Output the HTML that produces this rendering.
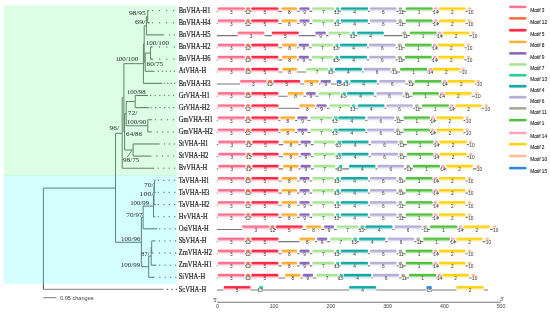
<!DOCTYPE html><html><head><meta charset="utf-8"><style>
html,body{margin:0;padding:0;background:#fff;width:550px;height:312px;overflow:hidden}
svg{display:block;filter:blur(0.3px)}
.tx{font-family:"Liberation Serif",serif;font-size:7.5px;fill:#1a1a1a;stroke:#1a1a1a;stroke-width:0.18px}
.bs{font-family:"Liberation Serif",serif;font-size:6.9px;fill:#2a2a2a}
.ml{font-family:"Liberation Sans",sans-serif;font-size:5.6px;fill:#383838;text-anchor:middle}
.lg{font-family:"Liberation Sans",sans-serif;font-size:5.3px;fill:#222;stroke:#222;stroke-width:0.1px}
.ax{font-family:"Liberation Sans",sans-serif;font-size:5.3px;fill:#444;text-anchor:middle}
</style></head><body>
<svg width="550" height="312" viewBox="0 0 550 312">
<defs>
<linearGradient id="g3" x1="0" y1="0" x2="0" y2="1"><stop offset="0" stop-color="#ff6f8e" stop-opacity="0.6"/><stop offset="0.2" stop-color="#ff6f8e"/><stop offset="0.5" stop-color="#ff6f8e"/><stop offset="0.75" stop-color="#ff6f8e" stop-opacity="0.5"/><stop offset="1" stop-color="#ff6f8e" stop-opacity="0.25"/></linearGradient><linearGradient id="h3" x1="0" y1="0" x2="0" y2="1"><stop offset="0" stop-color="#ff6f8e" stop-opacity="0.2"/><stop offset="1" stop-color="#ff6f8e" stop-opacity="0.03"/></linearGradient><linearGradient id="L3" x1="0" y1="0" x2="0" y2="1"><stop offset="0" stop-color="#ff6f8e" stop-opacity="0.6"/><stop offset="0.25" stop-color="#ff6f8e"/><stop offset="0.65" stop-color="#ff6f8e"/><stop offset="1" stop-color="#ff6f8e" stop-opacity="0.35"/></linearGradient>
<linearGradient id="g12" x1="0" y1="0" x2="0" y2="1"><stop offset="0" stop-color="#ff6a40" stop-opacity="0.6"/><stop offset="0.2" stop-color="#ff6a40"/><stop offset="0.5" stop-color="#ff6a40"/><stop offset="0.75" stop-color="#ff6a40" stop-opacity="0.5"/><stop offset="1" stop-color="#ff6a40" stop-opacity="0.25"/></linearGradient><linearGradient id="h12" x1="0" y1="0" x2="0" y2="1"><stop offset="0" stop-color="#ff6a40" stop-opacity="0.2"/><stop offset="1" stop-color="#ff6a40" stop-opacity="0.03"/></linearGradient><linearGradient id="L12" x1="0" y1="0" x2="0" y2="1"><stop offset="0" stop-color="#ff6a40" stop-opacity="0.6"/><stop offset="0.25" stop-color="#ff6a40"/><stop offset="0.65" stop-color="#ff6a40"/><stop offset="1" stop-color="#ff6a40" stop-opacity="0.35"/></linearGradient>
<linearGradient id="g5" x1="0" y1="0" x2="0" y2="1"><stop offset="0" stop-color="#ff2845" stop-opacity="0.6"/><stop offset="0.2" stop-color="#ff2845"/><stop offset="0.5" stop-color="#ff2845"/><stop offset="0.75" stop-color="#ff2845" stop-opacity="0.5"/><stop offset="1" stop-color="#ff2845" stop-opacity="0.25"/></linearGradient><linearGradient id="h5" x1="0" y1="0" x2="0" y2="1"><stop offset="0" stop-color="#ff2845" stop-opacity="0.2"/><stop offset="1" stop-color="#ff2845" stop-opacity="0.03"/></linearGradient><linearGradient id="L5" x1="0" y1="0" x2="0" y2="1"><stop offset="0" stop-color="#ff2845" stop-opacity="0.6"/><stop offset="0.25" stop-color="#ff2845"/><stop offset="0.65" stop-color="#ff2845"/><stop offset="1" stop-color="#ff2845" stop-opacity="0.35"/></linearGradient>
<linearGradient id="g8" x1="0" y1="0" x2="0" y2="1"><stop offset="0" stop-color="#ffad2e" stop-opacity="0.6"/><stop offset="0.2" stop-color="#ffad2e"/><stop offset="0.5" stop-color="#ffad2e"/><stop offset="0.75" stop-color="#ffad2e" stop-opacity="0.5"/><stop offset="1" stop-color="#ffad2e" stop-opacity="0.25"/></linearGradient><linearGradient id="h8" x1="0" y1="0" x2="0" y2="1"><stop offset="0" stop-color="#ffad2e" stop-opacity="0.2"/><stop offset="1" stop-color="#ffad2e" stop-opacity="0.03"/></linearGradient><linearGradient id="L8" x1="0" y1="0" x2="0" y2="1"><stop offset="0" stop-color="#ffad2e" stop-opacity="0.6"/><stop offset="0.25" stop-color="#ffad2e"/><stop offset="0.65" stop-color="#ffad2e"/><stop offset="1" stop-color="#ffad2e" stop-opacity="0.35"/></linearGradient>
<linearGradient id="g9" x1="0" y1="0" x2="0" y2="1"><stop offset="0" stop-color="#8a66b8" stop-opacity="0.6"/><stop offset="0.2" stop-color="#8a66b8"/><stop offset="0.5" stop-color="#8a66b8"/><stop offset="0.75" stop-color="#8a66b8" stop-opacity="0.5"/><stop offset="1" stop-color="#8a66b8" stop-opacity="0.25"/></linearGradient><linearGradient id="h9" x1="0" y1="0" x2="0" y2="1"><stop offset="0" stop-color="#8a66b8" stop-opacity="0.2"/><stop offset="1" stop-color="#8a66b8" stop-opacity="0.03"/></linearGradient><linearGradient id="L9" x1="0" y1="0" x2="0" y2="1"><stop offset="0" stop-color="#8a66b8" stop-opacity="0.6"/><stop offset="0.25" stop-color="#8a66b8"/><stop offset="0.65" stop-color="#8a66b8"/><stop offset="1" stop-color="#8a66b8" stop-opacity="0.35"/></linearGradient>
<linearGradient id="g7" x1="0" y1="0" x2="0" y2="1"><stop offset="0" stop-color="#a8e495" stop-opacity="0.6"/><stop offset="0.2" stop-color="#a8e495"/><stop offset="0.5" stop-color="#a8e495"/><stop offset="0.75" stop-color="#a8e495" stop-opacity="0.5"/><stop offset="1" stop-color="#a8e495" stop-opacity="0.25"/></linearGradient><linearGradient id="h7" x1="0" y1="0" x2="0" y2="1"><stop offset="0" stop-color="#a8e495" stop-opacity="0.2"/><stop offset="1" stop-color="#a8e495" stop-opacity="0.03"/></linearGradient><linearGradient id="L7" x1="0" y1="0" x2="0" y2="1"><stop offset="0" stop-color="#a8e495" stop-opacity="0.6"/><stop offset="0.25" stop-color="#a8e495"/><stop offset="0.65" stop-color="#a8e495"/><stop offset="1" stop-color="#a8e495" stop-opacity="0.35"/></linearGradient>
<linearGradient id="g13" x1="0" y1="0" x2="0" y2="1"><stop offset="0" stop-color="#2fcc99" stop-opacity="0.6"/><stop offset="0.2" stop-color="#2fcc99"/><stop offset="0.5" stop-color="#2fcc99"/><stop offset="0.75" stop-color="#2fcc99" stop-opacity="0.5"/><stop offset="1" stop-color="#2fcc99" stop-opacity="0.25"/></linearGradient><linearGradient id="h13" x1="0" y1="0" x2="0" y2="1"><stop offset="0" stop-color="#2fcc99" stop-opacity="0.2"/><stop offset="1" stop-color="#2fcc99" stop-opacity="0.03"/></linearGradient><linearGradient id="L13" x1="0" y1="0" x2="0" y2="1"><stop offset="0" stop-color="#2fcc99" stop-opacity="0.6"/><stop offset="0.25" stop-color="#2fcc99"/><stop offset="0.65" stop-color="#2fcc99"/><stop offset="1" stop-color="#2fcc99" stop-opacity="0.35"/></linearGradient>
<linearGradient id="g4" x1="0" y1="0" x2="0" y2="1"><stop offset="0" stop-color="#14a8a0" stop-opacity="0.6"/><stop offset="0.2" stop-color="#14a8a0"/><stop offset="0.5" stop-color="#14a8a0"/><stop offset="0.75" stop-color="#14a8a0" stop-opacity="0.5"/><stop offset="1" stop-color="#14a8a0" stop-opacity="0.25"/></linearGradient><linearGradient id="h4" x1="0" y1="0" x2="0" y2="1"><stop offset="0" stop-color="#14a8a0" stop-opacity="0.2"/><stop offset="1" stop-color="#14a8a0" stop-opacity="0.03"/></linearGradient><linearGradient id="L4" x1="0" y1="0" x2="0" y2="1"><stop offset="0" stop-color="#14a8a0" stop-opacity="0.6"/><stop offset="0.25" stop-color="#14a8a0"/><stop offset="0.65" stop-color="#14a8a0"/><stop offset="1" stop-color="#14a8a0" stop-opacity="0.35"/></linearGradient>
<linearGradient id="g6" x1="0" y1="0" x2="0" y2="1"><stop offset="0" stop-color="#b4aed8" stop-opacity="0.6"/><stop offset="0.2" stop-color="#b4aed8"/><stop offset="0.5" stop-color="#b4aed8"/><stop offset="0.75" stop-color="#b4aed8" stop-opacity="0.5"/><stop offset="1" stop-color="#b4aed8" stop-opacity="0.25"/></linearGradient><linearGradient id="h6" x1="0" y1="0" x2="0" y2="1"><stop offset="0" stop-color="#b4aed8" stop-opacity="0.2"/><stop offset="1" stop-color="#b4aed8" stop-opacity="0.03"/></linearGradient><linearGradient id="L6" x1="0" y1="0" x2="0" y2="1"><stop offset="0" stop-color="#b4aed8" stop-opacity="0.6"/><stop offset="0.25" stop-color="#b4aed8"/><stop offset="0.65" stop-color="#b4aed8"/><stop offset="1" stop-color="#b4aed8" stop-opacity="0.35"/></linearGradient>
<linearGradient id="g11" x1="0" y1="0" x2="0" y2="1"><stop offset="0" stop-color="#a3aa90" stop-opacity="0.6"/><stop offset="0.2" stop-color="#a3aa90"/><stop offset="0.5" stop-color="#a3aa90"/><stop offset="0.75" stop-color="#a3aa90" stop-opacity="0.5"/><stop offset="1" stop-color="#a3aa90" stop-opacity="0.25"/></linearGradient><linearGradient id="h11" x1="0" y1="0" x2="0" y2="1"><stop offset="0" stop-color="#a3aa90" stop-opacity="0.2"/><stop offset="1" stop-color="#a3aa90" stop-opacity="0.03"/></linearGradient><linearGradient id="L11" x1="0" y1="0" x2="0" y2="1"><stop offset="0" stop-color="#a3aa90" stop-opacity="0.6"/><stop offset="0.25" stop-color="#a3aa90"/><stop offset="0.65" stop-color="#a3aa90"/><stop offset="1" stop-color="#a3aa90" stop-opacity="0.35"/></linearGradient>
<linearGradient id="g1" x1="0" y1="0" x2="0" y2="1"><stop offset="0" stop-color="#55c040" stop-opacity="0.6"/><stop offset="0.2" stop-color="#55c040"/><stop offset="0.5" stop-color="#55c040"/><stop offset="0.75" stop-color="#55c040" stop-opacity="0.5"/><stop offset="1" stop-color="#55c040" stop-opacity="0.25"/></linearGradient><linearGradient id="h1" x1="0" y1="0" x2="0" y2="1"><stop offset="0" stop-color="#55c040" stop-opacity="0.2"/><stop offset="1" stop-color="#55c040" stop-opacity="0.03"/></linearGradient><linearGradient id="L1" x1="0" y1="0" x2="0" y2="1"><stop offset="0" stop-color="#55c040" stop-opacity="0.6"/><stop offset="0.25" stop-color="#55c040"/><stop offset="0.65" stop-color="#55c040"/><stop offset="1" stop-color="#55c040" stop-opacity="0.35"/></linearGradient>
<linearGradient id="g14" x1="0" y1="0" x2="0" y2="1"><stop offset="0" stop-color="#ffa2bb" stop-opacity="0.6"/><stop offset="0.2" stop-color="#ffa2bb"/><stop offset="0.5" stop-color="#ffa2bb"/><stop offset="0.75" stop-color="#ffa2bb" stop-opacity="0.5"/><stop offset="1" stop-color="#ffa2bb" stop-opacity="0.25"/></linearGradient><linearGradient id="h14" x1="0" y1="0" x2="0" y2="1"><stop offset="0" stop-color="#ffa2bb" stop-opacity="0.2"/><stop offset="1" stop-color="#ffa2bb" stop-opacity="0.03"/></linearGradient><linearGradient id="L14" x1="0" y1="0" x2="0" y2="1"><stop offset="0" stop-color="#ffa2bb" stop-opacity="0.6"/><stop offset="0.25" stop-color="#ffa2bb"/><stop offset="0.65" stop-color="#ffa2bb"/><stop offset="1" stop-color="#ffa2bb" stop-opacity="0.35"/></linearGradient>
<linearGradient id="g2" x1="0" y1="0" x2="0" y2="1"><stop offset="0" stop-color="#ffd20f" stop-opacity="0.6"/><stop offset="0.2" stop-color="#ffd20f"/><stop offset="0.5" stop-color="#ffd20f"/><stop offset="0.75" stop-color="#ffd20f" stop-opacity="0.5"/><stop offset="1" stop-color="#ffd20f" stop-opacity="0.25"/></linearGradient><linearGradient id="h2" x1="0" y1="0" x2="0" y2="1"><stop offset="0" stop-color="#ffd20f" stop-opacity="0.2"/><stop offset="1" stop-color="#ffd20f" stop-opacity="0.03"/></linearGradient><linearGradient id="L2" x1="0" y1="0" x2="0" y2="1"><stop offset="0" stop-color="#ffd20f" stop-opacity="0.6"/><stop offset="0.25" stop-color="#ffd20f"/><stop offset="0.65" stop-color="#ffd20f"/><stop offset="1" stop-color="#ffd20f" stop-opacity="0.35"/></linearGradient>
<linearGradient id="g10" x1="0" y1="0" x2="0" y2="1"><stop offset="0" stop-color="#ffbf9c" stop-opacity="0.6"/><stop offset="0.2" stop-color="#ffbf9c"/><stop offset="0.5" stop-color="#ffbf9c"/><stop offset="0.75" stop-color="#ffbf9c" stop-opacity="0.5"/><stop offset="1" stop-color="#ffbf9c" stop-opacity="0.25"/></linearGradient><linearGradient id="h10" x1="0" y1="0" x2="0" y2="1"><stop offset="0" stop-color="#ffbf9c" stop-opacity="0.2"/><stop offset="1" stop-color="#ffbf9c" stop-opacity="0.03"/></linearGradient><linearGradient id="L10" x1="0" y1="0" x2="0" y2="1"><stop offset="0" stop-color="#ffbf9c" stop-opacity="0.6"/><stop offset="0.25" stop-color="#ffbf9c"/><stop offset="0.65" stop-color="#ffbf9c"/><stop offset="1" stop-color="#ffbf9c" stop-opacity="0.35"/></linearGradient>
<linearGradient id="g15" x1="0" y1="0" x2="0" y2="1"><stop offset="0" stop-color="#2a88dd" stop-opacity="0.6"/><stop offset="0.2" stop-color="#2a88dd"/><stop offset="0.5" stop-color="#2a88dd"/><stop offset="0.75" stop-color="#2a88dd" stop-opacity="0.5"/><stop offset="1" stop-color="#2a88dd" stop-opacity="0.25"/></linearGradient><linearGradient id="h15" x1="0" y1="0" x2="0" y2="1"><stop offset="0" stop-color="#2a88dd" stop-opacity="0.2"/><stop offset="1" stop-color="#2a88dd" stop-opacity="0.03"/></linearGradient><linearGradient id="L15" x1="0" y1="0" x2="0" y2="1"><stop offset="0" stop-color="#2a88dd" stop-opacity="0.6"/><stop offset="0.25" stop-color="#2a88dd"/><stop offset="0.65" stop-color="#2a88dd"/><stop offset="1" stop-color="#2a88dd" stop-opacity="0.35"/></linearGradient>
</defs>
<line x1="147.70" y1="10.65" x2="147.70" y2="22.77" stroke="#4a4a4a" stroke-width="1.0"/>
<line x1="146.40" y1="16.71" x2="146.40" y2="34.89" stroke="#4a4a4a" stroke-width="1.0"/>
<line x1="146.40" y1="16.71" x2="147.70" y2="16.71" stroke="#4a4a4a" stroke-width="1.0"/>
<line x1="150.50" y1="47.01" x2="150.50" y2="59.13" stroke="#4a4a4a" stroke-width="1.0"/>
<line x1="145.20" y1="53.07" x2="145.20" y2="71.25" stroke="#4a4a4a" stroke-width="1.0"/>
<line x1="145.20" y1="53.07" x2="150.50" y2="53.07" stroke="#4a4a4a" stroke-width="1.0"/>
<line x1="144.20" y1="25.80" x2="144.20" y2="62.16" stroke="#4a4a4a" stroke-width="1.0"/>
<line x1="144.20" y1="25.80" x2="146.40" y2="25.80" stroke="#4a4a4a" stroke-width="1.0"/>
<line x1="144.20" y1="62.16" x2="145.20" y2="62.16" stroke="#4a4a4a" stroke-width="1.0"/>
<line x1="143.40" y1="43.98" x2="143.40" y2="83.37" stroke="#4a4a4a" stroke-width="1.0"/>
<line x1="143.40" y1="43.98" x2="144.20" y2="43.98" stroke="#4a4a4a" stroke-width="1.0"/>
<line x1="135.20" y1="95.49" x2="135.20" y2="107.61" stroke="#4a4a4a" stroke-width="1.0"/>
<line x1="147.80" y1="119.73" x2="147.80" y2="131.85" stroke="#4a4a4a" stroke-width="1.0"/>
<line x1="126.20" y1="101.55" x2="126.20" y2="125.79" stroke="#4a4a4a" stroke-width="1.0"/>
<line x1="126.20" y1="101.55" x2="135.20" y2="101.55" stroke="#4a4a4a" stroke-width="1.0"/>
<line x1="126.20" y1="125.79" x2="147.80" y2="125.79" stroke="#4a4a4a" stroke-width="1.0"/>
<line x1="133.10" y1="143.97" x2="133.10" y2="156.09" stroke="#4a4a4a" stroke-width="1.0"/>
<line x1="124.60" y1="113.67" x2="124.60" y2="150.03" stroke="#4a4a4a" stroke-width="1.0"/>
<line x1="124.60" y1="113.67" x2="126.20" y2="113.67" stroke="#4a4a4a" stroke-width="1.0"/>
<line x1="124.60" y1="150.03" x2="133.10" y2="150.03" stroke="#4a4a4a" stroke-width="1.0"/>
<line x1="123.90" y1="63.67" x2="123.90" y2="131.85" stroke="#4a4a4a" stroke-width="1.0"/>
<line x1="123.90" y1="63.67" x2="143.40" y2="63.67" stroke="#4a4a4a" stroke-width="1.0"/>
<line x1="123.90" y1="131.85" x2="124.60" y2="131.85" stroke="#4a4a4a" stroke-width="1.0"/>
<line x1="122.20" y1="97.76" x2="122.20" y2="168.21" stroke="#4a4a4a" stroke-width="1.0"/>
<line x1="122.20" y1="97.76" x2="123.90" y2="97.76" stroke="#4a4a4a" stroke-width="1.0"/>
<line x1="154.40" y1="180.33" x2="154.40" y2="192.45" stroke="#4a4a4a" stroke-width="1.0"/>
<line x1="154.00" y1="186.39" x2="154.00" y2="204.57" stroke="#4a4a4a" stroke-width="1.0"/>
<line x1="154.00" y1="186.39" x2="154.40" y2="186.39" stroke="#4a4a4a" stroke-width="1.0"/>
<line x1="153.50" y1="195.48" x2="153.50" y2="216.69" stroke="#4a4a4a" stroke-width="1.0"/>
<line x1="153.50" y1="195.48" x2="154.00" y2="195.48" stroke="#4a4a4a" stroke-width="1.0"/>
<line x1="143.10" y1="206.08" x2="143.10" y2="228.81" stroke="#4a4a4a" stroke-width="1.0"/>
<line x1="143.10" y1="206.08" x2="153.50" y2="206.08" stroke="#4a4a4a" stroke-width="1.0"/>
<line x1="151.70" y1="240.93" x2="151.70" y2="253.05" stroke="#4a4a4a" stroke-width="1.0"/>
<line x1="151.20" y1="246.99" x2="151.20" y2="265.17" stroke="#4a4a4a" stroke-width="1.0"/>
<line x1="151.20" y1="246.99" x2="151.70" y2="246.99" stroke="#4a4a4a" stroke-width="1.0"/>
<line x1="148.70" y1="256.08" x2="148.70" y2="277.29" stroke="#4a4a4a" stroke-width="1.0"/>
<line x1="148.70" y1="256.08" x2="151.20" y2="256.08" stroke="#4a4a4a" stroke-width="1.0"/>
<line x1="141.40" y1="217.45" x2="141.40" y2="266.68" stroke="#4a4a4a" stroke-width="1.0"/>
<line x1="141.40" y1="217.45" x2="143.10" y2="217.45" stroke="#4a4a4a" stroke-width="1.0"/>
<line x1="141.40" y1="266.68" x2="148.70" y2="266.68" stroke="#4a4a4a" stroke-width="1.0"/>
<line x1="115.50" y1="133.29" x2="115.50" y2="242.27" stroke="#4a4a4a" stroke-width="1.0"/>
<line x1="115.50" y1="133.29" x2="122.20" y2="133.29" stroke="#4a4a4a" stroke-width="1.0"/>
<line x1="115.50" y1="242.27" x2="141.40" y2="242.27" stroke="#4a4a4a" stroke-width="1.0"/>
<line x1="43.40" y1="188.08" x2="43.40" y2="289.41" stroke="#4a4a4a" stroke-width="1.0"/>
<line x1="43.40" y1="188.08" x2="115.50" y2="188.08" stroke="#4a4a4a" stroke-width="1.0"/>
<line x1="147.70" y1="10.65" x2="149.00" y2="10.65" stroke="#4a4a4a" stroke-width="1.1"/>
<rect x="151.90" y="10.05" width="1.2" height="1.2" fill="#4a4a4a"/>
<rect x="158.93" y="10.05" width="1.2" height="1.2" fill="#4a4a4a"/>
<rect x="165.97" y="10.05" width="1.2" height="1.2" fill="#4a4a4a"/>
<rect x="173.00" y="10.05" width="1.2" height="1.2" fill="#4a4a4a"/>
<line x1="147.70" y1="22.77" x2="149.80" y2="22.77" stroke="#4a4a4a" stroke-width="1.1"/>
<rect x="151.90" y="22.17" width="1.2" height="1.2" fill="#4a4a4a"/>
<rect x="158.93" y="22.17" width="1.2" height="1.2" fill="#4a4a4a"/>
<rect x="165.97" y="22.17" width="1.2" height="1.2" fill="#4a4a4a"/>
<rect x="173.00" y="22.17" width="1.2" height="1.2" fill="#4a4a4a"/>
<line x1="146.40" y1="34.89" x2="164.00" y2="34.89" stroke="#4a4a4a" stroke-width="1.1"/>
<rect x="168.90" y="34.29" width="1.2" height="1.2" fill="#4a4a4a"/>
<rect x="173.60" y="34.29" width="1.2" height="1.2" fill="#4a4a4a"/>
<line x1="150.50" y1="47.01" x2="152.00" y2="47.01" stroke="#4a4a4a" stroke-width="1.1"/>
<rect x="151.40" y="46.41" width="1.2" height="1.2" fill="#4a4a4a"/>
<rect x="158.80" y="46.41" width="1.2" height="1.2" fill="#4a4a4a"/>
<rect x="166.20" y="46.41" width="1.2" height="1.2" fill="#4a4a4a"/>
<rect x="173.60" y="46.41" width="1.2" height="1.2" fill="#4a4a4a"/>
<line x1="150.50" y1="59.13" x2="152.00" y2="59.13" stroke="#4a4a4a" stroke-width="1.1"/>
<rect x="151.90" y="58.53" width="1.2" height="1.2" fill="#4a4a4a"/>
<rect x="159.03" y="58.53" width="1.2" height="1.2" fill="#4a4a4a"/>
<rect x="166.17" y="58.53" width="1.2" height="1.2" fill="#4a4a4a"/>
<rect x="173.30" y="58.53" width="1.2" height="1.2" fill="#4a4a4a"/>
<line x1="145.20" y1="71.25" x2="154.50" y2="71.25" stroke="#4a4a4a" stroke-width="1.1"/>
<rect x="157.80" y="70.65" width="1.2" height="1.2" fill="#4a4a4a"/>
<rect x="161.75" y="70.65" width="1.2" height="1.2" fill="#4a4a4a"/>
<rect x="165.70" y="70.65" width="1.2" height="1.2" fill="#4a4a4a"/>
<rect x="169.65" y="70.65" width="1.2" height="1.2" fill="#4a4a4a"/>
<rect x="173.60" y="70.65" width="1.2" height="1.2" fill="#4a4a4a"/>
<line x1="143.40" y1="83.37" x2="162.30" y2="83.37" stroke="#4a4a4a" stroke-width="1.1"/>
<rect x="163.70" y="82.77" width="1.2" height="1.2" fill="#4a4a4a"/>
<rect x="167.17" y="82.77" width="1.2" height="1.2" fill="#4a4a4a"/>
<rect x="170.63" y="82.77" width="1.2" height="1.2" fill="#4a4a4a"/>
<rect x="174.10" y="82.77" width="1.2" height="1.2" fill="#4a4a4a"/>
<line x1="135.20" y1="95.49" x2="148.00" y2="95.49" stroke="#4a4a4a" stroke-width="1.1"/>
<rect x="150.00" y="94.89" width="1.2" height="1.2" fill="#4a4a4a"/>
<rect x="154.58" y="94.89" width="1.2" height="1.2" fill="#4a4a4a"/>
<rect x="159.16" y="94.89" width="1.2" height="1.2" fill="#4a4a4a"/>
<rect x="163.74" y="94.89" width="1.2" height="1.2" fill="#4a4a4a"/>
<rect x="168.32" y="94.89" width="1.2" height="1.2" fill="#4a4a4a"/>
<rect x="172.90" y="94.89" width="1.2" height="1.2" fill="#4a4a4a"/>
<line x1="135.20" y1="107.61" x2="149.10" y2="107.61" stroke="#4a4a4a" stroke-width="1.1"/>
<rect x="150.40" y="107.01" width="1.2" height="1.2" fill="#4a4a4a"/>
<rect x="154.94" y="107.01" width="1.2" height="1.2" fill="#4a4a4a"/>
<rect x="159.48" y="107.01" width="1.2" height="1.2" fill="#4a4a4a"/>
<rect x="164.02" y="107.01" width="1.2" height="1.2" fill="#4a4a4a"/>
<rect x="168.56" y="107.01" width="1.2" height="1.2" fill="#4a4a4a"/>
<rect x="173.10" y="107.01" width="1.2" height="1.2" fill="#4a4a4a"/>
<line x1="147.80" y1="119.73" x2="151.80" y2="119.73" stroke="#4a4a4a" stroke-width="1.1"/>
<rect x="154.80" y="119.13" width="1.2" height="1.2" fill="#4a4a4a"/>
<rect x="160.77" y="119.13" width="1.2" height="1.2" fill="#4a4a4a"/>
<rect x="166.73" y="119.13" width="1.2" height="1.2" fill="#4a4a4a"/>
<rect x="172.70" y="119.13" width="1.2" height="1.2" fill="#4a4a4a"/>
<line x1="147.80" y1="131.85" x2="151.80" y2="131.85" stroke="#4a4a4a" stroke-width="1.1"/>
<rect x="156.60" y="131.25" width="1.2" height="1.2" fill="#4a4a4a"/>
<rect x="161.97" y="131.25" width="1.2" height="1.2" fill="#4a4a4a"/>
<rect x="167.33" y="131.25" width="1.2" height="1.2" fill="#4a4a4a"/>
<rect x="172.70" y="131.25" width="1.2" height="1.2" fill="#4a4a4a"/>
<line x1="133.10" y1="143.97" x2="159.60" y2="143.97" stroke="#4a4a4a" stroke-width="1.1"/>
<rect x="163.90" y="143.37" width="1.2" height="1.2" fill="#4a4a4a"/>
<rect x="168.70" y="143.37" width="1.2" height="1.2" fill="#4a4a4a"/>
<rect x="173.50" y="143.37" width="1.2" height="1.2" fill="#4a4a4a"/>
<line x1="133.10" y1="156.09" x2="151.40" y2="156.09" stroke="#4a4a4a" stroke-width="1.1"/>
<rect x="156.20" y="155.49" width="1.2" height="1.2" fill="#4a4a4a"/>
<rect x="161.83" y="155.49" width="1.2" height="1.2" fill="#4a4a4a"/>
<rect x="167.47" y="155.49" width="1.2" height="1.2" fill="#4a4a4a"/>
<rect x="173.10" y="155.49" width="1.2" height="1.2" fill="#4a4a4a"/>
<line x1="122.20" y1="168.21" x2="154.30" y2="168.21" stroke="#4a4a4a" stroke-width="1.1"/>
<rect x="157.70" y="167.61" width="1.2" height="1.2" fill="#4a4a4a"/>
<rect x="163.10" y="167.61" width="1.2" height="1.2" fill="#4a4a4a"/>
<rect x="168.50" y="167.61" width="1.2" height="1.2" fill="#4a4a4a"/>
<rect x="173.90" y="167.61" width="1.2" height="1.2" fill="#4a4a4a"/>
<line x1="154.40" y1="180.33" x2="155.60" y2="180.33" stroke="#4a4a4a" stroke-width="1.1"/>
<rect x="157.80" y="179.73" width="1.2" height="1.2" fill="#4a4a4a"/>
<rect x="163.13" y="179.73" width="1.2" height="1.2" fill="#4a4a4a"/>
<rect x="168.47" y="179.73" width="1.2" height="1.2" fill="#4a4a4a"/>
<rect x="173.80" y="179.73" width="1.2" height="1.2" fill="#4a4a4a"/>
<line x1="154.40" y1="192.45" x2="155.60" y2="192.45" stroke="#4a4a4a" stroke-width="1.1"/>
<rect x="157.70" y="191.85" width="1.2" height="1.2" fill="#4a4a4a"/>
<rect x="163.20" y="191.85" width="1.2" height="1.2" fill="#4a4a4a"/>
<rect x="168.70" y="191.85" width="1.2" height="1.2" fill="#4a4a4a"/>
<rect x="174.20" y="191.85" width="1.2" height="1.2" fill="#4a4a4a"/>
<line x1="154.00" y1="204.57" x2="155.60" y2="204.57" stroke="#4a4a4a" stroke-width="1.1"/>
<rect x="157.70" y="203.97" width="1.2" height="1.2" fill="#4a4a4a"/>
<rect x="163.20" y="203.97" width="1.2" height="1.2" fill="#4a4a4a"/>
<rect x="168.70" y="203.97" width="1.2" height="1.2" fill="#4a4a4a"/>
<rect x="174.20" y="203.97" width="1.2" height="1.2" fill="#4a4a4a"/>
<line x1="153.50" y1="216.69" x2="155.20" y2="216.69" stroke="#4a4a4a" stroke-width="1.1"/>
<rect x="157.70" y="216.09" width="1.2" height="1.2" fill="#4a4a4a"/>
<rect x="163.20" y="216.09" width="1.2" height="1.2" fill="#4a4a4a"/>
<rect x="168.70" y="216.09" width="1.2" height="1.2" fill="#4a4a4a"/>
<rect x="174.20" y="216.09" width="1.2" height="1.2" fill="#4a4a4a"/>
<line x1="143.10" y1="228.81" x2="157.50" y2="228.81" stroke="#4a4a4a" stroke-width="1.1"/>
<rect x="159.10" y="228.21" width="1.2" height="1.2" fill="#4a4a4a"/>
<rect x="164.27" y="228.21" width="1.2" height="1.2" fill="#4a4a4a"/>
<rect x="169.43" y="228.21" width="1.2" height="1.2" fill="#4a4a4a"/>
<rect x="174.60" y="228.21" width="1.2" height="1.2" fill="#4a4a4a"/>
<line x1="151.70" y1="240.93" x2="155.50" y2="240.93" stroke="#4a4a4a" stroke-width="1.1"/>
<rect x="158.90" y="240.33" width="1.2" height="1.2" fill="#4a4a4a"/>
<rect x="164.27" y="240.33" width="1.2" height="1.2" fill="#4a4a4a"/>
<rect x="169.63" y="240.33" width="1.2" height="1.2" fill="#4a4a4a"/>
<rect x="175.00" y="240.33" width="1.2" height="1.2" fill="#4a4a4a"/>
<line x1="151.70" y1="253.05" x2="153.50" y2="253.05" stroke="#4a4a4a" stroke-width="1.1"/>
<rect x="158.90" y="252.45" width="1.2" height="1.2" fill="#4a4a4a"/>
<rect x="164.27" y="252.45" width="1.2" height="1.2" fill="#4a4a4a"/>
<rect x="169.63" y="252.45" width="1.2" height="1.2" fill="#4a4a4a"/>
<rect x="175.00" y="252.45" width="1.2" height="1.2" fill="#4a4a4a"/>
<line x1="151.20" y1="265.17" x2="156.40" y2="265.17" stroke="#4a4a4a" stroke-width="1.1"/>
<rect x="159.10" y="264.57" width="1.2" height="1.2" fill="#4a4a4a"/>
<rect x="164.40" y="264.57" width="1.2" height="1.2" fill="#4a4a4a"/>
<rect x="169.70" y="264.57" width="1.2" height="1.2" fill="#4a4a4a"/>
<rect x="175.00" y="264.57" width="1.2" height="1.2" fill="#4a4a4a"/>
<line x1="148.70" y1="277.29" x2="154.50" y2="277.29" stroke="#4a4a4a" stroke-width="1.1"/>
<rect x="159.20" y="276.69" width="1.2" height="1.2" fill="#4a4a4a"/>
<rect x="164.53" y="276.69" width="1.2" height="1.2" fill="#4a4a4a"/>
<rect x="169.87" y="276.69" width="1.2" height="1.2" fill="#4a4a4a"/>
<rect x="175.20" y="276.69" width="1.2" height="1.2" fill="#4a4a4a"/>
<line x1="43.40" y1="289.41" x2="163.60" y2="289.41" stroke="#9a9a9a" stroke-width="1.3"/>
<rect x="166.90" y="288.81" width="1.2" height="1.2" fill="#4a4a4a"/>
<rect x="171.35" y="288.81" width="1.2" height="1.2" fill="#4a4a4a"/>
<rect x="175.80" y="288.81" width="1.2" height="1.2" fill="#4a4a4a"/>
<rect x="4" y="5.2" width="172.9" height="170.9" fill="rgb(146,252,174)" fill-opacity="0.32"/>
<rect x="4" y="175.3" width="172.9" height="108.5" fill="rgb(121,252,252)" fill-opacity="0.32"/>
<text class="bs" x="128.90" y="15.10" textLength="16.90" lengthAdjust="spacingAndGlyphs">98/95</text>
<text class="bs" x="135.10" y="24.40" textLength="10.50" lengthAdjust="spacingAndGlyphs">69/</text>
<text class="bs" x="145.70" y="45.10" textLength="23.40" lengthAdjust="spacingAndGlyphs">100/100</text>
<text class="bs" x="146.50" y="66.00" textLength="16.80" lengthAdjust="spacingAndGlyphs">60/75</text>
<text class="bs" x="115.40" y="60.90" textLength="22.80" lengthAdjust="spacingAndGlyphs">100/100</text>
<text class="bs" x="126.80" y="94.10" textLength="18.80" lengthAdjust="spacingAndGlyphs">100/98</text>
<text class="bs" x="127.80" y="115.30" textLength="9.50" lengthAdjust="spacingAndGlyphs">72/</text>
<text class="bs" x="126.80" y="124.00" textLength="19.50" lengthAdjust="spacingAndGlyphs">100/90</text>
<text class="bs" x="109.50" y="130.40" textLength="9.70" lengthAdjust="spacingAndGlyphs">96/</text>
<text class="bs" x="126.10" y="136.40" textLength="16.10" lengthAdjust="spacingAndGlyphs">64/86</text>
<text class="bs" x="123.00" y="162.20" textLength="16.40" lengthAdjust="spacingAndGlyphs">98/75</text>
<text class="bs" x="144.00" y="186.60" textLength="9.60" lengthAdjust="spacingAndGlyphs">70/</text>
<text class="bs" x="139.50" y="195.70" textLength="14.10" lengthAdjust="spacingAndGlyphs">100/</text>
<text class="bs" x="130.20" y="205.00" textLength="19.00" lengthAdjust="spacingAndGlyphs">100/99</text>
<text class="bs" x="126.50" y="216.60" textLength="16.00" lengthAdjust="spacingAndGlyphs">70/97</text>
<text class="bs" x="121.10" y="241.20" textLength="19.30" lengthAdjust="spacingAndGlyphs">100/96</text>
<text class="bs" x="141.30" y="255.60" textLength="7.90" lengthAdjust="spacingAndGlyphs">87/</text>
<text class="bs" x="120.80" y="266.70" textLength="19.40" lengthAdjust="spacingAndGlyphs">100/99</text>
<line x1="126.9" y1="157.5" x2="131.7" y2="150.8" stroke="#4a4a4a" stroke-width="0.7"/>
<text class="tx" transform="translate(178.7 12.85) scale(0.87 1)">BnVHA-H1</text>
<text class="tx" transform="translate(178.7 24.97) scale(0.87 1)">BnVHA-H4</text>
<text class="tx" transform="translate(178.7 37.09) scale(0.87 1)">BnVHA-H5</text>
<text class="tx" transform="translate(178.7 49.21) scale(0.87 1)">BnVHA-H2</text>
<text class="tx" transform="translate(178.7 61.33) scale(0.87 1)">BnVHA-H6</text>
<text class="tx" transform="translate(178.7 73.45) scale(0.87 1)">AtVHA-H</text>
<text class="tx" transform="translate(178.7 85.57) scale(0.87 1)">BnVHA-H3</text>
<text class="tx" transform="translate(178.7 97.69) scale(0.87 1)">GrVHA-H1</text>
<text class="tx" transform="translate(178.7 109.81) scale(0.87 1)">GrVHA-H2</text>
<text class="tx" transform="translate(178.7 121.93) scale(0.87 1)">GmVHA-H1</text>
<text class="tx" transform="translate(178.7 134.05) scale(0.87 1)">GmVHA-H2</text>
<text class="tx" transform="translate(178.7 146.17) scale(0.87 1)">StVHA-H1</text>
<text class="tx" transform="translate(178.7 158.29) scale(0.87 1)">StVHA-H2</text>
<text class="tx" transform="translate(178.7 170.41) scale(0.87 1)">BvVHA-H</text>
<text class="tx" transform="translate(178.7 182.53) scale(0.87 1)">TaVHA-H1</text>
<text class="tx" transform="translate(178.7 194.65) scale(0.87 1)">TaVHA-H3</text>
<text class="tx" transform="translate(178.7 206.77) scale(0.87 1)">TaVHA-H2</text>
<text class="tx" transform="translate(178.7 218.89) scale(0.87 1)">HvVHA-H</text>
<text class="tx" transform="translate(178.7 231.01) scale(0.87 1)">OsiVHA-H</text>
<text class="tx" transform="translate(178.7 243.13) scale(0.87 1)">SbVHA-H</text>
<text class="tx" transform="translate(178.7 255.25) scale(0.87 1)">ZmVHA-H2</text>
<text class="tx" transform="translate(178.7 267.37) scale(0.87 1)">ZmVHA-H1</text>
<text class="tx" transform="translate(178.7 279.49) scale(0.87 1)">SiVHA-H</text>
<text class="tx" transform="translate(178.7 291.61) scale(0.87 1)">ScVHA-H</text>
<line x1="216.8" y1="11.35" x2="471.4" y2="11.35" stroke="#777" stroke-width="1.1"/>
<rect x="217.70" y="8.05" width="27.10" height="5.5" fill="#fff"/>
<rect x="217.90" y="8.55" width="26.70" height="3.6" rx="1.0" fill="url(#h3)" stroke="#ff6f8e" stroke-opacity="0.18" stroke-width="0.3"/>
<rect x="217.85" y="7.20" width="26.80" height="3.4" rx="1.1" fill="url(#g3)" stroke="#ff6f8e" stroke-opacity="0.3" stroke-width="0.3"/>
<rect x="246.10" y="8.05" width="3.90" height="5.5" fill="#fff"/>
<rect x="246.30" y="8.55" width="3.50" height="3.6" rx="1.0" fill="url(#h12)" stroke="#ff6a40" stroke-opacity="0.18" stroke-width="0.3"/>
<rect x="246.25" y="7.20" width="3.60" height="3.4" rx="1.1" fill="url(#g12)" stroke="#ff6a40" stroke-opacity="0.3" stroke-width="0.3"/>
<rect x="251.30" y="8.05" width="27.20" height="5.5" fill="#fff"/>
<rect x="251.50" y="8.55" width="26.80" height="3.6" rx="1.0" fill="url(#h5)" stroke="#ff2845" stroke-opacity="0.18" stroke-width="0.3"/>
<rect x="251.45" y="7.20" width="26.90" height="3.4" rx="1.1" fill="url(#g5)" stroke="#ff2845" stroke-opacity="0.3" stroke-width="0.3"/>
<rect x="281.60" y="8.05" width="15.60" height="5.5" fill="#fff"/>
<rect x="281.80" y="8.55" width="15.20" height="3.6" rx="1.0" fill="url(#h8)" stroke="#ffad2e" stroke-opacity="0.18" stroke-width="0.3"/>
<rect x="281.75" y="7.20" width="15.30" height="3.4" rx="1.1" fill="url(#g8)" stroke="#ffad2e" stroke-opacity="0.3" stroke-width="0.3"/>
<rect x="299.40" y="8.05" width="10.20" height="5.5" fill="#fff"/>
<rect x="299.60" y="8.55" width="9.80" height="3.6" rx="1.0" fill="url(#h9)" stroke="#8a66b8" stroke-opacity="0.18" stroke-width="0.3"/>
<rect x="299.55" y="7.20" width="9.90" height="3.4" rx="1.1" fill="url(#g9)" stroke="#8a66b8" stroke-opacity="0.3" stroke-width="0.3"/>
<rect x="312.20" y="8.05" width="22.00" height="5.5" fill="#fff"/>
<rect x="312.40" y="8.55" width="21.60" height="3.6" rx="1.0" fill="url(#h7)" stroke="#a8e495" stroke-opacity="0.18" stroke-width="0.3"/>
<rect x="312.35" y="7.20" width="21.70" height="3.4" rx="1.1" fill="url(#g7)" stroke="#a8e495" stroke-opacity="0.3" stroke-width="0.3"/>
<rect x="336.10" y="8.05" width="3.20" height="5.5" fill="#fff"/>
<rect x="336.30" y="8.55" width="2.80" height="3.6" rx="1.0" fill="url(#h13)" stroke="#2fcc99" stroke-opacity="0.18" stroke-width="0.3"/>
<rect x="336.25" y="7.20" width="2.90" height="3.4" rx="1.1" fill="url(#g13)" stroke="#2fcc99" stroke-opacity="0.3" stroke-width="0.3"/>
<rect x="340.80" y="8.05" width="27.30" height="5.5" fill="#fff"/>
<rect x="341.00" y="8.55" width="26.90" height="3.6" rx="1.0" fill="url(#h4)" stroke="#14a8a0" stroke-opacity="0.18" stroke-width="0.3"/>
<rect x="340.95" y="7.20" width="27.00" height="3.4" rx="1.1" fill="url(#g4)" stroke="#14a8a0" stroke-opacity="0.3" stroke-width="0.3"/>
<rect x="369.90" y="8.05" width="26.70" height="5.5" fill="#fff"/>
<rect x="370.10" y="8.55" width="26.30" height="3.6" rx="1.0" fill="url(#h6)" stroke="#b4aed8" stroke-opacity="0.18" stroke-width="0.3"/>
<rect x="370.05" y="7.20" width="26.40" height="3.4" rx="1.1" fill="url(#g6)" stroke="#b4aed8" stroke-opacity="0.3" stroke-width="0.3"/>
<rect x="398.50" y="8.05" width="3.70" height="5.5" fill="#fff"/>
<rect x="398.70" y="8.55" width="3.30" height="3.6" rx="1.0" fill="url(#h11)" stroke="#a3aa90" stroke-opacity="0.18" stroke-width="0.3"/>
<rect x="398.65" y="7.20" width="3.40" height="3.4" rx="1.1" fill="url(#g11)" stroke="#a3aa90" stroke-opacity="0.3" stroke-width="0.3"/>
<rect x="405.60" y="8.05" width="27.10" height="5.5" fill="#fff"/>
<rect x="405.80" y="8.55" width="26.70" height="3.6" rx="1.0" fill="url(#h1)" stroke="#55c040" stroke-opacity="0.18" stroke-width="0.3"/>
<rect x="405.75" y="7.20" width="26.80" height="3.4" rx="1.1" fill="url(#g1)" stroke="#55c040" stroke-opacity="0.3" stroke-width="0.3"/>
<rect x="433.80" y="8.05" width="3.60" height="5.5" fill="#fff"/>
<rect x="434.00" y="8.55" width="3.20" height="3.6" rx="1.0" fill="url(#h14)" stroke="#ffa2bb" stroke-opacity="0.18" stroke-width="0.3"/>
<rect x="433.95" y="7.20" width="3.30" height="3.4" rx="1.1" fill="url(#g14)" stroke="#ffa2bb" stroke-opacity="0.3" stroke-width="0.3"/>
<rect x="438.90" y="8.05" width="26.60" height="5.5" fill="#fff"/>
<rect x="439.10" y="8.55" width="26.20" height="3.6" rx="1.0" fill="url(#h2)" stroke="#ffd20f" stroke-opacity="0.18" stroke-width="0.3"/>
<rect x="439.05" y="7.20" width="26.30" height="3.4" rx="1.1" fill="url(#g2)" stroke="#ffd20f" stroke-opacity="0.3" stroke-width="0.3"/>
<rect x="467.80" y="8.05" width="3.60" height="5.5" fill="#fff"/>
<rect x="468.00" y="8.55" width="3.20" height="3.6" rx="1.0" fill="url(#h10)" stroke="#ffbf9c" stroke-opacity="0.18" stroke-width="0.3"/>
<rect x="467.95" y="7.20" width="3.30" height="3.4" rx="1.1" fill="url(#g10)" stroke="#ffbf9c" stroke-opacity="0.3" stroke-width="0.3"/>
<text class="ml" transform="translate(231.25 13.65) scale(0.85 1)">3</text>
<text class="ml" transform="translate(248.05 13.65) scale(0.85 1)">12</text>
<text class="ml" transform="translate(264.90 13.65) scale(0.85 1)">5</text>
<text class="ml" transform="translate(289.40 13.65) scale(0.85 1)">8</text>
<text class="ml" transform="translate(304.50 13.65) scale(0.85 1)">9</text>
<text class="ml" transform="translate(323.20 13.65) scale(0.85 1)">7</text>
<text class="ml" transform="translate(336.80 13.65) scale(0.85 1)">13</text>
<text class="ml" transform="translate(354.45 13.65) scale(0.85 1)">4</text>
<text class="ml" transform="translate(383.25 13.65) scale(0.85 1)">6</text>
<text class="ml" transform="translate(401.25 13.65) scale(0.85 1)">11</text>
<text class="ml" transform="translate(419.15 13.65) scale(0.85 1)">1</text>
<text class="ml" transform="translate(435.90 13.65) scale(0.85 1)">14</text>
<text class="ml" transform="translate(452.20 13.65) scale(0.85 1)">2</text>
<text class="ml" transform="translate(470.80 13.65) scale(0.85 1)">10</text>
<line x1="216.8" y1="23.47" x2="471.4" y2="23.47" stroke="#777" stroke-width="1.1"/>
<rect x="217.70" y="20.17" width="27.10" height="5.5" fill="#fff"/>
<rect x="217.90" y="20.67" width="26.70" height="3.6" rx="1.0" fill="url(#h3)" stroke="#ff6f8e" stroke-opacity="0.18" stroke-width="0.3"/>
<rect x="217.85" y="19.32" width="26.80" height="3.4" rx="1.1" fill="url(#g3)" stroke="#ff6f8e" stroke-opacity="0.3" stroke-width="0.3"/>
<rect x="246.10" y="20.17" width="3.90" height="5.5" fill="#fff"/>
<rect x="246.30" y="20.67" width="3.50" height="3.6" rx="1.0" fill="url(#h12)" stroke="#ff6a40" stroke-opacity="0.18" stroke-width="0.3"/>
<rect x="246.25" y="19.32" width="3.60" height="3.4" rx="1.1" fill="url(#g12)" stroke="#ff6a40" stroke-opacity="0.3" stroke-width="0.3"/>
<rect x="251.30" y="20.17" width="27.20" height="5.5" fill="#fff"/>
<rect x="251.50" y="20.67" width="26.80" height="3.6" rx="1.0" fill="url(#h5)" stroke="#ff2845" stroke-opacity="0.18" stroke-width="0.3"/>
<rect x="251.45" y="19.32" width="26.90" height="3.4" rx="1.1" fill="url(#g5)" stroke="#ff2845" stroke-opacity="0.3" stroke-width="0.3"/>
<rect x="281.60" y="20.17" width="15.60" height="5.5" fill="#fff"/>
<rect x="281.80" y="20.67" width="15.20" height="3.6" rx="1.0" fill="url(#h8)" stroke="#ffad2e" stroke-opacity="0.18" stroke-width="0.3"/>
<rect x="281.75" y="19.32" width="15.30" height="3.4" rx="1.1" fill="url(#g8)" stroke="#ffad2e" stroke-opacity="0.3" stroke-width="0.3"/>
<rect x="299.40" y="20.17" width="10.20" height="5.5" fill="#fff"/>
<rect x="299.60" y="20.67" width="9.80" height="3.6" rx="1.0" fill="url(#h9)" stroke="#8a66b8" stroke-opacity="0.18" stroke-width="0.3"/>
<rect x="299.55" y="19.32" width="9.90" height="3.4" rx="1.1" fill="url(#g9)" stroke="#8a66b8" stroke-opacity="0.3" stroke-width="0.3"/>
<rect x="312.20" y="20.17" width="22.00" height="5.5" fill="#fff"/>
<rect x="312.40" y="20.67" width="21.60" height="3.6" rx="1.0" fill="url(#h7)" stroke="#a8e495" stroke-opacity="0.18" stroke-width="0.3"/>
<rect x="312.35" y="19.32" width="21.70" height="3.4" rx="1.1" fill="url(#g7)" stroke="#a8e495" stroke-opacity="0.3" stroke-width="0.3"/>
<rect x="336.10" y="20.17" width="3.20" height="5.5" fill="#fff"/>
<rect x="336.30" y="20.67" width="2.80" height="3.6" rx="1.0" fill="url(#h13)" stroke="#2fcc99" stroke-opacity="0.18" stroke-width="0.3"/>
<rect x="336.25" y="19.32" width="2.90" height="3.4" rx="1.1" fill="url(#g13)" stroke="#2fcc99" stroke-opacity="0.3" stroke-width="0.3"/>
<rect x="340.80" y="20.17" width="27.30" height="5.5" fill="#fff"/>
<rect x="341.00" y="20.67" width="26.90" height="3.6" rx="1.0" fill="url(#h4)" stroke="#14a8a0" stroke-opacity="0.18" stroke-width="0.3"/>
<rect x="340.95" y="19.32" width="27.00" height="3.4" rx="1.1" fill="url(#g4)" stroke="#14a8a0" stroke-opacity="0.3" stroke-width="0.3"/>
<rect x="369.90" y="20.17" width="26.70" height="5.5" fill="#fff"/>
<rect x="370.10" y="20.67" width="26.30" height="3.6" rx="1.0" fill="url(#h6)" stroke="#b4aed8" stroke-opacity="0.18" stroke-width="0.3"/>
<rect x="370.05" y="19.32" width="26.40" height="3.4" rx="1.1" fill="url(#g6)" stroke="#b4aed8" stroke-opacity="0.3" stroke-width="0.3"/>
<rect x="398.50" y="20.17" width="3.70" height="5.5" fill="#fff"/>
<rect x="398.70" y="20.67" width="3.30" height="3.6" rx="1.0" fill="url(#h11)" stroke="#a3aa90" stroke-opacity="0.18" stroke-width="0.3"/>
<rect x="398.65" y="19.32" width="3.40" height="3.4" rx="1.1" fill="url(#g11)" stroke="#a3aa90" stroke-opacity="0.3" stroke-width="0.3"/>
<rect x="405.60" y="20.17" width="27.10" height="5.5" fill="#fff"/>
<rect x="405.80" y="20.67" width="26.70" height="3.6" rx="1.0" fill="url(#h1)" stroke="#55c040" stroke-opacity="0.18" stroke-width="0.3"/>
<rect x="405.75" y="19.32" width="26.80" height="3.4" rx="1.1" fill="url(#g1)" stroke="#55c040" stroke-opacity="0.3" stroke-width="0.3"/>
<rect x="433.80" y="20.17" width="3.60" height="5.5" fill="#fff"/>
<rect x="434.00" y="20.67" width="3.20" height="3.6" rx="1.0" fill="url(#h14)" stroke="#ffa2bb" stroke-opacity="0.18" stroke-width="0.3"/>
<rect x="433.95" y="19.32" width="3.30" height="3.4" rx="1.1" fill="url(#g14)" stroke="#ffa2bb" stroke-opacity="0.3" stroke-width="0.3"/>
<rect x="438.90" y="20.17" width="26.60" height="5.5" fill="#fff"/>
<rect x="439.10" y="20.67" width="26.20" height="3.6" rx="1.0" fill="url(#h2)" stroke="#ffd20f" stroke-opacity="0.18" stroke-width="0.3"/>
<rect x="439.05" y="19.32" width="26.30" height="3.4" rx="1.1" fill="url(#g2)" stroke="#ffd20f" stroke-opacity="0.3" stroke-width="0.3"/>
<rect x="467.80" y="20.17" width="3.60" height="5.5" fill="#fff"/>
<rect x="468.00" y="20.67" width="3.20" height="3.6" rx="1.0" fill="url(#h10)" stroke="#ffbf9c" stroke-opacity="0.18" stroke-width="0.3"/>
<rect x="467.95" y="19.32" width="3.30" height="3.4" rx="1.1" fill="url(#g10)" stroke="#ffbf9c" stroke-opacity="0.3" stroke-width="0.3"/>
<text class="ml" transform="translate(231.25 25.77) scale(0.85 1)">3</text>
<text class="ml" transform="translate(248.05 25.77) scale(0.85 1)">12</text>
<text class="ml" transform="translate(264.90 25.77) scale(0.85 1)">5</text>
<text class="ml" transform="translate(289.40 25.77) scale(0.85 1)">8</text>
<text class="ml" transform="translate(304.50 25.77) scale(0.85 1)">9</text>
<text class="ml" transform="translate(323.20 25.77) scale(0.85 1)">7</text>
<text class="ml" transform="translate(336.80 25.77) scale(0.85 1)">13</text>
<text class="ml" transform="translate(354.45 25.77) scale(0.85 1)">4</text>
<text class="ml" transform="translate(383.25 25.77) scale(0.85 1)">6</text>
<text class="ml" transform="translate(401.25 25.77) scale(0.85 1)">11</text>
<text class="ml" transform="translate(419.15 25.77) scale(0.85 1)">1</text>
<text class="ml" transform="translate(435.90 25.77) scale(0.85 1)">14</text>
<text class="ml" transform="translate(452.20 25.77) scale(0.85 1)">2</text>
<text class="ml" transform="translate(470.80 25.77) scale(0.85 1)">10</text>
<line x1="216.9" y1="35.59" x2="475.5" y2="35.59" stroke="#777" stroke-width="1.1"/>
<rect x="237.60" y="32.29" width="26.90" height="5.5" fill="#fff"/>
<rect x="237.80" y="32.79" width="26.50" height="3.6" rx="1.0" fill="url(#h3)" stroke="#ff6f8e" stroke-opacity="0.18" stroke-width="0.3"/>
<rect x="237.75" y="31.44" width="26.60" height="3.4" rx="1.1" fill="url(#g3)" stroke="#ff6f8e" stroke-opacity="0.3" stroke-width="0.3"/>
<rect x="271.80" y="32.29" width="27.10" height="5.5" fill="#fff"/>
<rect x="272.00" y="32.79" width="26.70" height="3.6" rx="1.0" fill="url(#h5)" stroke="#ff2845" stroke-opacity="0.18" stroke-width="0.3"/>
<rect x="271.95" y="31.44" width="26.80" height="3.4" rx="1.1" fill="url(#g5)" stroke="#ff2845" stroke-opacity="0.3" stroke-width="0.3"/>
<rect x="315.40" y="32.29" width="10.50" height="5.5" fill="#fff"/>
<rect x="315.60" y="32.79" width="10.10" height="3.6" rx="1.0" fill="url(#h9)" stroke="#8a66b8" stroke-opacity="0.18" stroke-width="0.3"/>
<rect x="315.55" y="31.44" width="10.20" height="3.4" rx="1.1" fill="url(#g9)" stroke="#8a66b8" stroke-opacity="0.3" stroke-width="0.3"/>
<rect x="328.40" y="32.29" width="21.80" height="5.5" fill="#fff"/>
<rect x="328.60" y="32.79" width="21.40" height="3.6" rx="1.0" fill="url(#h7)" stroke="#a8e495" stroke-opacity="0.18" stroke-width="0.3"/>
<rect x="328.55" y="31.44" width="21.50" height="3.4" rx="1.1" fill="url(#g7)" stroke="#a8e495" stroke-opacity="0.3" stroke-width="0.3"/>
<rect x="351.60" y="32.29" width="3.40" height="5.5" fill="#fff"/>
<rect x="351.80" y="32.79" width="3.00" height="3.6" rx="1.0" fill="url(#h13)" stroke="#2fcc99" stroke-opacity="0.18" stroke-width="0.3"/>
<rect x="351.75" y="31.44" width="3.10" height="3.4" rx="1.1" fill="url(#g13)" stroke="#2fcc99" stroke-opacity="0.3" stroke-width="0.3"/>
<rect x="357.10" y="32.29" width="26.80" height="5.5" fill="#fff"/>
<rect x="357.30" y="32.79" width="26.40" height="3.6" rx="1.0" fill="url(#h4)" stroke="#14a8a0" stroke-opacity="0.18" stroke-width="0.3"/>
<rect x="357.25" y="31.44" width="26.50" height="3.4" rx="1.1" fill="url(#g4)" stroke="#14a8a0" stroke-opacity="0.3" stroke-width="0.3"/>
<rect x="402.50" y="32.29" width="3.90" height="5.5" fill="#fff"/>
<rect x="402.70" y="32.79" width="3.50" height="3.6" rx="1.0" fill="url(#h11)" stroke="#a3aa90" stroke-opacity="0.18" stroke-width="0.3"/>
<rect x="402.65" y="31.44" width="3.60" height="3.4" rx="1.1" fill="url(#g11)" stroke="#a3aa90" stroke-opacity="0.3" stroke-width="0.3"/>
<rect x="409.70" y="32.29" width="26.90" height="5.5" fill="#fff"/>
<rect x="409.90" y="32.79" width="26.50" height="3.6" rx="1.0" fill="url(#h1)" stroke="#55c040" stroke-opacity="0.18" stroke-width="0.3"/>
<rect x="409.85" y="31.44" width="26.60" height="3.4" rx="1.1" fill="url(#g1)" stroke="#55c040" stroke-opacity="0.3" stroke-width="0.3"/>
<rect x="437.60" y="32.29" width="3.70" height="5.5" fill="#fff"/>
<rect x="437.80" y="32.79" width="3.30" height="3.6" rx="1.0" fill="url(#h14)" stroke="#ffa2bb" stroke-opacity="0.18" stroke-width="0.3"/>
<rect x="437.75" y="31.44" width="3.40" height="3.4" rx="1.1" fill="url(#g14)" stroke="#ffa2bb" stroke-opacity="0.3" stroke-width="0.3"/>
<rect x="442.70" y="32.29" width="26.60" height="5.5" fill="#fff"/>
<rect x="442.90" y="32.79" width="26.20" height="3.6" rx="1.0" fill="url(#h2)" stroke="#ffd20f" stroke-opacity="0.18" stroke-width="0.3"/>
<rect x="442.85" y="31.44" width="26.30" height="3.4" rx="1.1" fill="url(#g2)" stroke="#ffd20f" stroke-opacity="0.3" stroke-width="0.3"/>
<rect x="471.60" y="32.29" width="3.70" height="5.5" fill="#fff"/>
<rect x="471.80" y="32.79" width="3.30" height="3.6" rx="1.0" fill="url(#h10)" stroke="#ffbf9c" stroke-opacity="0.18" stroke-width="0.3"/>
<rect x="471.75" y="31.44" width="3.40" height="3.4" rx="1.1" fill="url(#g10)" stroke="#ffbf9c" stroke-opacity="0.3" stroke-width="0.3"/>
<text class="ml" transform="translate(251.05 37.89) scale(0.85 1)">3</text>
<text class="ml" transform="translate(285.35 37.89) scale(0.85 1)">5</text>
<text class="ml" transform="translate(320.65 37.89) scale(0.85 1)">9</text>
<text class="ml" transform="translate(339.30 37.89) scale(0.85 1)">7</text>
<text class="ml" transform="translate(352.40 37.89) scale(0.85 1)">13</text>
<text class="ml" transform="translate(370.50 37.89) scale(0.85 1)">4</text>
<text class="ml" transform="translate(405.35 37.89) scale(0.85 1)">11</text>
<text class="ml" transform="translate(423.15 37.89) scale(0.85 1)">1</text>
<text class="ml" transform="translate(439.75 37.89) scale(0.85 1)">14</text>
<text class="ml" transform="translate(456.00 37.89) scale(0.85 1)">2</text>
<text class="ml" transform="translate(474.65 37.89) scale(0.85 1)">10</text>
<line x1="216.8" y1="47.71" x2="470.4" y2="47.71" stroke="#777" stroke-width="1.1"/>
<rect x="217.70" y="44.41" width="27.10" height="5.5" fill="#fff"/>
<rect x="217.90" y="44.91" width="26.70" height="3.6" rx="1.0" fill="url(#h3)" stroke="#ff6f8e" stroke-opacity="0.18" stroke-width="0.3"/>
<rect x="217.85" y="43.56" width="26.80" height="3.4" rx="1.1" fill="url(#g3)" stroke="#ff6f8e" stroke-opacity="0.3" stroke-width="0.3"/>
<rect x="246.10" y="44.41" width="3.90" height="5.5" fill="#fff"/>
<rect x="246.30" y="44.91" width="3.50" height="3.6" rx="1.0" fill="url(#h12)" stroke="#ff6a40" stroke-opacity="0.18" stroke-width="0.3"/>
<rect x="246.25" y="43.56" width="3.60" height="3.4" rx="1.1" fill="url(#g12)" stroke="#ff6a40" stroke-opacity="0.3" stroke-width="0.3"/>
<rect x="251.30" y="44.41" width="27.20" height="5.5" fill="#fff"/>
<rect x="251.50" y="44.91" width="26.80" height="3.6" rx="1.0" fill="url(#h5)" stroke="#ff2845" stroke-opacity="0.18" stroke-width="0.3"/>
<rect x="251.45" y="43.56" width="26.90" height="3.4" rx="1.1" fill="url(#g5)" stroke="#ff2845" stroke-opacity="0.3" stroke-width="0.3"/>
<rect x="282.00" y="44.41" width="15.00" height="5.5" fill="#fff"/>
<rect x="282.20" y="44.91" width="14.60" height="3.6" rx="1.0" fill="url(#h8)" stroke="#ffad2e" stroke-opacity="0.18" stroke-width="0.3"/>
<rect x="282.15" y="43.56" width="14.70" height="3.4" rx="1.1" fill="url(#g8)" stroke="#ffad2e" stroke-opacity="0.3" stroke-width="0.3"/>
<rect x="298.60" y="44.41" width="10.40" height="5.5" fill="#fff"/>
<rect x="298.80" y="44.91" width="10.00" height="3.6" rx="1.0" fill="url(#h9)" stroke="#8a66b8" stroke-opacity="0.18" stroke-width="0.3"/>
<rect x="298.75" y="43.56" width="10.10" height="3.4" rx="1.1" fill="url(#g9)" stroke="#8a66b8" stroke-opacity="0.3" stroke-width="0.3"/>
<rect x="311.60" y="44.41" width="21.60" height="5.5" fill="#fff"/>
<rect x="311.80" y="44.91" width="21.20" height="3.6" rx="1.0" fill="url(#h7)" stroke="#a8e495" stroke-opacity="0.18" stroke-width="0.3"/>
<rect x="311.75" y="43.56" width="21.30" height="3.4" rx="1.1" fill="url(#g7)" stroke="#a8e495" stroke-opacity="0.3" stroke-width="0.3"/>
<rect x="335.20" y="44.41" width="3.40" height="5.5" fill="#fff"/>
<rect x="335.40" y="44.91" width="3.00" height="3.6" rx="1.0" fill="url(#h13)" stroke="#2fcc99" stroke-opacity="0.18" stroke-width="0.3"/>
<rect x="335.35" y="43.56" width="3.10" height="3.4" rx="1.1" fill="url(#g13)" stroke="#2fcc99" stroke-opacity="0.3" stroke-width="0.3"/>
<rect x="340.00" y="44.41" width="27.10" height="5.5" fill="#fff"/>
<rect x="340.20" y="44.91" width="26.70" height="3.6" rx="1.0" fill="url(#h4)" stroke="#14a8a0" stroke-opacity="0.18" stroke-width="0.3"/>
<rect x="340.15" y="43.56" width="26.80" height="3.4" rx="1.1" fill="url(#g4)" stroke="#14a8a0" stroke-opacity="0.3" stroke-width="0.3"/>
<rect x="368.90" y="44.41" width="26.80" height="5.5" fill="#fff"/>
<rect x="369.10" y="44.91" width="26.40" height="3.6" rx="1.0" fill="url(#h6)" stroke="#b4aed8" stroke-opacity="0.18" stroke-width="0.3"/>
<rect x="369.05" y="43.56" width="26.50" height="3.4" rx="1.1" fill="url(#g6)" stroke="#b4aed8" stroke-opacity="0.3" stroke-width="0.3"/>
<rect x="397.70" y="44.41" width="3.90" height="5.5" fill="#fff"/>
<rect x="397.90" y="44.91" width="3.50" height="3.6" rx="1.0" fill="url(#h11)" stroke="#a3aa90" stroke-opacity="0.18" stroke-width="0.3"/>
<rect x="397.85" y="43.56" width="3.60" height="3.4" rx="1.1" fill="url(#g11)" stroke="#a3aa90" stroke-opacity="0.3" stroke-width="0.3"/>
<rect x="404.80" y="44.41" width="27.00" height="5.5" fill="#fff"/>
<rect x="405.00" y="44.91" width="26.60" height="3.6" rx="1.0" fill="url(#h1)" stroke="#55c040" stroke-opacity="0.18" stroke-width="0.3"/>
<rect x="404.95" y="43.56" width="26.70" height="3.4" rx="1.1" fill="url(#g1)" stroke="#55c040" stroke-opacity="0.3" stroke-width="0.3"/>
<rect x="432.90" y="44.41" width="3.60" height="5.5" fill="#fff"/>
<rect x="433.10" y="44.91" width="3.20" height="3.6" rx="1.0" fill="url(#h14)" stroke="#ffa2bb" stroke-opacity="0.18" stroke-width="0.3"/>
<rect x="433.05" y="43.56" width="3.30" height="3.4" rx="1.1" fill="url(#g14)" stroke="#ffa2bb" stroke-opacity="0.3" stroke-width="0.3"/>
<rect x="438.00" y="44.41" width="26.40" height="5.5" fill="#fff"/>
<rect x="438.20" y="44.91" width="26.00" height="3.6" rx="1.0" fill="url(#h2)" stroke="#ffd20f" stroke-opacity="0.18" stroke-width="0.3"/>
<rect x="438.15" y="43.56" width="26.10" height="3.4" rx="1.1" fill="url(#g2)" stroke="#ffd20f" stroke-opacity="0.3" stroke-width="0.3"/>
<rect x="466.60" y="44.41" width="3.80" height="5.5" fill="#fff"/>
<rect x="466.80" y="44.91" width="3.40" height="3.6" rx="1.0" fill="url(#h10)" stroke="#ffbf9c" stroke-opacity="0.18" stroke-width="0.3"/>
<rect x="466.75" y="43.56" width="3.50" height="3.4" rx="1.1" fill="url(#g10)" stroke="#ffbf9c" stroke-opacity="0.3" stroke-width="0.3"/>
<text class="ml" transform="translate(231.25 50.01) scale(0.85 1)">3</text>
<text class="ml" transform="translate(248.05 50.01) scale(0.85 1)">12</text>
<text class="ml" transform="translate(264.90 50.01) scale(0.85 1)">5</text>
<text class="ml" transform="translate(289.50 50.01) scale(0.85 1)">8</text>
<text class="ml" transform="translate(303.80 50.01) scale(0.85 1)">9</text>
<text class="ml" transform="translate(322.40 50.01) scale(0.85 1)">7</text>
<text class="ml" transform="translate(336.00 50.01) scale(0.85 1)">13</text>
<text class="ml" transform="translate(353.55 50.01) scale(0.85 1)">4</text>
<text class="ml" transform="translate(382.30 50.01) scale(0.85 1)">6</text>
<text class="ml" transform="translate(400.55 50.01) scale(0.85 1)">11</text>
<text class="ml" transform="translate(418.30 50.01) scale(0.85 1)">1</text>
<text class="ml" transform="translate(435.00 50.01) scale(0.85 1)">14</text>
<text class="ml" transform="translate(451.20 50.01) scale(0.85 1)">2</text>
<text class="ml" transform="translate(469.70 50.01) scale(0.85 1)">10</text>
<line x1="216.8" y1="59.83" x2="470.4" y2="59.83" stroke="#777" stroke-width="1.1"/>
<rect x="217.70" y="56.53" width="27.10" height="5.5" fill="#fff"/>
<rect x="217.90" y="57.03" width="26.70" height="3.6" rx="1.0" fill="url(#h3)" stroke="#ff6f8e" stroke-opacity="0.18" stroke-width="0.3"/>
<rect x="217.85" y="55.68" width="26.80" height="3.4" rx="1.1" fill="url(#g3)" stroke="#ff6f8e" stroke-opacity="0.3" stroke-width="0.3"/>
<rect x="246.10" y="56.53" width="3.90" height="5.5" fill="#fff"/>
<rect x="246.30" y="57.03" width="3.50" height="3.6" rx="1.0" fill="url(#h12)" stroke="#ff6a40" stroke-opacity="0.18" stroke-width="0.3"/>
<rect x="246.25" y="55.68" width="3.60" height="3.4" rx="1.1" fill="url(#g12)" stroke="#ff6a40" stroke-opacity="0.3" stroke-width="0.3"/>
<rect x="251.30" y="56.53" width="27.20" height="5.5" fill="#fff"/>
<rect x="251.50" y="57.03" width="26.80" height="3.6" rx="1.0" fill="url(#h5)" stroke="#ff2845" stroke-opacity="0.18" stroke-width="0.3"/>
<rect x="251.45" y="55.68" width="26.90" height="3.4" rx="1.1" fill="url(#g5)" stroke="#ff2845" stroke-opacity="0.3" stroke-width="0.3"/>
<rect x="282.00" y="56.53" width="15.00" height="5.5" fill="#fff"/>
<rect x="282.20" y="57.03" width="14.60" height="3.6" rx="1.0" fill="url(#h8)" stroke="#ffad2e" stroke-opacity="0.18" stroke-width="0.3"/>
<rect x="282.15" y="55.68" width="14.70" height="3.4" rx="1.1" fill="url(#g8)" stroke="#ffad2e" stroke-opacity="0.3" stroke-width="0.3"/>
<rect x="298.60" y="56.53" width="10.40" height="5.5" fill="#fff"/>
<rect x="298.80" y="57.03" width="10.00" height="3.6" rx="1.0" fill="url(#h9)" stroke="#8a66b8" stroke-opacity="0.18" stroke-width="0.3"/>
<rect x="298.75" y="55.68" width="10.10" height="3.4" rx="1.1" fill="url(#g9)" stroke="#8a66b8" stroke-opacity="0.3" stroke-width="0.3"/>
<rect x="311.60" y="56.53" width="21.60" height="5.5" fill="#fff"/>
<rect x="311.80" y="57.03" width="21.20" height="3.6" rx="1.0" fill="url(#h7)" stroke="#a8e495" stroke-opacity="0.18" stroke-width="0.3"/>
<rect x="311.75" y="55.68" width="21.30" height="3.4" rx="1.1" fill="url(#g7)" stroke="#a8e495" stroke-opacity="0.3" stroke-width="0.3"/>
<rect x="335.20" y="56.53" width="3.40" height="5.5" fill="#fff"/>
<rect x="335.40" y="57.03" width="3.00" height="3.6" rx="1.0" fill="url(#h13)" stroke="#2fcc99" stroke-opacity="0.18" stroke-width="0.3"/>
<rect x="335.35" y="55.68" width="3.10" height="3.4" rx="1.1" fill="url(#g13)" stroke="#2fcc99" stroke-opacity="0.3" stroke-width="0.3"/>
<rect x="340.00" y="56.53" width="27.10" height="5.5" fill="#fff"/>
<rect x="340.20" y="57.03" width="26.70" height="3.6" rx="1.0" fill="url(#h4)" stroke="#14a8a0" stroke-opacity="0.18" stroke-width="0.3"/>
<rect x="340.15" y="55.68" width="26.80" height="3.4" rx="1.1" fill="url(#g4)" stroke="#14a8a0" stroke-opacity="0.3" stroke-width="0.3"/>
<rect x="368.90" y="56.53" width="26.80" height="5.5" fill="#fff"/>
<rect x="369.10" y="57.03" width="26.40" height="3.6" rx="1.0" fill="url(#h6)" stroke="#b4aed8" stroke-opacity="0.18" stroke-width="0.3"/>
<rect x="369.05" y="55.68" width="26.50" height="3.4" rx="1.1" fill="url(#g6)" stroke="#b4aed8" stroke-opacity="0.3" stroke-width="0.3"/>
<rect x="397.70" y="56.53" width="3.90" height="5.5" fill="#fff"/>
<rect x="397.90" y="57.03" width="3.50" height="3.6" rx="1.0" fill="url(#h11)" stroke="#a3aa90" stroke-opacity="0.18" stroke-width="0.3"/>
<rect x="397.85" y="55.68" width="3.60" height="3.4" rx="1.1" fill="url(#g11)" stroke="#a3aa90" stroke-opacity="0.3" stroke-width="0.3"/>
<rect x="404.80" y="56.53" width="27.00" height="5.5" fill="#fff"/>
<rect x="405.00" y="57.03" width="26.60" height="3.6" rx="1.0" fill="url(#h1)" stroke="#55c040" stroke-opacity="0.18" stroke-width="0.3"/>
<rect x="404.95" y="55.68" width="26.70" height="3.4" rx="1.1" fill="url(#g1)" stroke="#55c040" stroke-opacity="0.3" stroke-width="0.3"/>
<rect x="432.90" y="56.53" width="3.60" height="5.5" fill="#fff"/>
<rect x="433.10" y="57.03" width="3.20" height="3.6" rx="1.0" fill="url(#h14)" stroke="#ffa2bb" stroke-opacity="0.18" stroke-width="0.3"/>
<rect x="433.05" y="55.68" width="3.30" height="3.4" rx="1.1" fill="url(#g14)" stroke="#ffa2bb" stroke-opacity="0.3" stroke-width="0.3"/>
<rect x="438.00" y="56.53" width="26.40" height="5.5" fill="#fff"/>
<rect x="438.20" y="57.03" width="26.00" height="3.6" rx="1.0" fill="url(#h2)" stroke="#ffd20f" stroke-opacity="0.18" stroke-width="0.3"/>
<rect x="438.15" y="55.68" width="26.10" height="3.4" rx="1.1" fill="url(#g2)" stroke="#ffd20f" stroke-opacity="0.3" stroke-width="0.3"/>
<rect x="466.60" y="56.53" width="3.80" height="5.5" fill="#fff"/>
<rect x="466.80" y="57.03" width="3.40" height="3.6" rx="1.0" fill="url(#h10)" stroke="#ffbf9c" stroke-opacity="0.18" stroke-width="0.3"/>
<rect x="466.75" y="55.68" width="3.50" height="3.4" rx="1.1" fill="url(#g10)" stroke="#ffbf9c" stroke-opacity="0.3" stroke-width="0.3"/>
<text class="ml" transform="translate(231.25 62.13) scale(0.85 1)">3</text>
<text class="ml" transform="translate(248.05 62.13) scale(0.85 1)">12</text>
<text class="ml" transform="translate(264.90 62.13) scale(0.85 1)">5</text>
<text class="ml" transform="translate(289.50 62.13) scale(0.85 1)">8</text>
<text class="ml" transform="translate(303.80 62.13) scale(0.85 1)">9</text>
<text class="ml" transform="translate(322.40 62.13) scale(0.85 1)">7</text>
<text class="ml" transform="translate(336.00 62.13) scale(0.85 1)">13</text>
<text class="ml" transform="translate(353.55 62.13) scale(0.85 1)">4</text>
<text class="ml" transform="translate(382.30 62.13) scale(0.85 1)">6</text>
<text class="ml" transform="translate(400.55 62.13) scale(0.85 1)">11</text>
<text class="ml" transform="translate(418.30 62.13) scale(0.85 1)">1</text>
<text class="ml" transform="translate(435.00 62.13) scale(0.85 1)">14</text>
<text class="ml" transform="translate(451.20 62.13) scale(0.85 1)">2</text>
<text class="ml" transform="translate(469.70 62.13) scale(0.85 1)">10</text>
<line x1="216.8" y1="71.95" x2="465.0" y2="71.95" stroke="#777" stroke-width="1.1"/>
<rect x="217.70" y="68.65" width="27.10" height="5.5" fill="#fff"/>
<rect x="217.90" y="69.15" width="26.70" height="3.6" rx="1.0" fill="url(#h3)" stroke="#ff6f8e" stroke-opacity="0.18" stroke-width="0.3"/>
<rect x="217.85" y="67.80" width="26.80" height="3.4" rx="1.1" fill="url(#g3)" stroke="#ff6f8e" stroke-opacity="0.3" stroke-width="0.3"/>
<rect x="246.10" y="68.65" width="3.90" height="5.5" fill="#fff"/>
<rect x="246.30" y="69.15" width="3.50" height="3.6" rx="1.0" fill="url(#h12)" stroke="#ff6a40" stroke-opacity="0.18" stroke-width="0.3"/>
<rect x="246.25" y="67.80" width="3.60" height="3.4" rx="1.1" fill="url(#g12)" stroke="#ff6a40" stroke-opacity="0.3" stroke-width="0.3"/>
<rect x="251.30" y="68.65" width="27.20" height="5.5" fill="#fff"/>
<rect x="251.50" y="69.15" width="26.80" height="3.6" rx="1.0" fill="url(#h5)" stroke="#ff2845" stroke-opacity="0.18" stroke-width="0.3"/>
<rect x="251.45" y="67.80" width="26.90" height="3.4" rx="1.1" fill="url(#g5)" stroke="#ff2845" stroke-opacity="0.3" stroke-width="0.3"/>
<rect x="282.30" y="68.65" width="14.70" height="5.5" fill="#fff"/>
<rect x="282.50" y="69.15" width="14.30" height="3.6" rx="1.0" fill="url(#h8)" stroke="#ffad2e" stroke-opacity="0.18" stroke-width="0.3"/>
<rect x="282.45" y="67.80" width="14.40" height="3.4" rx="1.1" fill="url(#g8)" stroke="#ffad2e" stroke-opacity="0.3" stroke-width="0.3"/>
<rect x="306.20" y="68.65" width="21.80" height="5.5" fill="#fff"/>
<rect x="306.40" y="69.15" width="21.40" height="3.6" rx="1.0" fill="url(#h7)" stroke="#a8e495" stroke-opacity="0.18" stroke-width="0.3"/>
<rect x="306.35" y="67.80" width="21.50" height="3.4" rx="1.1" fill="url(#g7)" stroke="#a8e495" stroke-opacity="0.3" stroke-width="0.3"/>
<rect x="329.90" y="68.65" width="3.10" height="5.5" fill="#fff"/>
<rect x="330.10" y="69.15" width="2.70" height="3.6" rx="1.0" fill="url(#h13)" stroke="#2fcc99" stroke-opacity="0.18" stroke-width="0.3"/>
<rect x="330.05" y="67.80" width="2.80" height="3.4" rx="1.1" fill="url(#g13)" stroke="#2fcc99" stroke-opacity="0.3" stroke-width="0.3"/>
<rect x="334.80" y="68.65" width="27.20" height="5.5" fill="#fff"/>
<rect x="335.00" y="69.15" width="26.80" height="3.6" rx="1.0" fill="url(#h4)" stroke="#14a8a0" stroke-opacity="0.18" stroke-width="0.3"/>
<rect x="334.95" y="67.80" width="26.90" height="3.4" rx="1.1" fill="url(#g4)" stroke="#14a8a0" stroke-opacity="0.3" stroke-width="0.3"/>
<rect x="363.60" y="68.65" width="27.10" height="5.5" fill="#fff"/>
<rect x="363.80" y="69.15" width="26.70" height="3.6" rx="1.0" fill="url(#h6)" stroke="#b4aed8" stroke-opacity="0.18" stroke-width="0.3"/>
<rect x="363.75" y="67.80" width="26.80" height="3.4" rx="1.1" fill="url(#g6)" stroke="#b4aed8" stroke-opacity="0.3" stroke-width="0.3"/>
<rect x="391.90" y="68.65" width="4.00" height="5.5" fill="#fff"/>
<rect x="392.10" y="69.15" width="3.60" height="3.6" rx="1.0" fill="url(#h11)" stroke="#a3aa90" stroke-opacity="0.18" stroke-width="0.3"/>
<rect x="392.05" y="67.80" width="3.70" height="3.4" rx="1.1" fill="url(#g11)" stroke="#a3aa90" stroke-opacity="0.3" stroke-width="0.3"/>
<rect x="400.00" y="68.65" width="27.30" height="5.5" fill="#fff"/>
<rect x="400.20" y="69.15" width="26.90" height="3.6" rx="1.0" fill="url(#h1)" stroke="#55c040" stroke-opacity="0.18" stroke-width="0.3"/>
<rect x="400.15" y="67.80" width="27.00" height="3.4" rx="1.1" fill="url(#g1)" stroke="#55c040" stroke-opacity="0.3" stroke-width="0.3"/>
<rect x="428.60" y="68.65" width="3.40" height="5.5" fill="#fff"/>
<rect x="428.80" y="69.15" width="3.00" height="3.6" rx="1.0" fill="url(#h14)" stroke="#ffa2bb" stroke-opacity="0.18" stroke-width="0.3"/>
<rect x="428.75" y="67.80" width="3.10" height="3.4" rx="1.1" fill="url(#g14)" stroke="#ffa2bb" stroke-opacity="0.3" stroke-width="0.3"/>
<rect x="432.70" y="68.65" width="27.30" height="5.5" fill="#fff"/>
<rect x="432.90" y="69.15" width="26.90" height="3.6" rx="1.0" fill="url(#h2)" stroke="#ffd20f" stroke-opacity="0.18" stroke-width="0.3"/>
<rect x="432.85" y="67.80" width="27.00" height="3.4" rx="1.1" fill="url(#g2)" stroke="#ffd20f" stroke-opacity="0.3" stroke-width="0.3"/>
<rect x="461.40" y="68.65" width="3.60" height="5.5" fill="#fff"/>
<rect x="461.60" y="69.15" width="3.20" height="3.6" rx="1.0" fill="url(#h10)" stroke="#ffbf9c" stroke-opacity="0.18" stroke-width="0.3"/>
<rect x="461.55" y="67.80" width="3.30" height="3.4" rx="1.1" fill="url(#g10)" stroke="#ffbf9c" stroke-opacity="0.3" stroke-width="0.3"/>
<text class="ml" transform="translate(231.25 74.25) scale(0.85 1)">3</text>
<text class="ml" transform="translate(248.05 74.25) scale(0.85 1)">12</text>
<text class="ml" transform="translate(264.90 74.25) scale(0.85 1)">5</text>
<text class="ml" transform="translate(289.65 74.25) scale(0.85 1)">8</text>
<text class="ml" transform="translate(317.10 74.25) scale(0.85 1)">7</text>
<text class="ml" transform="translate(330.55 74.25) scale(0.85 1)">13</text>
<text class="ml" transform="translate(348.40 74.25) scale(0.85 1)">4</text>
<text class="ml" transform="translate(377.15 74.25) scale(0.85 1)">6</text>
<text class="ml" transform="translate(394.80 74.25) scale(0.85 1)">11</text>
<text class="ml" transform="translate(413.65 74.25) scale(0.85 1)">1</text>
<text class="ml" transform="translate(430.60 74.25) scale(0.85 1)">14</text>
<text class="ml" transform="translate(446.35 74.25) scale(0.85 1)">2</text>
<text class="ml" transform="translate(464.40 74.25) scale(0.85 1)">10</text>
<line x1="216.8" y1="84.07" x2="480.0" y2="84.07" stroke="#777" stroke-width="1.1"/>
<rect x="240.00" y="80.77" width="26.60" height="5.5" fill="#fff"/>
<rect x="240.20" y="81.27" width="26.20" height="3.6" rx="1.0" fill="url(#h3)" stroke="#ff6f8e" stroke-opacity="0.18" stroke-width="0.3"/>
<rect x="240.15" y="79.92" width="26.30" height="3.4" rx="1.1" fill="url(#g3)" stroke="#ff6f8e" stroke-opacity="0.3" stroke-width="0.3"/>
<rect x="268.00" y="80.77" width="4.00" height="5.5" fill="#fff"/>
<rect x="268.20" y="81.27" width="3.60" height="3.6" rx="1.0" fill="url(#h12)" stroke="#ff6a40" stroke-opacity="0.18" stroke-width="0.3"/>
<rect x="268.15" y="79.92" width="3.70" height="3.4" rx="1.1" fill="url(#g12)" stroke="#ff6a40" stroke-opacity="0.3" stroke-width="0.3"/>
<rect x="273.40" y="80.77" width="26.90" height="5.5" fill="#fff"/>
<rect x="273.60" y="81.27" width="26.50" height="3.6" rx="1.0" fill="url(#h5)" stroke="#ff2845" stroke-opacity="0.18" stroke-width="0.3"/>
<rect x="273.55" y="79.92" width="26.60" height="3.4" rx="1.1" fill="url(#g5)" stroke="#ff2845" stroke-opacity="0.3" stroke-width="0.3"/>
<rect x="304.10" y="80.77" width="14.90" height="5.5" fill="#fff"/>
<rect x="304.30" y="81.27" width="14.50" height="3.6" rx="1.0" fill="url(#h8)" stroke="#ffad2e" stroke-opacity="0.18" stroke-width="0.3"/>
<rect x="304.25" y="79.92" width="14.60" height="3.4" rx="1.1" fill="url(#g8)" stroke="#ffad2e" stroke-opacity="0.3" stroke-width="0.3"/>
<rect x="320.50" y="80.77" width="10.50" height="5.5" fill="#fff"/>
<rect x="320.70" y="81.27" width="10.10" height="3.6" rx="1.0" fill="url(#h9)" stroke="#8a66b8" stroke-opacity="0.18" stroke-width="0.3"/>
<rect x="320.65" y="79.92" width="10.20" height="3.4" rx="1.1" fill="url(#g9)" stroke="#8a66b8" stroke-opacity="0.3" stroke-width="0.3"/>
<rect x="336.60" y="80.77" width="5.00" height="5.5" fill="#fff"/>
<rect x="336.80" y="81.27" width="4.60" height="3.6" rx="1.0" fill="url(#h15)" stroke="#2a88dd" stroke-opacity="0.18" stroke-width="0.3"/>
<rect x="336.75" y="79.92" width="4.70" height="3.4" rx="1.1" fill="url(#g15)" stroke="#2a88dd" stroke-opacity="0.3" stroke-width="0.3"/>
<rect x="344.80" y="80.77" width="3.70" height="5.5" fill="#fff"/>
<rect x="345.00" y="81.27" width="3.30" height="3.6" rx="1.0" fill="url(#h13)" stroke="#2fcc99" stroke-opacity="0.18" stroke-width="0.3"/>
<rect x="344.95" y="79.92" width="3.40" height="3.4" rx="1.1" fill="url(#g13)" stroke="#2fcc99" stroke-opacity="0.3" stroke-width="0.3"/>
<rect x="350.20" y="80.77" width="26.80" height="5.5" fill="#fff"/>
<rect x="350.40" y="81.27" width="26.40" height="3.6" rx="1.0" fill="url(#h4)" stroke="#14a8a0" stroke-opacity="0.18" stroke-width="0.3"/>
<rect x="350.35" y="79.92" width="26.50" height="3.4" rx="1.1" fill="url(#g4)" stroke="#14a8a0" stroke-opacity="0.3" stroke-width="0.3"/>
<rect x="379.20" y="80.77" width="26.30" height="5.5" fill="#fff"/>
<rect x="379.40" y="81.27" width="25.90" height="3.6" rx="1.0" fill="url(#h6)" stroke="#b4aed8" stroke-opacity="0.18" stroke-width="0.3"/>
<rect x="379.35" y="79.92" width="26.00" height="3.4" rx="1.1" fill="url(#g6)" stroke="#b4aed8" stroke-opacity="0.3" stroke-width="0.3"/>
<rect x="408.20" y="80.77" width="3.80" height="5.5" fill="#fff"/>
<rect x="408.40" y="81.27" width="3.40" height="3.6" rx="1.0" fill="url(#h11)" stroke="#a3aa90" stroke-opacity="0.18" stroke-width="0.3"/>
<rect x="408.35" y="79.92" width="3.50" height="3.4" rx="1.1" fill="url(#g11)" stroke="#a3aa90" stroke-opacity="0.3" stroke-width="0.3"/>
<rect x="414.50" y="80.77" width="27.20" height="5.5" fill="#fff"/>
<rect x="414.70" y="81.27" width="26.80" height="3.6" rx="1.0" fill="url(#h1)" stroke="#55c040" stroke-opacity="0.18" stroke-width="0.3"/>
<rect x="414.65" y="79.92" width="26.90" height="3.4" rx="1.1" fill="url(#g1)" stroke="#55c040" stroke-opacity="0.3" stroke-width="0.3"/>
<rect x="443.00" y="80.77" width="3.60" height="5.5" fill="#fff"/>
<rect x="443.20" y="81.27" width="3.20" height="3.6" rx="1.0" fill="url(#h14)" stroke="#ffa2bb" stroke-opacity="0.18" stroke-width="0.3"/>
<rect x="443.15" y="79.92" width="3.30" height="3.4" rx="1.1" fill="url(#g14)" stroke="#ffa2bb" stroke-opacity="0.3" stroke-width="0.3"/>
<rect x="447.70" y="80.77" width="27.30" height="5.5" fill="#fff"/>
<rect x="447.90" y="81.27" width="26.90" height="3.6" rx="1.0" fill="url(#h2)" stroke="#ffd20f" stroke-opacity="0.18" stroke-width="0.3"/>
<rect x="447.85" y="79.92" width="27.00" height="3.4" rx="1.1" fill="url(#g2)" stroke="#ffd20f" stroke-opacity="0.3" stroke-width="0.3"/>
<rect x="476.40" y="80.77" width="3.60" height="5.5" fill="#fff"/>
<rect x="476.60" y="81.27" width="3.20" height="3.6" rx="1.0" fill="url(#h10)" stroke="#ffbf9c" stroke-opacity="0.18" stroke-width="0.3"/>
<rect x="476.55" y="79.92" width="3.30" height="3.4" rx="1.1" fill="url(#g10)" stroke="#ffbf9c" stroke-opacity="0.3" stroke-width="0.3"/>
<text class="ml" transform="translate(253.30 86.37) scale(0.85 1)">3</text>
<text class="ml" transform="translate(270.00 86.37) scale(0.85 1)">12</text>
<text class="ml" transform="translate(286.85 86.37) scale(0.85 1)">5</text>
<text class="ml" transform="translate(311.55 86.37) scale(0.85 1)">8</text>
<text class="ml" transform="translate(325.75 86.37) scale(0.85 1)">9</text>
<text class="ml" transform="translate(339.10 86.37) scale(0.85 1)">15</text>
<text class="ml" transform="translate(345.75 86.37) scale(0.85 1)">13</text>
<text class="ml" transform="translate(363.60 86.37) scale(0.85 1)">4</text>
<text class="ml" transform="translate(392.35 86.37) scale(0.85 1)">6</text>
<text class="ml" transform="translate(411.00 86.37) scale(0.85 1)">11</text>
<text class="ml" transform="translate(428.10 86.37) scale(0.85 1)">1</text>
<text class="ml" transform="translate(445.10 86.37) scale(0.85 1)">14</text>
<text class="ml" transform="translate(461.35 86.37) scale(0.85 1)">2</text>
<text class="ml" transform="translate(479.40 86.37) scale(0.85 1)">10</text>
<line x1="216.8" y1="96.19" x2="478.5" y2="96.19" stroke="#777" stroke-width="1.1"/>
<rect x="217.70" y="92.89" width="27.10" height="5.5" fill="#fff"/>
<rect x="217.90" y="93.39" width="26.70" height="3.6" rx="1.0" fill="url(#h3)" stroke="#ff6f8e" stroke-opacity="0.18" stroke-width="0.3"/>
<rect x="217.85" y="92.04" width="26.80" height="3.4" rx="1.1" fill="url(#g3)" stroke="#ff6f8e" stroke-opacity="0.3" stroke-width="0.3"/>
<rect x="246.10" y="92.89" width="3.90" height="5.5" fill="#fff"/>
<rect x="246.30" y="93.39" width="3.50" height="3.6" rx="1.0" fill="url(#h12)" stroke="#ff6a40" stroke-opacity="0.18" stroke-width="0.3"/>
<rect x="246.25" y="92.04" width="3.60" height="3.4" rx="1.1" fill="url(#g12)" stroke="#ff6a40" stroke-opacity="0.3" stroke-width="0.3"/>
<rect x="251.30" y="92.89" width="27.20" height="5.5" fill="#fff"/>
<rect x="251.50" y="93.39" width="26.80" height="3.6" rx="1.0" fill="url(#h5)" stroke="#ff2845" stroke-opacity="0.18" stroke-width="0.3"/>
<rect x="251.45" y="92.04" width="26.90" height="3.4" rx="1.1" fill="url(#g5)" stroke="#ff2845" stroke-opacity="0.3" stroke-width="0.3"/>
<rect x="287.70" y="92.89" width="15.80" height="5.5" fill="#fff"/>
<rect x="287.90" y="93.39" width="15.40" height="3.6" rx="1.0" fill="url(#h8)" stroke="#ffad2e" stroke-opacity="0.18" stroke-width="0.3"/>
<rect x="287.85" y="92.04" width="15.50" height="3.4" rx="1.1" fill="url(#g8)" stroke="#ffad2e" stroke-opacity="0.3" stroke-width="0.3"/>
<rect x="306.00" y="92.89" width="9.80" height="5.5" fill="#fff"/>
<rect x="306.20" y="93.39" width="9.40" height="3.6" rx="1.0" fill="url(#h9)" stroke="#8a66b8" stroke-opacity="0.18" stroke-width="0.3"/>
<rect x="306.15" y="92.04" width="9.50" height="3.4" rx="1.1" fill="url(#g9)" stroke="#8a66b8" stroke-opacity="0.3" stroke-width="0.3"/>
<rect x="318.50" y="92.89" width="21.90" height="5.5" fill="#fff"/>
<rect x="318.70" y="93.39" width="21.50" height="3.6" rx="1.0" fill="url(#h7)" stroke="#a8e495" stroke-opacity="0.18" stroke-width="0.3"/>
<rect x="318.65" y="92.04" width="21.60" height="3.4" rx="1.1" fill="url(#g7)" stroke="#a8e495" stroke-opacity="0.3" stroke-width="0.3"/>
<rect x="342.30" y="92.89" width="3.70" height="5.5" fill="#fff"/>
<rect x="342.50" y="93.39" width="3.30" height="3.6" rx="1.0" fill="url(#h13)" stroke="#2fcc99" stroke-opacity="0.18" stroke-width="0.3"/>
<rect x="342.45" y="92.04" width="3.40" height="3.4" rx="1.1" fill="url(#g13)" stroke="#2fcc99" stroke-opacity="0.3" stroke-width="0.3"/>
<rect x="346.90" y="92.89" width="27.20" height="5.5" fill="#fff"/>
<rect x="347.10" y="93.39" width="26.80" height="3.6" rx="1.0" fill="url(#h4)" stroke="#14a8a0" stroke-opacity="0.18" stroke-width="0.3"/>
<rect x="347.05" y="92.04" width="26.90" height="3.4" rx="1.1" fill="url(#g4)" stroke="#14a8a0" stroke-opacity="0.3" stroke-width="0.3"/>
<rect x="376.30" y="92.89" width="26.40" height="5.5" fill="#fff"/>
<rect x="376.50" y="93.39" width="26.00" height="3.6" rx="1.0" fill="url(#h6)" stroke="#b4aed8" stroke-opacity="0.18" stroke-width="0.3"/>
<rect x="376.45" y="92.04" width="26.10" height="3.4" rx="1.1" fill="url(#g6)" stroke="#b4aed8" stroke-opacity="0.3" stroke-width="0.3"/>
<rect x="404.60" y="92.89" width="3.90" height="5.5" fill="#fff"/>
<rect x="404.80" y="93.39" width="3.50" height="3.6" rx="1.0" fill="url(#h11)" stroke="#a3aa90" stroke-opacity="0.18" stroke-width="0.3"/>
<rect x="404.75" y="92.04" width="3.60" height="3.4" rx="1.1" fill="url(#g11)" stroke="#a3aa90" stroke-opacity="0.3" stroke-width="0.3"/>
<rect x="412.30" y="92.89" width="26.70" height="5.5" fill="#fff"/>
<rect x="412.50" y="93.39" width="26.30" height="3.6" rx="1.0" fill="url(#h1)" stroke="#55c040" stroke-opacity="0.18" stroke-width="0.3"/>
<rect x="412.45" y="92.04" width="26.40" height="3.4" rx="1.1" fill="url(#g1)" stroke="#55c040" stroke-opacity="0.3" stroke-width="0.3"/>
<rect x="440.10" y="92.89" width="3.60" height="5.5" fill="#fff"/>
<rect x="440.30" y="93.39" width="3.20" height="3.6" rx="1.0" fill="url(#h14)" stroke="#ffa2bb" stroke-opacity="0.18" stroke-width="0.3"/>
<rect x="440.25" y="92.04" width="3.30" height="3.4" rx="1.1" fill="url(#g14)" stroke="#ffa2bb" stroke-opacity="0.3" stroke-width="0.3"/>
<rect x="445.00" y="92.89" width="26.70" height="5.5" fill="#fff"/>
<rect x="445.20" y="93.39" width="26.30" height="3.6" rx="1.0" fill="url(#h2)" stroke="#ffd20f" stroke-opacity="0.18" stroke-width="0.3"/>
<rect x="445.15" y="92.04" width="26.40" height="3.4" rx="1.1" fill="url(#g2)" stroke="#ffd20f" stroke-opacity="0.3" stroke-width="0.3"/>
<rect x="475.00" y="92.89" width="3.50" height="5.5" fill="#fff"/>
<rect x="475.20" y="93.39" width="3.10" height="3.6" rx="1.0" fill="url(#h10)" stroke="#ffbf9c" stroke-opacity="0.18" stroke-width="0.3"/>
<rect x="475.15" y="92.04" width="3.20" height="3.4" rx="1.1" fill="url(#g10)" stroke="#ffbf9c" stroke-opacity="0.3" stroke-width="0.3"/>
<text class="ml" transform="translate(231.25 98.49) scale(0.85 1)">3</text>
<text class="ml" transform="translate(248.05 98.49) scale(0.85 1)">12</text>
<text class="ml" transform="translate(264.90 98.49) scale(0.85 1)">5</text>
<text class="ml" transform="translate(295.60 98.49) scale(0.85 1)">8</text>
<text class="ml" transform="translate(310.90 98.49) scale(0.85 1)">9</text>
<text class="ml" transform="translate(329.45 98.49) scale(0.85 1)">7</text>
<text class="ml" transform="translate(343.25 98.49) scale(0.85 1)">13</text>
<text class="ml" transform="translate(360.50 98.49) scale(0.85 1)">4</text>
<text class="ml" transform="translate(389.50 98.49) scale(0.85 1)">6</text>
<text class="ml" transform="translate(407.45 98.49) scale(0.85 1)">11</text>
<text class="ml" transform="translate(425.65 98.49) scale(0.85 1)">1</text>
<text class="ml" transform="translate(442.20 98.49) scale(0.85 1)">14</text>
<text class="ml" transform="translate(458.35 98.49) scale(0.85 1)">2</text>
<text class="ml" transform="translate(477.95 98.49) scale(0.85 1)">10</text>
<line x1="216.8" y1="108.31" x2="488.0" y2="108.31" stroke="#777" stroke-width="1.1"/>
<rect x="217.70" y="105.01" width="27.10" height="5.5" fill="#fff"/>
<rect x="217.90" y="105.51" width="26.70" height="3.6" rx="1.0" fill="url(#h3)" stroke="#ff6f8e" stroke-opacity="0.18" stroke-width="0.3"/>
<rect x="217.85" y="104.16" width="26.80" height="3.4" rx="1.1" fill="url(#g3)" stroke="#ff6f8e" stroke-opacity="0.3" stroke-width="0.3"/>
<rect x="246.10" y="105.01" width="3.90" height="5.5" fill="#fff"/>
<rect x="246.30" y="105.51" width="3.50" height="3.6" rx="1.0" fill="url(#h12)" stroke="#ff6a40" stroke-opacity="0.18" stroke-width="0.3"/>
<rect x="246.25" y="104.16" width="3.60" height="3.4" rx="1.1" fill="url(#g12)" stroke="#ff6a40" stroke-opacity="0.3" stroke-width="0.3"/>
<rect x="251.30" y="105.01" width="27.20" height="5.5" fill="#fff"/>
<rect x="251.50" y="105.51" width="26.80" height="3.6" rx="1.0" fill="url(#h5)" stroke="#ff2845" stroke-opacity="0.18" stroke-width="0.3"/>
<rect x="251.45" y="104.16" width="26.90" height="3.4" rx="1.1" fill="url(#g5)" stroke="#ff2845" stroke-opacity="0.3" stroke-width="0.3"/>
<rect x="299.40" y="105.01" width="15.60" height="5.5" fill="#fff"/>
<rect x="299.60" y="105.51" width="15.20" height="3.6" rx="1.0" fill="url(#h8)" stroke="#ffad2e" stroke-opacity="0.18" stroke-width="0.3"/>
<rect x="299.55" y="104.16" width="15.30" height="3.4" rx="1.1" fill="url(#g8)" stroke="#ffad2e" stroke-opacity="0.3" stroke-width="0.3"/>
<rect x="316.40" y="105.01" width="10.30" height="5.5" fill="#fff"/>
<rect x="316.60" y="105.51" width="9.90" height="3.6" rx="1.0" fill="url(#h9)" stroke="#8a66b8" stroke-opacity="0.18" stroke-width="0.3"/>
<rect x="316.55" y="104.16" width="10.00" height="3.4" rx="1.1" fill="url(#g9)" stroke="#8a66b8" stroke-opacity="0.3" stroke-width="0.3"/>
<rect x="329.40" y="105.01" width="21.00" height="5.5" fill="#fff"/>
<rect x="329.60" y="105.51" width="20.60" height="3.6" rx="1.0" fill="url(#h7)" stroke="#a8e495" stroke-opacity="0.18" stroke-width="0.3"/>
<rect x="329.55" y="104.16" width="20.70" height="3.4" rx="1.1" fill="url(#g7)" stroke="#a8e495" stroke-opacity="0.3" stroke-width="0.3"/>
<rect x="351.80" y="105.01" width="3.70" height="5.5" fill="#fff"/>
<rect x="352.00" y="105.51" width="3.30" height="3.6" rx="1.0" fill="url(#h13)" stroke="#2fcc99" stroke-opacity="0.18" stroke-width="0.3"/>
<rect x="351.95" y="104.16" width="3.40" height="3.4" rx="1.1" fill="url(#g13)" stroke="#2fcc99" stroke-opacity="0.3" stroke-width="0.3"/>
<rect x="357.70" y="105.01" width="26.80" height="5.5" fill="#fff"/>
<rect x="357.90" y="105.51" width="26.40" height="3.6" rx="1.0" fill="url(#h4)" stroke="#14a8a0" stroke-opacity="0.18" stroke-width="0.3"/>
<rect x="357.85" y="104.16" width="26.50" height="3.4" rx="1.1" fill="url(#g4)" stroke="#14a8a0" stroke-opacity="0.3" stroke-width="0.3"/>
<rect x="386.40" y="105.01" width="26.40" height="5.5" fill="#fff"/>
<rect x="386.60" y="105.51" width="26.00" height="3.6" rx="1.0" fill="url(#h6)" stroke="#b4aed8" stroke-opacity="0.18" stroke-width="0.3"/>
<rect x="386.55" y="104.16" width="26.10" height="3.4" rx="1.1" fill="url(#g6)" stroke="#b4aed8" stroke-opacity="0.3" stroke-width="0.3"/>
<rect x="415.00" y="105.01" width="3.60" height="5.5" fill="#fff"/>
<rect x="415.20" y="105.51" width="3.20" height="3.6" rx="1.0" fill="url(#h11)" stroke="#a3aa90" stroke-opacity="0.18" stroke-width="0.3"/>
<rect x="415.15" y="104.16" width="3.30" height="3.4" rx="1.1" fill="url(#g11)" stroke="#a3aa90" stroke-opacity="0.3" stroke-width="0.3"/>
<rect x="421.80" y="105.01" width="27.20" height="5.5" fill="#fff"/>
<rect x="422.00" y="105.51" width="26.80" height="3.6" rx="1.0" fill="url(#h1)" stroke="#55c040" stroke-opacity="0.18" stroke-width="0.3"/>
<rect x="421.95" y="104.16" width="26.90" height="3.4" rx="1.1" fill="url(#g1)" stroke="#55c040" stroke-opacity="0.3" stroke-width="0.3"/>
<rect x="450.00" y="105.01" width="3.60" height="5.5" fill="#fff"/>
<rect x="450.20" y="105.51" width="3.20" height="3.6" rx="1.0" fill="url(#h14)" stroke="#ffa2bb" stroke-opacity="0.18" stroke-width="0.3"/>
<rect x="450.15" y="104.16" width="3.30" height="3.4" rx="1.1" fill="url(#g14)" stroke="#ffa2bb" stroke-opacity="0.3" stroke-width="0.3"/>
<rect x="455.40" y="105.01" width="26.40" height="5.5" fill="#fff"/>
<rect x="455.60" y="105.51" width="26.00" height="3.6" rx="1.0" fill="url(#h2)" stroke="#ffd20f" stroke-opacity="0.18" stroke-width="0.3"/>
<rect x="455.55" y="104.16" width="26.10" height="3.4" rx="1.1" fill="url(#g2)" stroke="#ffd20f" stroke-opacity="0.3" stroke-width="0.3"/>
<rect x="484.50" y="105.01" width="3.50" height="5.5" fill="#fff"/>
<rect x="484.70" y="105.51" width="3.10" height="3.6" rx="1.0" fill="url(#h10)" stroke="#ffbf9c" stroke-opacity="0.18" stroke-width="0.3"/>
<rect x="484.65" y="104.16" width="3.20" height="3.4" rx="1.1" fill="url(#g10)" stroke="#ffbf9c" stroke-opacity="0.3" stroke-width="0.3"/>
<text class="ml" transform="translate(231.25 110.61) scale(0.85 1)">3</text>
<text class="ml" transform="translate(248.05 110.61) scale(0.85 1)">12</text>
<text class="ml" transform="translate(264.90 110.61) scale(0.85 1)">5</text>
<text class="ml" transform="translate(307.20 110.61) scale(0.85 1)">8</text>
<text class="ml" transform="translate(321.55 110.61) scale(0.85 1)">9</text>
<text class="ml" transform="translate(339.90 110.61) scale(0.85 1)">7</text>
<text class="ml" transform="translate(352.75 110.61) scale(0.85 1)">13</text>
<text class="ml" transform="translate(371.10 110.61) scale(0.85 1)">4</text>
<text class="ml" transform="translate(399.60 110.61) scale(0.85 1)">6</text>
<text class="ml" transform="translate(417.70 110.61) scale(0.85 1)">11</text>
<text class="ml" transform="translate(435.40 110.61) scale(0.85 1)">1</text>
<text class="ml" transform="translate(452.10 110.61) scale(0.85 1)">14</text>
<text class="ml" transform="translate(468.60 110.61) scale(0.85 1)">2</text>
<text class="ml" transform="translate(487.45 110.61) scale(0.85 1)">10</text>
<line x1="216.8" y1="120.43" x2="469.0" y2="120.43" stroke="#777" stroke-width="1.1"/>
<rect x="217.70" y="117.13" width="27.10" height="5.5" fill="#fff"/>
<rect x="217.90" y="117.63" width="26.70" height="3.6" rx="1.0" fill="url(#h3)" stroke="#ff6f8e" stroke-opacity="0.18" stroke-width="0.3"/>
<rect x="217.85" y="116.28" width="26.80" height="3.4" rx="1.1" fill="url(#g3)" stroke="#ff6f8e" stroke-opacity="0.3" stroke-width="0.3"/>
<rect x="246.10" y="117.13" width="3.90" height="5.5" fill="#fff"/>
<rect x="246.30" y="117.63" width="3.50" height="3.6" rx="1.0" fill="url(#h12)" stroke="#ff6a40" stroke-opacity="0.18" stroke-width="0.3"/>
<rect x="246.25" y="116.28" width="3.60" height="3.4" rx="1.1" fill="url(#g12)" stroke="#ff6a40" stroke-opacity="0.3" stroke-width="0.3"/>
<rect x="251.30" y="117.13" width="27.20" height="5.5" fill="#fff"/>
<rect x="251.50" y="117.63" width="26.80" height="3.6" rx="1.0" fill="url(#h5)" stroke="#ff2845" stroke-opacity="0.18" stroke-width="0.3"/>
<rect x="251.45" y="116.28" width="26.90" height="3.4" rx="1.1" fill="url(#g5)" stroke="#ff2845" stroke-opacity="0.3" stroke-width="0.3"/>
<rect x="280.40" y="117.13" width="14.70" height="5.5" fill="#fff"/>
<rect x="280.60" y="117.63" width="14.30" height="3.6" rx="1.0" fill="url(#h8)" stroke="#ffad2e" stroke-opacity="0.18" stroke-width="0.3"/>
<rect x="280.55" y="116.28" width="14.40" height="3.4" rx="1.1" fill="url(#g8)" stroke="#ffad2e" stroke-opacity="0.3" stroke-width="0.3"/>
<rect x="297.30" y="117.13" width="10.30" height="5.5" fill="#fff"/>
<rect x="297.50" y="117.63" width="9.90" height="3.6" rx="1.0" fill="url(#h9)" stroke="#8a66b8" stroke-opacity="0.18" stroke-width="0.3"/>
<rect x="297.45" y="116.28" width="10.00" height="3.4" rx="1.1" fill="url(#g9)" stroke="#8a66b8" stroke-opacity="0.3" stroke-width="0.3"/>
<rect x="310.40" y="117.13" width="21.80" height="5.5" fill="#fff"/>
<rect x="310.60" y="117.63" width="21.40" height="3.6" rx="1.0" fill="url(#h7)" stroke="#a8e495" stroke-opacity="0.18" stroke-width="0.3"/>
<rect x="310.55" y="116.28" width="21.50" height="3.4" rx="1.1" fill="url(#g7)" stroke="#a8e495" stroke-opacity="0.3" stroke-width="0.3"/>
<rect x="334.00" y="117.13" width="3.70" height="5.5" fill="#fff"/>
<rect x="334.20" y="117.63" width="3.30" height="3.6" rx="1.0" fill="url(#h13)" stroke="#2fcc99" stroke-opacity="0.18" stroke-width="0.3"/>
<rect x="334.15" y="116.28" width="3.40" height="3.4" rx="1.1" fill="url(#g13)" stroke="#2fcc99" stroke-opacity="0.3" stroke-width="0.3"/>
<rect x="338.20" y="117.13" width="27.20" height="5.5" fill="#fff"/>
<rect x="338.40" y="117.63" width="26.80" height="3.6" rx="1.0" fill="url(#h4)" stroke="#14a8a0" stroke-opacity="0.18" stroke-width="0.3"/>
<rect x="338.35" y="116.28" width="26.90" height="3.4" rx="1.1" fill="url(#g4)" stroke="#14a8a0" stroke-opacity="0.3" stroke-width="0.3"/>
<rect x="367.30" y="117.13" width="27.20" height="5.5" fill="#fff"/>
<rect x="367.50" y="117.63" width="26.80" height="3.6" rx="1.0" fill="url(#h6)" stroke="#b4aed8" stroke-opacity="0.18" stroke-width="0.3"/>
<rect x="367.45" y="116.28" width="26.90" height="3.4" rx="1.1" fill="url(#g6)" stroke="#b4aed8" stroke-opacity="0.3" stroke-width="0.3"/>
<rect x="395.90" y="117.13" width="3.60" height="5.5" fill="#fff"/>
<rect x="396.10" y="117.63" width="3.20" height="3.6" rx="1.0" fill="url(#h11)" stroke="#a3aa90" stroke-opacity="0.18" stroke-width="0.3"/>
<rect x="396.05" y="116.28" width="3.30" height="3.4" rx="1.1" fill="url(#g11)" stroke="#a3aa90" stroke-opacity="0.3" stroke-width="0.3"/>
<rect x="403.50" y="117.13" width="26.50" height="5.5" fill="#fff"/>
<rect x="403.70" y="117.63" width="26.10" height="3.6" rx="1.0" fill="url(#h1)" stroke="#55c040" stroke-opacity="0.18" stroke-width="0.3"/>
<rect x="403.65" y="116.28" width="26.20" height="3.4" rx="1.1" fill="url(#g1)" stroke="#55c040" stroke-opacity="0.3" stroke-width="0.3"/>
<rect x="431.00" y="117.13" width="3.50" height="5.5" fill="#fff"/>
<rect x="431.20" y="117.63" width="3.10" height="3.6" rx="1.0" fill="url(#h14)" stroke="#ffa2bb" stroke-opacity="0.18" stroke-width="0.3"/>
<rect x="431.15" y="116.28" width="3.20" height="3.4" rx="1.1" fill="url(#g14)" stroke="#ffa2bb" stroke-opacity="0.3" stroke-width="0.3"/>
<rect x="436.30" y="117.13" width="27.20" height="5.5" fill="#fff"/>
<rect x="436.50" y="117.63" width="26.80" height="3.6" rx="1.0" fill="url(#h2)" stroke="#ffd20f" stroke-opacity="0.18" stroke-width="0.3"/>
<rect x="436.45" y="116.28" width="26.90" height="3.4" rx="1.1" fill="url(#g2)" stroke="#ffd20f" stroke-opacity="0.3" stroke-width="0.3"/>
<rect x="465.40" y="117.13" width="3.60" height="5.5" fill="#fff"/>
<rect x="465.60" y="117.63" width="3.20" height="3.6" rx="1.0" fill="url(#h10)" stroke="#ffbf9c" stroke-opacity="0.18" stroke-width="0.3"/>
<rect x="465.55" y="116.28" width="3.30" height="3.4" rx="1.1" fill="url(#g10)" stroke="#ffbf9c" stroke-opacity="0.3" stroke-width="0.3"/>
<text class="ml" transform="translate(231.25 122.73) scale(0.85 1)">3</text>
<text class="ml" transform="translate(248.05 122.73) scale(0.85 1)">12</text>
<text class="ml" transform="translate(264.90 122.73) scale(0.85 1)">5</text>
<text class="ml" transform="translate(287.75 122.73) scale(0.85 1)">8</text>
<text class="ml" transform="translate(302.45 122.73) scale(0.85 1)">9</text>
<text class="ml" transform="translate(321.30 122.73) scale(0.85 1)">7</text>
<text class="ml" transform="translate(334.95 122.73) scale(0.85 1)">13</text>
<text class="ml" transform="translate(351.80 122.73) scale(0.85 1)">4</text>
<text class="ml" transform="translate(380.90 122.73) scale(0.85 1)">6</text>
<text class="ml" transform="translate(398.60 122.73) scale(0.85 1)">11</text>
<text class="ml" transform="translate(416.75 122.73) scale(0.85 1)">1</text>
<text class="ml" transform="translate(433.05 122.73) scale(0.85 1)">14</text>
<text class="ml" transform="translate(449.90 122.73) scale(0.85 1)">2</text>
<text class="ml" transform="translate(468.40 122.73) scale(0.85 1)">10</text>
<line x1="216.8" y1="132.55" x2="469.0" y2="132.55" stroke="#777" stroke-width="1.1"/>
<rect x="217.70" y="129.25" width="27.10" height="5.5" fill="#fff"/>
<rect x="217.90" y="129.75" width="26.70" height="3.6" rx="1.0" fill="url(#h3)" stroke="#ff6f8e" stroke-opacity="0.18" stroke-width="0.3"/>
<rect x="217.85" y="128.40" width="26.80" height="3.4" rx="1.1" fill="url(#g3)" stroke="#ff6f8e" stroke-opacity="0.3" stroke-width="0.3"/>
<rect x="246.10" y="129.25" width="3.90" height="5.5" fill="#fff"/>
<rect x="246.30" y="129.75" width="3.50" height="3.6" rx="1.0" fill="url(#h12)" stroke="#ff6a40" stroke-opacity="0.18" stroke-width="0.3"/>
<rect x="246.25" y="128.40" width="3.60" height="3.4" rx="1.1" fill="url(#g12)" stroke="#ff6a40" stroke-opacity="0.3" stroke-width="0.3"/>
<rect x="251.30" y="129.25" width="27.20" height="5.5" fill="#fff"/>
<rect x="251.50" y="129.75" width="26.80" height="3.6" rx="1.0" fill="url(#h5)" stroke="#ff2845" stroke-opacity="0.18" stroke-width="0.3"/>
<rect x="251.45" y="128.40" width="26.90" height="3.4" rx="1.1" fill="url(#g5)" stroke="#ff2845" stroke-opacity="0.3" stroke-width="0.3"/>
<rect x="280.40" y="129.25" width="14.70" height="5.5" fill="#fff"/>
<rect x="280.60" y="129.75" width="14.30" height="3.6" rx="1.0" fill="url(#h8)" stroke="#ffad2e" stroke-opacity="0.18" stroke-width="0.3"/>
<rect x="280.55" y="128.40" width="14.40" height="3.4" rx="1.1" fill="url(#g8)" stroke="#ffad2e" stroke-opacity="0.3" stroke-width="0.3"/>
<rect x="297.30" y="129.25" width="10.30" height="5.5" fill="#fff"/>
<rect x="297.50" y="129.75" width="9.90" height="3.6" rx="1.0" fill="url(#h9)" stroke="#8a66b8" stroke-opacity="0.18" stroke-width="0.3"/>
<rect x="297.45" y="128.40" width="10.00" height="3.4" rx="1.1" fill="url(#g9)" stroke="#8a66b8" stroke-opacity="0.3" stroke-width="0.3"/>
<rect x="310.40" y="129.25" width="21.80" height="5.5" fill="#fff"/>
<rect x="310.60" y="129.75" width="21.40" height="3.6" rx="1.0" fill="url(#h7)" stroke="#a8e495" stroke-opacity="0.18" stroke-width="0.3"/>
<rect x="310.55" y="128.40" width="21.50" height="3.4" rx="1.1" fill="url(#g7)" stroke="#a8e495" stroke-opacity="0.3" stroke-width="0.3"/>
<rect x="334.00" y="129.25" width="3.70" height="5.5" fill="#fff"/>
<rect x="334.20" y="129.75" width="3.30" height="3.6" rx="1.0" fill="url(#h13)" stroke="#2fcc99" stroke-opacity="0.18" stroke-width="0.3"/>
<rect x="334.15" y="128.40" width="3.40" height="3.4" rx="1.1" fill="url(#g13)" stroke="#2fcc99" stroke-opacity="0.3" stroke-width="0.3"/>
<rect x="338.20" y="129.25" width="27.20" height="5.5" fill="#fff"/>
<rect x="338.40" y="129.75" width="26.80" height="3.6" rx="1.0" fill="url(#h4)" stroke="#14a8a0" stroke-opacity="0.18" stroke-width="0.3"/>
<rect x="338.35" y="128.40" width="26.90" height="3.4" rx="1.1" fill="url(#g4)" stroke="#14a8a0" stroke-opacity="0.3" stroke-width="0.3"/>
<rect x="367.30" y="129.25" width="27.20" height="5.5" fill="#fff"/>
<rect x="367.50" y="129.75" width="26.80" height="3.6" rx="1.0" fill="url(#h6)" stroke="#b4aed8" stroke-opacity="0.18" stroke-width="0.3"/>
<rect x="367.45" y="128.40" width="26.90" height="3.4" rx="1.1" fill="url(#g6)" stroke="#b4aed8" stroke-opacity="0.3" stroke-width="0.3"/>
<rect x="395.90" y="129.25" width="3.60" height="5.5" fill="#fff"/>
<rect x="396.10" y="129.75" width="3.20" height="3.6" rx="1.0" fill="url(#h11)" stroke="#a3aa90" stroke-opacity="0.18" stroke-width="0.3"/>
<rect x="396.05" y="128.40" width="3.30" height="3.4" rx="1.1" fill="url(#g11)" stroke="#a3aa90" stroke-opacity="0.3" stroke-width="0.3"/>
<rect x="403.50" y="129.25" width="26.50" height="5.5" fill="#fff"/>
<rect x="403.70" y="129.75" width="26.10" height="3.6" rx="1.0" fill="url(#h1)" stroke="#55c040" stroke-opacity="0.18" stroke-width="0.3"/>
<rect x="403.65" y="128.40" width="26.20" height="3.4" rx="1.1" fill="url(#g1)" stroke="#55c040" stroke-opacity="0.3" stroke-width="0.3"/>
<rect x="431.00" y="129.25" width="3.50" height="5.5" fill="#fff"/>
<rect x="431.20" y="129.75" width="3.10" height="3.6" rx="1.0" fill="url(#h14)" stroke="#ffa2bb" stroke-opacity="0.18" stroke-width="0.3"/>
<rect x="431.15" y="128.40" width="3.20" height="3.4" rx="1.1" fill="url(#g14)" stroke="#ffa2bb" stroke-opacity="0.3" stroke-width="0.3"/>
<rect x="436.30" y="129.25" width="27.20" height="5.5" fill="#fff"/>
<rect x="436.50" y="129.75" width="26.80" height="3.6" rx="1.0" fill="url(#h2)" stroke="#ffd20f" stroke-opacity="0.18" stroke-width="0.3"/>
<rect x="436.45" y="128.40" width="26.90" height="3.4" rx="1.1" fill="url(#g2)" stroke="#ffd20f" stroke-opacity="0.3" stroke-width="0.3"/>
<rect x="465.40" y="129.25" width="3.60" height="5.5" fill="#fff"/>
<rect x="465.60" y="129.75" width="3.20" height="3.6" rx="1.0" fill="url(#h10)" stroke="#ffbf9c" stroke-opacity="0.18" stroke-width="0.3"/>
<rect x="465.55" y="128.40" width="3.30" height="3.4" rx="1.1" fill="url(#g10)" stroke="#ffbf9c" stroke-opacity="0.3" stroke-width="0.3"/>
<text class="ml" transform="translate(231.25 134.85) scale(0.85 1)">3</text>
<text class="ml" transform="translate(248.05 134.85) scale(0.85 1)">12</text>
<text class="ml" transform="translate(264.90 134.85) scale(0.85 1)">5</text>
<text class="ml" transform="translate(287.75 134.85) scale(0.85 1)">8</text>
<text class="ml" transform="translate(302.45 134.85) scale(0.85 1)">9</text>
<text class="ml" transform="translate(321.30 134.85) scale(0.85 1)">7</text>
<text class="ml" transform="translate(334.95 134.85) scale(0.85 1)">13</text>
<text class="ml" transform="translate(351.80 134.85) scale(0.85 1)">4</text>
<text class="ml" transform="translate(380.90 134.85) scale(0.85 1)">6</text>
<text class="ml" transform="translate(398.60 134.85) scale(0.85 1)">11</text>
<text class="ml" transform="translate(416.75 134.85) scale(0.85 1)">1</text>
<text class="ml" transform="translate(433.05 134.85) scale(0.85 1)">14</text>
<text class="ml" transform="translate(449.90 134.85) scale(0.85 1)">2</text>
<text class="ml" transform="translate(468.40 134.85) scale(0.85 1)">10</text>
<line x1="216.8" y1="144.67" x2="472.5" y2="144.67" stroke="#777" stroke-width="1.1"/>
<rect x="218.20" y="141.37" width="27.30" height="5.5" fill="#fff"/>
<rect x="218.40" y="141.87" width="26.90" height="3.6" rx="1.0" fill="url(#h3)" stroke="#ff6f8e" stroke-opacity="0.18" stroke-width="0.3"/>
<rect x="218.35" y="140.52" width="27.00" height="3.4" rx="1.1" fill="url(#g3)" stroke="#ff6f8e" stroke-opacity="0.3" stroke-width="0.3"/>
<rect x="246.80" y="141.37" width="3.70" height="5.5" fill="#fff"/>
<rect x="247.00" y="141.87" width="3.30" height="3.6" rx="1.0" fill="url(#h12)" stroke="#ff6a40" stroke-opacity="0.18" stroke-width="0.3"/>
<rect x="246.95" y="140.52" width="3.40" height="3.4" rx="1.1" fill="url(#g12)" stroke="#ff6a40" stroke-opacity="0.3" stroke-width="0.3"/>
<rect x="252.30" y="141.37" width="26.40" height="5.5" fill="#fff"/>
<rect x="252.50" y="141.87" width="26.00" height="3.6" rx="1.0" fill="url(#h5)" stroke="#ff2845" stroke-opacity="0.18" stroke-width="0.3"/>
<rect x="252.45" y="140.52" width="26.10" height="3.4" rx="1.1" fill="url(#g5)" stroke="#ff2845" stroke-opacity="0.3" stroke-width="0.3"/>
<rect x="283.10" y="141.37" width="15.50" height="5.5" fill="#fff"/>
<rect x="283.30" y="141.87" width="15.10" height="3.6" rx="1.0" fill="url(#h8)" stroke="#ffad2e" stroke-opacity="0.18" stroke-width="0.3"/>
<rect x="283.25" y="140.52" width="15.20" height="3.4" rx="1.1" fill="url(#g8)" stroke="#ffad2e" stroke-opacity="0.3" stroke-width="0.3"/>
<rect x="300.50" y="141.37" width="10.40" height="5.5" fill="#fff"/>
<rect x="300.70" y="141.87" width="10.00" height="3.6" rx="1.0" fill="url(#h9)" stroke="#8a66b8" stroke-opacity="0.18" stroke-width="0.3"/>
<rect x="300.65" y="140.52" width="10.10" height="3.4" rx="1.1" fill="url(#g9)" stroke="#8a66b8" stroke-opacity="0.3" stroke-width="0.3"/>
<rect x="313.60" y="141.37" width="21.80" height="5.5" fill="#fff"/>
<rect x="313.80" y="141.87" width="21.40" height="3.6" rx="1.0" fill="url(#h7)" stroke="#a8e495" stroke-opacity="0.18" stroke-width="0.3"/>
<rect x="313.75" y="140.52" width="21.50" height="3.4" rx="1.1" fill="url(#g7)" stroke="#a8e495" stroke-opacity="0.3" stroke-width="0.3"/>
<rect x="337.40" y="141.37" width="3.60" height="5.5" fill="#fff"/>
<rect x="337.60" y="141.87" width="3.20" height="3.6" rx="1.0" fill="url(#h13)" stroke="#2fcc99" stroke-opacity="0.18" stroke-width="0.3"/>
<rect x="337.55" y="140.52" width="3.30" height="3.4" rx="1.1" fill="url(#g13)" stroke="#2fcc99" stroke-opacity="0.3" stroke-width="0.3"/>
<rect x="341.40" y="141.37" width="27.20" height="5.5" fill="#fff"/>
<rect x="341.60" y="141.87" width="26.80" height="3.6" rx="1.0" fill="url(#h4)" stroke="#14a8a0" stroke-opacity="0.18" stroke-width="0.3"/>
<rect x="341.55" y="140.52" width="26.90" height="3.4" rx="1.1" fill="url(#g4)" stroke="#14a8a0" stroke-opacity="0.3" stroke-width="0.3"/>
<rect x="370.80" y="141.37" width="27.30" height="5.5" fill="#fff"/>
<rect x="371.00" y="141.87" width="26.90" height="3.6" rx="1.0" fill="url(#h6)" stroke="#b4aed8" stroke-opacity="0.18" stroke-width="0.3"/>
<rect x="370.95" y="140.52" width="27.00" height="3.4" rx="1.1" fill="url(#g6)" stroke="#b4aed8" stroke-opacity="0.3" stroke-width="0.3"/>
<rect x="399.20" y="141.37" width="3.80" height="5.5" fill="#fff"/>
<rect x="399.40" y="141.87" width="3.40" height="3.6" rx="1.0" fill="url(#h11)" stroke="#a3aa90" stroke-opacity="0.18" stroke-width="0.3"/>
<rect x="399.35" y="140.52" width="3.50" height="3.4" rx="1.1" fill="url(#g11)" stroke="#a3aa90" stroke-opacity="0.3" stroke-width="0.3"/>
<rect x="406.80" y="141.37" width="26.70" height="5.5" fill="#fff"/>
<rect x="407.00" y="141.87" width="26.30" height="3.6" rx="1.0" fill="url(#h1)" stroke="#55c040" stroke-opacity="0.18" stroke-width="0.3"/>
<rect x="406.95" y="140.52" width="26.40" height="3.4" rx="1.1" fill="url(#g1)" stroke="#55c040" stroke-opacity="0.3" stroke-width="0.3"/>
<rect x="434.50" y="141.37" width="3.50" height="5.5" fill="#fff"/>
<rect x="434.70" y="141.87" width="3.10" height="3.6" rx="1.0" fill="url(#h14)" stroke="#ffa2bb" stroke-opacity="0.18" stroke-width="0.3"/>
<rect x="434.65" y="140.52" width="3.20" height="3.4" rx="1.1" fill="url(#g14)" stroke="#ffa2bb" stroke-opacity="0.3" stroke-width="0.3"/>
<rect x="439.50" y="141.37" width="27.30" height="5.5" fill="#fff"/>
<rect x="439.70" y="141.87" width="26.90" height="3.6" rx="1.0" fill="url(#h2)" stroke="#ffd20f" stroke-opacity="0.18" stroke-width="0.3"/>
<rect x="439.65" y="140.52" width="27.00" height="3.4" rx="1.1" fill="url(#g2)" stroke="#ffd20f" stroke-opacity="0.3" stroke-width="0.3"/>
<rect x="469.00" y="141.37" width="3.50" height="5.5" fill="#fff"/>
<rect x="469.20" y="141.87" width="3.10" height="3.6" rx="1.0" fill="url(#h10)" stroke="#ffbf9c" stroke-opacity="0.18" stroke-width="0.3"/>
<rect x="469.15" y="140.52" width="3.20" height="3.4" rx="1.1" fill="url(#g10)" stroke="#ffbf9c" stroke-opacity="0.3" stroke-width="0.3"/>
<text class="ml" transform="translate(231.85 146.97) scale(0.85 1)">3</text>
<text class="ml" transform="translate(248.65 146.97) scale(0.85 1)">12</text>
<text class="ml" transform="translate(265.50 146.97) scale(0.85 1)">5</text>
<text class="ml" transform="translate(290.85 146.97) scale(0.85 1)">8</text>
<text class="ml" transform="translate(305.70 146.97) scale(0.85 1)">9</text>
<text class="ml" transform="translate(324.50 146.97) scale(0.85 1)">7</text>
<text class="ml" transform="translate(338.30 146.97) scale(0.85 1)">13</text>
<text class="ml" transform="translate(355.00 146.97) scale(0.85 1)">4</text>
<text class="ml" transform="translate(384.45 146.97) scale(0.85 1)">6</text>
<text class="ml" transform="translate(402.00 146.97) scale(0.85 1)">11</text>
<text class="ml" transform="translate(420.15 146.97) scale(0.85 1)">1</text>
<text class="ml" transform="translate(436.55 146.97) scale(0.85 1)">14</text>
<text class="ml" transform="translate(453.15 146.97) scale(0.85 1)">2</text>
<text class="ml" transform="translate(471.95 146.97) scale(0.85 1)">10</text>
<line x1="216.8" y1="156.79" x2="472.5" y2="156.79" stroke="#777" stroke-width="1.1"/>
<rect x="218.20" y="153.49" width="27.30" height="5.5" fill="#fff"/>
<rect x="218.40" y="153.99" width="26.90" height="3.6" rx="1.0" fill="url(#h3)" stroke="#ff6f8e" stroke-opacity="0.18" stroke-width="0.3"/>
<rect x="218.35" y="152.64" width="27.00" height="3.4" rx="1.1" fill="url(#g3)" stroke="#ff6f8e" stroke-opacity="0.3" stroke-width="0.3"/>
<rect x="246.80" y="153.49" width="3.70" height="5.5" fill="#fff"/>
<rect x="247.00" y="153.99" width="3.30" height="3.6" rx="1.0" fill="url(#h12)" stroke="#ff6a40" stroke-opacity="0.18" stroke-width="0.3"/>
<rect x="246.95" y="152.64" width="3.40" height="3.4" rx="1.1" fill="url(#g12)" stroke="#ff6a40" stroke-opacity="0.3" stroke-width="0.3"/>
<rect x="252.30" y="153.49" width="26.40" height="5.5" fill="#fff"/>
<rect x="252.50" y="153.99" width="26.00" height="3.6" rx="1.0" fill="url(#h5)" stroke="#ff2845" stroke-opacity="0.18" stroke-width="0.3"/>
<rect x="252.45" y="152.64" width="26.10" height="3.4" rx="1.1" fill="url(#g5)" stroke="#ff2845" stroke-opacity="0.3" stroke-width="0.3"/>
<rect x="283.10" y="153.49" width="15.50" height="5.5" fill="#fff"/>
<rect x="283.30" y="153.99" width="15.10" height="3.6" rx="1.0" fill="url(#h8)" stroke="#ffad2e" stroke-opacity="0.18" stroke-width="0.3"/>
<rect x="283.25" y="152.64" width="15.20" height="3.4" rx="1.1" fill="url(#g8)" stroke="#ffad2e" stroke-opacity="0.3" stroke-width="0.3"/>
<rect x="300.50" y="153.49" width="10.40" height="5.5" fill="#fff"/>
<rect x="300.70" y="153.99" width="10.00" height="3.6" rx="1.0" fill="url(#h9)" stroke="#8a66b8" stroke-opacity="0.18" stroke-width="0.3"/>
<rect x="300.65" y="152.64" width="10.10" height="3.4" rx="1.1" fill="url(#g9)" stroke="#8a66b8" stroke-opacity="0.3" stroke-width="0.3"/>
<rect x="313.60" y="153.49" width="21.80" height="5.5" fill="#fff"/>
<rect x="313.80" y="153.99" width="21.40" height="3.6" rx="1.0" fill="url(#h7)" stroke="#a8e495" stroke-opacity="0.18" stroke-width="0.3"/>
<rect x="313.75" y="152.64" width="21.50" height="3.4" rx="1.1" fill="url(#g7)" stroke="#a8e495" stroke-opacity="0.3" stroke-width="0.3"/>
<rect x="337.40" y="153.49" width="3.60" height="5.5" fill="#fff"/>
<rect x="337.60" y="153.99" width="3.20" height="3.6" rx="1.0" fill="url(#h13)" stroke="#2fcc99" stroke-opacity="0.18" stroke-width="0.3"/>
<rect x="337.55" y="152.64" width="3.30" height="3.4" rx="1.1" fill="url(#g13)" stroke="#2fcc99" stroke-opacity="0.3" stroke-width="0.3"/>
<rect x="341.40" y="153.49" width="27.20" height="5.5" fill="#fff"/>
<rect x="341.60" y="153.99" width="26.80" height="3.6" rx="1.0" fill="url(#h4)" stroke="#14a8a0" stroke-opacity="0.18" stroke-width="0.3"/>
<rect x="341.55" y="152.64" width="26.90" height="3.4" rx="1.1" fill="url(#g4)" stroke="#14a8a0" stroke-opacity="0.3" stroke-width="0.3"/>
<rect x="370.80" y="153.49" width="27.30" height="5.5" fill="#fff"/>
<rect x="371.00" y="153.99" width="26.90" height="3.6" rx="1.0" fill="url(#h6)" stroke="#b4aed8" stroke-opacity="0.18" stroke-width="0.3"/>
<rect x="370.95" y="152.64" width="27.00" height="3.4" rx="1.1" fill="url(#g6)" stroke="#b4aed8" stroke-opacity="0.3" stroke-width="0.3"/>
<rect x="399.20" y="153.49" width="3.80" height="5.5" fill="#fff"/>
<rect x="399.40" y="153.99" width="3.40" height="3.6" rx="1.0" fill="url(#h11)" stroke="#a3aa90" stroke-opacity="0.18" stroke-width="0.3"/>
<rect x="399.35" y="152.64" width="3.50" height="3.4" rx="1.1" fill="url(#g11)" stroke="#a3aa90" stroke-opacity="0.3" stroke-width="0.3"/>
<rect x="406.80" y="153.49" width="26.70" height="5.5" fill="#fff"/>
<rect x="407.00" y="153.99" width="26.30" height="3.6" rx="1.0" fill="url(#h1)" stroke="#55c040" stroke-opacity="0.18" stroke-width="0.3"/>
<rect x="406.95" y="152.64" width="26.40" height="3.4" rx="1.1" fill="url(#g1)" stroke="#55c040" stroke-opacity="0.3" stroke-width="0.3"/>
<rect x="434.50" y="153.49" width="3.50" height="5.5" fill="#fff"/>
<rect x="434.70" y="153.99" width="3.10" height="3.6" rx="1.0" fill="url(#h14)" stroke="#ffa2bb" stroke-opacity="0.18" stroke-width="0.3"/>
<rect x="434.65" y="152.64" width="3.20" height="3.4" rx="1.1" fill="url(#g14)" stroke="#ffa2bb" stroke-opacity="0.3" stroke-width="0.3"/>
<rect x="439.50" y="153.49" width="27.30" height="5.5" fill="#fff"/>
<rect x="439.70" y="153.99" width="26.90" height="3.6" rx="1.0" fill="url(#h2)" stroke="#ffd20f" stroke-opacity="0.18" stroke-width="0.3"/>
<rect x="439.65" y="152.64" width="27.00" height="3.4" rx="1.1" fill="url(#g2)" stroke="#ffd20f" stroke-opacity="0.3" stroke-width="0.3"/>
<rect x="469.00" y="153.49" width="3.50" height="5.5" fill="#fff"/>
<rect x="469.20" y="153.99" width="3.10" height="3.6" rx="1.0" fill="url(#h10)" stroke="#ffbf9c" stroke-opacity="0.18" stroke-width="0.3"/>
<rect x="469.15" y="152.64" width="3.20" height="3.4" rx="1.1" fill="url(#g10)" stroke="#ffbf9c" stroke-opacity="0.3" stroke-width="0.3"/>
<text class="ml" transform="translate(231.85 159.09) scale(0.85 1)">3</text>
<text class="ml" transform="translate(248.65 159.09) scale(0.85 1)">12</text>
<text class="ml" transform="translate(265.50 159.09) scale(0.85 1)">5</text>
<text class="ml" transform="translate(290.85 159.09) scale(0.85 1)">8</text>
<text class="ml" transform="translate(305.70 159.09) scale(0.85 1)">9</text>
<text class="ml" transform="translate(324.50 159.09) scale(0.85 1)">7</text>
<text class="ml" transform="translate(338.30 159.09) scale(0.85 1)">13</text>
<text class="ml" transform="translate(355.00 159.09) scale(0.85 1)">4</text>
<text class="ml" transform="translate(384.45 159.09) scale(0.85 1)">6</text>
<text class="ml" transform="translate(402.00 159.09) scale(0.85 1)">11</text>
<text class="ml" transform="translate(420.15 159.09) scale(0.85 1)">1</text>
<text class="ml" transform="translate(436.55 159.09) scale(0.85 1)">14</text>
<text class="ml" transform="translate(453.15 159.09) scale(0.85 1)">2</text>
<text class="ml" transform="translate(471.95 159.09) scale(0.85 1)">10</text>
<line x1="216.8" y1="168.91" x2="480.0" y2="168.91" stroke="#777" stroke-width="1.1"/>
<rect x="218.20" y="165.61" width="27.30" height="5.5" fill="#fff"/>
<rect x="218.40" y="166.11" width="26.90" height="3.6" rx="1.0" fill="url(#h3)" stroke="#ff6f8e" stroke-opacity="0.18" stroke-width="0.3"/>
<rect x="218.35" y="164.76" width="27.00" height="3.4" rx="1.1" fill="url(#g3)" stroke="#ff6f8e" stroke-opacity="0.3" stroke-width="0.3"/>
<rect x="246.80" y="165.61" width="3.70" height="5.5" fill="#fff"/>
<rect x="247.00" y="166.11" width="3.30" height="3.6" rx="1.0" fill="url(#h12)" stroke="#ff6a40" stroke-opacity="0.18" stroke-width="0.3"/>
<rect x="246.95" y="164.76" width="3.40" height="3.4" rx="1.1" fill="url(#g12)" stroke="#ff6a40" stroke-opacity="0.3" stroke-width="0.3"/>
<rect x="252.30" y="165.61" width="26.40" height="5.5" fill="#fff"/>
<rect x="252.50" y="166.11" width="26.00" height="3.6" rx="1.0" fill="url(#h5)" stroke="#ff2845" stroke-opacity="0.18" stroke-width="0.3"/>
<rect x="252.45" y="164.76" width="26.10" height="3.4" rx="1.1" fill="url(#g5)" stroke="#ff2845" stroke-opacity="0.3" stroke-width="0.3"/>
<rect x="283.10" y="165.61" width="15.50" height="5.5" fill="#fff"/>
<rect x="283.30" y="166.11" width="15.10" height="3.6" rx="1.0" fill="url(#h8)" stroke="#ffad2e" stroke-opacity="0.18" stroke-width="0.3"/>
<rect x="283.25" y="164.76" width="15.20" height="3.4" rx="1.1" fill="url(#g8)" stroke="#ffad2e" stroke-opacity="0.3" stroke-width="0.3"/>
<rect x="300.50" y="165.61" width="10.40" height="5.5" fill="#fff"/>
<rect x="300.70" y="166.11" width="10.00" height="3.6" rx="1.0" fill="url(#h9)" stroke="#8a66b8" stroke-opacity="0.18" stroke-width="0.3"/>
<rect x="300.65" y="164.76" width="10.10" height="3.4" rx="1.1" fill="url(#g9)" stroke="#8a66b8" stroke-opacity="0.3" stroke-width="0.3"/>
<rect x="313.60" y="165.61" width="21.80" height="5.5" fill="#fff"/>
<rect x="313.80" y="166.11" width="21.40" height="3.6" rx="1.0" fill="url(#h7)" stroke="#a8e495" stroke-opacity="0.18" stroke-width="0.3"/>
<rect x="313.75" y="164.76" width="21.50" height="3.4" rx="1.1" fill="url(#g7)" stroke="#a8e495" stroke-opacity="0.3" stroke-width="0.3"/>
<rect x="338.70" y="165.61" width="3.60" height="5.5" fill="#fff"/>
<rect x="338.90" y="166.11" width="3.20" height="3.6" rx="1.0" fill="url(#h13)" stroke="#2fcc99" stroke-opacity="0.18" stroke-width="0.3"/>
<rect x="338.85" y="164.76" width="3.30" height="3.4" rx="1.1" fill="url(#g13)" stroke="#2fcc99" stroke-opacity="0.3" stroke-width="0.3"/>
<rect x="349.00" y="165.61" width="26.50" height="5.5" fill="#fff"/>
<rect x="349.20" y="166.11" width="26.10" height="3.6" rx="1.0" fill="url(#h4)" stroke="#14a8a0" stroke-opacity="0.18" stroke-width="0.3"/>
<rect x="349.15" y="164.76" width="26.20" height="3.4" rx="1.1" fill="url(#g4)" stroke="#14a8a0" stroke-opacity="0.3" stroke-width="0.3"/>
<rect x="377.40" y="165.61" width="26.70" height="5.5" fill="#fff"/>
<rect x="377.60" y="166.11" width="26.30" height="3.6" rx="1.0" fill="url(#h6)" stroke="#b4aed8" stroke-opacity="0.18" stroke-width="0.3"/>
<rect x="377.55" y="164.76" width="26.40" height="3.4" rx="1.1" fill="url(#g6)" stroke="#b4aed8" stroke-opacity="0.3" stroke-width="0.3"/>
<rect x="406.30" y="165.61" width="3.70" height="5.5" fill="#fff"/>
<rect x="406.50" y="166.11" width="3.30" height="3.6" rx="1.0" fill="url(#h11)" stroke="#a3aa90" stroke-opacity="0.18" stroke-width="0.3"/>
<rect x="406.45" y="164.76" width="3.40" height="3.4" rx="1.1" fill="url(#g11)" stroke="#a3aa90" stroke-opacity="0.3" stroke-width="0.3"/>
<rect x="412.80" y="165.61" width="27.30" height="5.5" fill="#fff"/>
<rect x="413.00" y="166.11" width="26.90" height="3.6" rx="1.0" fill="url(#h1)" stroke="#55c040" stroke-opacity="0.18" stroke-width="0.3"/>
<rect x="412.95" y="164.76" width="27.00" height="3.4" rx="1.1" fill="url(#g1)" stroke="#55c040" stroke-opacity="0.3" stroke-width="0.3"/>
<rect x="441.00" y="165.61" width="3.60" height="5.5" fill="#fff"/>
<rect x="441.20" y="166.11" width="3.20" height="3.6" rx="1.0" fill="url(#h14)" stroke="#ffa2bb" stroke-opacity="0.18" stroke-width="0.3"/>
<rect x="441.15" y="164.76" width="3.30" height="3.4" rx="1.1" fill="url(#g14)" stroke="#ffa2bb" stroke-opacity="0.3" stroke-width="0.3"/>
<rect x="446.40" y="165.61" width="26.40" height="5.5" fill="#fff"/>
<rect x="446.60" y="166.11" width="26.00" height="3.6" rx="1.0" fill="url(#h2)" stroke="#ffd20f" stroke-opacity="0.18" stroke-width="0.3"/>
<rect x="446.55" y="164.76" width="26.10" height="3.4" rx="1.1" fill="url(#g2)" stroke="#ffd20f" stroke-opacity="0.3" stroke-width="0.3"/>
<rect x="476.40" y="165.61" width="3.60" height="5.5" fill="#fff"/>
<rect x="476.60" y="166.11" width="3.20" height="3.6" rx="1.0" fill="url(#h10)" stroke="#ffbf9c" stroke-opacity="0.18" stroke-width="0.3"/>
<rect x="476.55" y="164.76" width="3.30" height="3.4" rx="1.1" fill="url(#g10)" stroke="#ffbf9c" stroke-opacity="0.3" stroke-width="0.3"/>
<text class="ml" transform="translate(231.85 171.21) scale(0.85 1)">3</text>
<text class="ml" transform="translate(248.65 171.21) scale(0.85 1)">12</text>
<text class="ml" transform="translate(265.50 171.21) scale(0.85 1)">5</text>
<text class="ml" transform="translate(290.85 171.21) scale(0.85 1)">8</text>
<text class="ml" transform="translate(305.70 171.21) scale(0.85 1)">9</text>
<text class="ml" transform="translate(324.50 171.21) scale(0.85 1)">7</text>
<text class="ml" transform="translate(339.60 171.21) scale(0.85 1)">13</text>
<text class="ml" transform="translate(362.25 171.21) scale(0.85 1)">4</text>
<text class="ml" transform="translate(390.75 171.21) scale(0.85 1)">6</text>
<text class="ml" transform="translate(409.05 171.21) scale(0.85 1)">11</text>
<text class="ml" transform="translate(426.45 171.21) scale(0.85 1)">1</text>
<text class="ml" transform="translate(443.10 171.21) scale(0.85 1)">14</text>
<text class="ml" transform="translate(459.60 171.21) scale(0.85 1)">2</text>
<text class="ml" transform="translate(479.40 171.21) scale(0.85 1)">10</text>
<line x1="216.8" y1="181.03" x2="471.4" y2="181.03" stroke="#777" stroke-width="1.1"/>
<rect x="217.70" y="177.73" width="27.10" height="5.5" fill="#fff"/>
<rect x="217.90" y="178.23" width="26.70" height="3.6" rx="1.0" fill="url(#h3)" stroke="#ff6f8e" stroke-opacity="0.18" stroke-width="0.3"/>
<rect x="217.85" y="176.88" width="26.80" height="3.4" rx="1.1" fill="url(#g3)" stroke="#ff6f8e" stroke-opacity="0.3" stroke-width="0.3"/>
<rect x="246.10" y="177.73" width="3.90" height="5.5" fill="#fff"/>
<rect x="246.30" y="178.23" width="3.50" height="3.6" rx="1.0" fill="url(#h12)" stroke="#ff6a40" stroke-opacity="0.18" stroke-width="0.3"/>
<rect x="246.25" y="176.88" width="3.60" height="3.4" rx="1.1" fill="url(#g12)" stroke="#ff6a40" stroke-opacity="0.3" stroke-width="0.3"/>
<rect x="251.30" y="177.73" width="27.20" height="5.5" fill="#fff"/>
<rect x="251.50" y="178.23" width="26.80" height="3.6" rx="1.0" fill="url(#h5)" stroke="#ff2845" stroke-opacity="0.18" stroke-width="0.3"/>
<rect x="251.45" y="176.88" width="26.90" height="3.4" rx="1.1" fill="url(#g5)" stroke="#ff2845" stroke-opacity="0.3" stroke-width="0.3"/>
<rect x="281.60" y="177.73" width="15.60" height="5.5" fill="#fff"/>
<rect x="281.80" y="178.23" width="15.20" height="3.6" rx="1.0" fill="url(#h8)" stroke="#ffad2e" stroke-opacity="0.18" stroke-width="0.3"/>
<rect x="281.75" y="176.88" width="15.30" height="3.4" rx="1.1" fill="url(#g8)" stroke="#ffad2e" stroke-opacity="0.3" stroke-width="0.3"/>
<rect x="299.40" y="177.73" width="10.20" height="5.5" fill="#fff"/>
<rect x="299.60" y="178.23" width="9.80" height="3.6" rx="1.0" fill="url(#h9)" stroke="#8a66b8" stroke-opacity="0.18" stroke-width="0.3"/>
<rect x="299.55" y="176.88" width="9.90" height="3.4" rx="1.1" fill="url(#g9)" stroke="#8a66b8" stroke-opacity="0.3" stroke-width="0.3"/>
<rect x="312.20" y="177.73" width="22.00" height="5.5" fill="#fff"/>
<rect x="312.40" y="178.23" width="21.60" height="3.6" rx="1.0" fill="url(#h7)" stroke="#a8e495" stroke-opacity="0.18" stroke-width="0.3"/>
<rect x="312.35" y="176.88" width="21.70" height="3.4" rx="1.1" fill="url(#g7)" stroke="#a8e495" stroke-opacity="0.3" stroke-width="0.3"/>
<rect x="336.10" y="177.73" width="3.20" height="5.5" fill="#fff"/>
<rect x="336.30" y="178.23" width="2.80" height="3.6" rx="1.0" fill="url(#h13)" stroke="#2fcc99" stroke-opacity="0.18" stroke-width="0.3"/>
<rect x="336.25" y="176.88" width="2.90" height="3.4" rx="1.1" fill="url(#g13)" stroke="#2fcc99" stroke-opacity="0.3" stroke-width="0.3"/>
<rect x="340.80" y="177.73" width="27.30" height="5.5" fill="#fff"/>
<rect x="341.00" y="178.23" width="26.90" height="3.6" rx="1.0" fill="url(#h4)" stroke="#14a8a0" stroke-opacity="0.18" stroke-width="0.3"/>
<rect x="340.95" y="176.88" width="27.00" height="3.4" rx="1.1" fill="url(#g4)" stroke="#14a8a0" stroke-opacity="0.3" stroke-width="0.3"/>
<rect x="369.90" y="177.73" width="26.70" height="5.5" fill="#fff"/>
<rect x="370.10" y="178.23" width="26.30" height="3.6" rx="1.0" fill="url(#h6)" stroke="#b4aed8" stroke-opacity="0.18" stroke-width="0.3"/>
<rect x="370.05" y="176.88" width="26.40" height="3.4" rx="1.1" fill="url(#g6)" stroke="#b4aed8" stroke-opacity="0.3" stroke-width="0.3"/>
<rect x="398.50" y="177.73" width="3.70" height="5.5" fill="#fff"/>
<rect x="398.70" y="178.23" width="3.30" height="3.6" rx="1.0" fill="url(#h11)" stroke="#a3aa90" stroke-opacity="0.18" stroke-width="0.3"/>
<rect x="398.65" y="176.88" width="3.40" height="3.4" rx="1.1" fill="url(#g11)" stroke="#a3aa90" stroke-opacity="0.3" stroke-width="0.3"/>
<rect x="405.60" y="177.73" width="27.10" height="5.5" fill="#fff"/>
<rect x="405.80" y="178.23" width="26.70" height="3.6" rx="1.0" fill="url(#h1)" stroke="#55c040" stroke-opacity="0.18" stroke-width="0.3"/>
<rect x="405.75" y="176.88" width="26.80" height="3.4" rx="1.1" fill="url(#g1)" stroke="#55c040" stroke-opacity="0.3" stroke-width="0.3"/>
<rect x="433.80" y="177.73" width="3.60" height="5.5" fill="#fff"/>
<rect x="434.00" y="178.23" width="3.20" height="3.6" rx="1.0" fill="url(#h14)" stroke="#ffa2bb" stroke-opacity="0.18" stroke-width="0.3"/>
<rect x="433.95" y="176.88" width="3.30" height="3.4" rx="1.1" fill="url(#g14)" stroke="#ffa2bb" stroke-opacity="0.3" stroke-width="0.3"/>
<rect x="438.90" y="177.73" width="26.60" height="5.5" fill="#fff"/>
<rect x="439.10" y="178.23" width="26.20" height="3.6" rx="1.0" fill="url(#h2)" stroke="#ffd20f" stroke-opacity="0.18" stroke-width="0.3"/>
<rect x="439.05" y="176.88" width="26.30" height="3.4" rx="1.1" fill="url(#g2)" stroke="#ffd20f" stroke-opacity="0.3" stroke-width="0.3"/>
<rect x="467.80" y="177.73" width="3.60" height="5.5" fill="#fff"/>
<rect x="468.00" y="178.23" width="3.20" height="3.6" rx="1.0" fill="url(#h10)" stroke="#ffbf9c" stroke-opacity="0.18" stroke-width="0.3"/>
<rect x="467.95" y="176.88" width="3.30" height="3.4" rx="1.1" fill="url(#g10)" stroke="#ffbf9c" stroke-opacity="0.3" stroke-width="0.3"/>
<text class="ml" transform="translate(231.25 183.33) scale(0.85 1)">3</text>
<text class="ml" transform="translate(248.05 183.33) scale(0.85 1)">12</text>
<text class="ml" transform="translate(264.90 183.33) scale(0.85 1)">5</text>
<text class="ml" transform="translate(289.40 183.33) scale(0.85 1)">8</text>
<text class="ml" transform="translate(304.50 183.33) scale(0.85 1)">9</text>
<text class="ml" transform="translate(323.20 183.33) scale(0.85 1)">7</text>
<text class="ml" transform="translate(336.80 183.33) scale(0.85 1)">13</text>
<text class="ml" transform="translate(354.45 183.33) scale(0.85 1)">4</text>
<text class="ml" transform="translate(383.25 183.33) scale(0.85 1)">6</text>
<text class="ml" transform="translate(401.25 183.33) scale(0.85 1)">11</text>
<text class="ml" transform="translate(419.15 183.33) scale(0.85 1)">1</text>
<text class="ml" transform="translate(435.90 183.33) scale(0.85 1)">14</text>
<text class="ml" transform="translate(452.20 183.33) scale(0.85 1)">2</text>
<text class="ml" transform="translate(470.80 183.33) scale(0.85 1)">10</text>
<line x1="216.8" y1="193.15" x2="471.4" y2="193.15" stroke="#777" stroke-width="1.1"/>
<rect x="217.70" y="189.85" width="27.10" height="5.5" fill="#fff"/>
<rect x="217.90" y="190.35" width="26.70" height="3.6" rx="1.0" fill="url(#h3)" stroke="#ff6f8e" stroke-opacity="0.18" stroke-width="0.3"/>
<rect x="217.85" y="189.00" width="26.80" height="3.4" rx="1.1" fill="url(#g3)" stroke="#ff6f8e" stroke-opacity="0.3" stroke-width="0.3"/>
<rect x="246.10" y="189.85" width="3.90" height="5.5" fill="#fff"/>
<rect x="246.30" y="190.35" width="3.50" height="3.6" rx="1.0" fill="url(#h12)" stroke="#ff6a40" stroke-opacity="0.18" stroke-width="0.3"/>
<rect x="246.25" y="189.00" width="3.60" height="3.4" rx="1.1" fill="url(#g12)" stroke="#ff6a40" stroke-opacity="0.3" stroke-width="0.3"/>
<rect x="251.30" y="189.85" width="27.20" height="5.5" fill="#fff"/>
<rect x="251.50" y="190.35" width="26.80" height="3.6" rx="1.0" fill="url(#h5)" stroke="#ff2845" stroke-opacity="0.18" stroke-width="0.3"/>
<rect x="251.45" y="189.00" width="26.90" height="3.4" rx="1.1" fill="url(#g5)" stroke="#ff2845" stroke-opacity="0.3" stroke-width="0.3"/>
<rect x="281.60" y="189.85" width="15.60" height="5.5" fill="#fff"/>
<rect x="281.80" y="190.35" width="15.20" height="3.6" rx="1.0" fill="url(#h8)" stroke="#ffad2e" stroke-opacity="0.18" stroke-width="0.3"/>
<rect x="281.75" y="189.00" width="15.30" height="3.4" rx="1.1" fill="url(#g8)" stroke="#ffad2e" stroke-opacity="0.3" stroke-width="0.3"/>
<rect x="299.40" y="189.85" width="10.20" height="5.5" fill="#fff"/>
<rect x="299.60" y="190.35" width="9.80" height="3.6" rx="1.0" fill="url(#h9)" stroke="#8a66b8" stroke-opacity="0.18" stroke-width="0.3"/>
<rect x="299.55" y="189.00" width="9.90" height="3.4" rx="1.1" fill="url(#g9)" stroke="#8a66b8" stroke-opacity="0.3" stroke-width="0.3"/>
<rect x="312.20" y="189.85" width="22.00" height="5.5" fill="#fff"/>
<rect x="312.40" y="190.35" width="21.60" height="3.6" rx="1.0" fill="url(#h7)" stroke="#a8e495" stroke-opacity="0.18" stroke-width="0.3"/>
<rect x="312.35" y="189.00" width="21.70" height="3.4" rx="1.1" fill="url(#g7)" stroke="#a8e495" stroke-opacity="0.3" stroke-width="0.3"/>
<rect x="336.10" y="189.85" width="3.20" height="5.5" fill="#fff"/>
<rect x="336.30" y="190.35" width="2.80" height="3.6" rx="1.0" fill="url(#h13)" stroke="#2fcc99" stroke-opacity="0.18" stroke-width="0.3"/>
<rect x="336.25" y="189.00" width="2.90" height="3.4" rx="1.1" fill="url(#g13)" stroke="#2fcc99" stroke-opacity="0.3" stroke-width="0.3"/>
<rect x="340.80" y="189.85" width="27.30" height="5.5" fill="#fff"/>
<rect x="341.00" y="190.35" width="26.90" height="3.6" rx="1.0" fill="url(#h4)" stroke="#14a8a0" stroke-opacity="0.18" stroke-width="0.3"/>
<rect x="340.95" y="189.00" width="27.00" height="3.4" rx="1.1" fill="url(#g4)" stroke="#14a8a0" stroke-opacity="0.3" stroke-width="0.3"/>
<rect x="369.90" y="189.85" width="26.70" height="5.5" fill="#fff"/>
<rect x="370.10" y="190.35" width="26.30" height="3.6" rx="1.0" fill="url(#h6)" stroke="#b4aed8" stroke-opacity="0.18" stroke-width="0.3"/>
<rect x="370.05" y="189.00" width="26.40" height="3.4" rx="1.1" fill="url(#g6)" stroke="#b4aed8" stroke-opacity="0.3" stroke-width="0.3"/>
<rect x="398.50" y="189.85" width="3.70" height="5.5" fill="#fff"/>
<rect x="398.70" y="190.35" width="3.30" height="3.6" rx="1.0" fill="url(#h11)" stroke="#a3aa90" stroke-opacity="0.18" stroke-width="0.3"/>
<rect x="398.65" y="189.00" width="3.40" height="3.4" rx="1.1" fill="url(#g11)" stroke="#a3aa90" stroke-opacity="0.3" stroke-width="0.3"/>
<rect x="405.60" y="189.85" width="27.10" height="5.5" fill="#fff"/>
<rect x="405.80" y="190.35" width="26.70" height="3.6" rx="1.0" fill="url(#h1)" stroke="#55c040" stroke-opacity="0.18" stroke-width="0.3"/>
<rect x="405.75" y="189.00" width="26.80" height="3.4" rx="1.1" fill="url(#g1)" stroke="#55c040" stroke-opacity="0.3" stroke-width="0.3"/>
<rect x="433.80" y="189.85" width="3.60" height="5.5" fill="#fff"/>
<rect x="434.00" y="190.35" width="3.20" height="3.6" rx="1.0" fill="url(#h14)" stroke="#ffa2bb" stroke-opacity="0.18" stroke-width="0.3"/>
<rect x="433.95" y="189.00" width="3.30" height="3.4" rx="1.1" fill="url(#g14)" stroke="#ffa2bb" stroke-opacity="0.3" stroke-width="0.3"/>
<rect x="438.90" y="189.85" width="26.60" height="5.5" fill="#fff"/>
<rect x="439.10" y="190.35" width="26.20" height="3.6" rx="1.0" fill="url(#h2)" stroke="#ffd20f" stroke-opacity="0.18" stroke-width="0.3"/>
<rect x="439.05" y="189.00" width="26.30" height="3.4" rx="1.1" fill="url(#g2)" stroke="#ffd20f" stroke-opacity="0.3" stroke-width="0.3"/>
<rect x="467.80" y="189.85" width="3.60" height="5.5" fill="#fff"/>
<rect x="468.00" y="190.35" width="3.20" height="3.6" rx="1.0" fill="url(#h10)" stroke="#ffbf9c" stroke-opacity="0.18" stroke-width="0.3"/>
<rect x="467.95" y="189.00" width="3.30" height="3.4" rx="1.1" fill="url(#g10)" stroke="#ffbf9c" stroke-opacity="0.3" stroke-width="0.3"/>
<text class="ml" transform="translate(231.25 195.45) scale(0.85 1)">3</text>
<text class="ml" transform="translate(248.05 195.45) scale(0.85 1)">12</text>
<text class="ml" transform="translate(264.90 195.45) scale(0.85 1)">5</text>
<text class="ml" transform="translate(289.40 195.45) scale(0.85 1)">8</text>
<text class="ml" transform="translate(304.50 195.45) scale(0.85 1)">9</text>
<text class="ml" transform="translate(323.20 195.45) scale(0.85 1)">7</text>
<text class="ml" transform="translate(336.80 195.45) scale(0.85 1)">13</text>
<text class="ml" transform="translate(354.45 195.45) scale(0.85 1)">4</text>
<text class="ml" transform="translate(383.25 195.45) scale(0.85 1)">6</text>
<text class="ml" transform="translate(401.25 195.45) scale(0.85 1)">11</text>
<text class="ml" transform="translate(419.15 195.45) scale(0.85 1)">1</text>
<text class="ml" transform="translate(435.90 195.45) scale(0.85 1)">14</text>
<text class="ml" transform="translate(452.20 195.45) scale(0.85 1)">2</text>
<text class="ml" transform="translate(470.80 195.45) scale(0.85 1)">10</text>
<line x1="216.8" y1="205.27" x2="471.4" y2="205.27" stroke="#777" stroke-width="1.1"/>
<rect x="217.70" y="201.97" width="27.10" height="5.5" fill="#fff"/>
<rect x="217.90" y="202.47" width="26.70" height="3.6" rx="1.0" fill="url(#h3)" stroke="#ff6f8e" stroke-opacity="0.18" stroke-width="0.3"/>
<rect x="217.85" y="201.12" width="26.80" height="3.4" rx="1.1" fill="url(#g3)" stroke="#ff6f8e" stroke-opacity="0.3" stroke-width="0.3"/>
<rect x="246.10" y="201.97" width="3.90" height="5.5" fill="#fff"/>
<rect x="246.30" y="202.47" width="3.50" height="3.6" rx="1.0" fill="url(#h12)" stroke="#ff6a40" stroke-opacity="0.18" stroke-width="0.3"/>
<rect x="246.25" y="201.12" width="3.60" height="3.4" rx="1.1" fill="url(#g12)" stroke="#ff6a40" stroke-opacity="0.3" stroke-width="0.3"/>
<rect x="251.30" y="201.97" width="27.20" height="5.5" fill="#fff"/>
<rect x="251.50" y="202.47" width="26.80" height="3.6" rx="1.0" fill="url(#h5)" stroke="#ff2845" stroke-opacity="0.18" stroke-width="0.3"/>
<rect x="251.45" y="201.12" width="26.90" height="3.4" rx="1.1" fill="url(#g5)" stroke="#ff2845" stroke-opacity="0.3" stroke-width="0.3"/>
<rect x="281.60" y="201.97" width="15.60" height="5.5" fill="#fff"/>
<rect x="281.80" y="202.47" width="15.20" height="3.6" rx="1.0" fill="url(#h8)" stroke="#ffad2e" stroke-opacity="0.18" stroke-width="0.3"/>
<rect x="281.75" y="201.12" width="15.30" height="3.4" rx="1.1" fill="url(#g8)" stroke="#ffad2e" stroke-opacity="0.3" stroke-width="0.3"/>
<rect x="299.40" y="201.97" width="10.20" height="5.5" fill="#fff"/>
<rect x="299.60" y="202.47" width="9.80" height="3.6" rx="1.0" fill="url(#h9)" stroke="#8a66b8" stroke-opacity="0.18" stroke-width="0.3"/>
<rect x="299.55" y="201.12" width="9.90" height="3.4" rx="1.1" fill="url(#g9)" stroke="#8a66b8" stroke-opacity="0.3" stroke-width="0.3"/>
<rect x="312.20" y="201.97" width="22.00" height="5.5" fill="#fff"/>
<rect x="312.40" y="202.47" width="21.60" height="3.6" rx="1.0" fill="url(#h7)" stroke="#a8e495" stroke-opacity="0.18" stroke-width="0.3"/>
<rect x="312.35" y="201.12" width="21.70" height="3.4" rx="1.1" fill="url(#g7)" stroke="#a8e495" stroke-opacity="0.3" stroke-width="0.3"/>
<rect x="336.10" y="201.97" width="3.20" height="5.5" fill="#fff"/>
<rect x="336.30" y="202.47" width="2.80" height="3.6" rx="1.0" fill="url(#h13)" stroke="#2fcc99" stroke-opacity="0.18" stroke-width="0.3"/>
<rect x="336.25" y="201.12" width="2.90" height="3.4" rx="1.1" fill="url(#g13)" stroke="#2fcc99" stroke-opacity="0.3" stroke-width="0.3"/>
<rect x="340.80" y="201.97" width="27.30" height="5.5" fill="#fff"/>
<rect x="341.00" y="202.47" width="26.90" height="3.6" rx="1.0" fill="url(#h4)" stroke="#14a8a0" stroke-opacity="0.18" stroke-width="0.3"/>
<rect x="340.95" y="201.12" width="27.00" height="3.4" rx="1.1" fill="url(#g4)" stroke="#14a8a0" stroke-opacity="0.3" stroke-width="0.3"/>
<rect x="369.90" y="201.97" width="26.70" height="5.5" fill="#fff"/>
<rect x="370.10" y="202.47" width="26.30" height="3.6" rx="1.0" fill="url(#h6)" stroke="#b4aed8" stroke-opacity="0.18" stroke-width="0.3"/>
<rect x="370.05" y="201.12" width="26.40" height="3.4" rx="1.1" fill="url(#g6)" stroke="#b4aed8" stroke-opacity="0.3" stroke-width="0.3"/>
<rect x="398.50" y="201.97" width="3.70" height="5.5" fill="#fff"/>
<rect x="398.70" y="202.47" width="3.30" height="3.6" rx="1.0" fill="url(#h11)" stroke="#a3aa90" stroke-opacity="0.18" stroke-width="0.3"/>
<rect x="398.65" y="201.12" width="3.40" height="3.4" rx="1.1" fill="url(#g11)" stroke="#a3aa90" stroke-opacity="0.3" stroke-width="0.3"/>
<rect x="405.60" y="201.97" width="27.10" height="5.5" fill="#fff"/>
<rect x="405.80" y="202.47" width="26.70" height="3.6" rx="1.0" fill="url(#h1)" stroke="#55c040" stroke-opacity="0.18" stroke-width="0.3"/>
<rect x="405.75" y="201.12" width="26.80" height="3.4" rx="1.1" fill="url(#g1)" stroke="#55c040" stroke-opacity="0.3" stroke-width="0.3"/>
<rect x="433.80" y="201.97" width="3.60" height="5.5" fill="#fff"/>
<rect x="434.00" y="202.47" width="3.20" height="3.6" rx="1.0" fill="url(#h14)" stroke="#ffa2bb" stroke-opacity="0.18" stroke-width="0.3"/>
<rect x="433.95" y="201.12" width="3.30" height="3.4" rx="1.1" fill="url(#g14)" stroke="#ffa2bb" stroke-opacity="0.3" stroke-width="0.3"/>
<rect x="438.90" y="201.97" width="26.60" height="5.5" fill="#fff"/>
<rect x="439.10" y="202.47" width="26.20" height="3.6" rx="1.0" fill="url(#h2)" stroke="#ffd20f" stroke-opacity="0.18" stroke-width="0.3"/>
<rect x="439.05" y="201.12" width="26.30" height="3.4" rx="1.1" fill="url(#g2)" stroke="#ffd20f" stroke-opacity="0.3" stroke-width="0.3"/>
<rect x="467.80" y="201.97" width="3.60" height="5.5" fill="#fff"/>
<rect x="468.00" y="202.47" width="3.20" height="3.6" rx="1.0" fill="url(#h10)" stroke="#ffbf9c" stroke-opacity="0.18" stroke-width="0.3"/>
<rect x="467.95" y="201.12" width="3.30" height="3.4" rx="1.1" fill="url(#g10)" stroke="#ffbf9c" stroke-opacity="0.3" stroke-width="0.3"/>
<text class="ml" transform="translate(231.25 207.57) scale(0.85 1)">3</text>
<text class="ml" transform="translate(248.05 207.57) scale(0.85 1)">12</text>
<text class="ml" transform="translate(264.90 207.57) scale(0.85 1)">5</text>
<text class="ml" transform="translate(289.40 207.57) scale(0.85 1)">8</text>
<text class="ml" transform="translate(304.50 207.57) scale(0.85 1)">9</text>
<text class="ml" transform="translate(323.20 207.57) scale(0.85 1)">7</text>
<text class="ml" transform="translate(336.80 207.57) scale(0.85 1)">13</text>
<text class="ml" transform="translate(354.45 207.57) scale(0.85 1)">4</text>
<text class="ml" transform="translate(383.25 207.57) scale(0.85 1)">6</text>
<text class="ml" transform="translate(401.25 207.57) scale(0.85 1)">11</text>
<text class="ml" transform="translate(419.15 207.57) scale(0.85 1)">1</text>
<text class="ml" transform="translate(435.90 207.57) scale(0.85 1)">14</text>
<text class="ml" transform="translate(452.20 207.57) scale(0.85 1)">2</text>
<text class="ml" transform="translate(470.80 207.57) scale(0.85 1)">10</text>
<line x1="216.8" y1="217.39" x2="471.4" y2="217.39" stroke="#777" stroke-width="1.1"/>
<rect x="217.70" y="214.09" width="27.10" height="5.5" fill="#fff"/>
<rect x="217.90" y="214.59" width="26.70" height="3.6" rx="1.0" fill="url(#h3)" stroke="#ff6f8e" stroke-opacity="0.18" stroke-width="0.3"/>
<rect x="217.85" y="213.24" width="26.80" height="3.4" rx="1.1" fill="url(#g3)" stroke="#ff6f8e" stroke-opacity="0.3" stroke-width="0.3"/>
<rect x="246.10" y="214.09" width="3.90" height="5.5" fill="#fff"/>
<rect x="246.30" y="214.59" width="3.50" height="3.6" rx="1.0" fill="url(#h12)" stroke="#ff6a40" stroke-opacity="0.18" stroke-width="0.3"/>
<rect x="246.25" y="213.24" width="3.60" height="3.4" rx="1.1" fill="url(#g12)" stroke="#ff6a40" stroke-opacity="0.3" stroke-width="0.3"/>
<rect x="251.30" y="214.09" width="27.20" height="5.5" fill="#fff"/>
<rect x="251.50" y="214.59" width="26.80" height="3.6" rx="1.0" fill="url(#h5)" stroke="#ff2845" stroke-opacity="0.18" stroke-width="0.3"/>
<rect x="251.45" y="213.24" width="26.90" height="3.4" rx="1.1" fill="url(#g5)" stroke="#ff2845" stroke-opacity="0.3" stroke-width="0.3"/>
<rect x="281.60" y="214.09" width="15.60" height="5.5" fill="#fff"/>
<rect x="281.80" y="214.59" width="15.20" height="3.6" rx="1.0" fill="url(#h8)" stroke="#ffad2e" stroke-opacity="0.18" stroke-width="0.3"/>
<rect x="281.75" y="213.24" width="15.30" height="3.4" rx="1.1" fill="url(#g8)" stroke="#ffad2e" stroke-opacity="0.3" stroke-width="0.3"/>
<rect x="299.40" y="214.09" width="10.20" height="5.5" fill="#fff"/>
<rect x="299.60" y="214.59" width="9.80" height="3.6" rx="1.0" fill="url(#h9)" stroke="#8a66b8" stroke-opacity="0.18" stroke-width="0.3"/>
<rect x="299.55" y="213.24" width="9.90" height="3.4" rx="1.1" fill="url(#g9)" stroke="#8a66b8" stroke-opacity="0.3" stroke-width="0.3"/>
<rect x="312.20" y="214.09" width="22.00" height="5.5" fill="#fff"/>
<rect x="312.40" y="214.59" width="21.60" height="3.6" rx="1.0" fill="url(#h7)" stroke="#a8e495" stroke-opacity="0.18" stroke-width="0.3"/>
<rect x="312.35" y="213.24" width="21.70" height="3.4" rx="1.1" fill="url(#g7)" stroke="#a8e495" stroke-opacity="0.3" stroke-width="0.3"/>
<rect x="336.10" y="214.09" width="3.20" height="5.5" fill="#fff"/>
<rect x="336.30" y="214.59" width="2.80" height="3.6" rx="1.0" fill="url(#h13)" stroke="#2fcc99" stroke-opacity="0.18" stroke-width="0.3"/>
<rect x="336.25" y="213.24" width="2.90" height="3.4" rx="1.1" fill="url(#g13)" stroke="#2fcc99" stroke-opacity="0.3" stroke-width="0.3"/>
<rect x="340.80" y="214.09" width="27.30" height="5.5" fill="#fff"/>
<rect x="341.00" y="214.59" width="26.90" height="3.6" rx="1.0" fill="url(#h4)" stroke="#14a8a0" stroke-opacity="0.18" stroke-width="0.3"/>
<rect x="340.95" y="213.24" width="27.00" height="3.4" rx="1.1" fill="url(#g4)" stroke="#14a8a0" stroke-opacity="0.3" stroke-width="0.3"/>
<rect x="369.90" y="214.09" width="26.70" height="5.5" fill="#fff"/>
<rect x="370.10" y="214.59" width="26.30" height="3.6" rx="1.0" fill="url(#h6)" stroke="#b4aed8" stroke-opacity="0.18" stroke-width="0.3"/>
<rect x="370.05" y="213.24" width="26.40" height="3.4" rx="1.1" fill="url(#g6)" stroke="#b4aed8" stroke-opacity="0.3" stroke-width="0.3"/>
<rect x="398.50" y="214.09" width="3.70" height="5.5" fill="#fff"/>
<rect x="398.70" y="214.59" width="3.30" height="3.6" rx="1.0" fill="url(#h11)" stroke="#a3aa90" stroke-opacity="0.18" stroke-width="0.3"/>
<rect x="398.65" y="213.24" width="3.40" height="3.4" rx="1.1" fill="url(#g11)" stroke="#a3aa90" stroke-opacity="0.3" stroke-width="0.3"/>
<rect x="405.60" y="214.09" width="27.10" height="5.5" fill="#fff"/>
<rect x="405.80" y="214.59" width="26.70" height="3.6" rx="1.0" fill="url(#h1)" stroke="#55c040" stroke-opacity="0.18" stroke-width="0.3"/>
<rect x="405.75" y="213.24" width="26.80" height="3.4" rx="1.1" fill="url(#g1)" stroke="#55c040" stroke-opacity="0.3" stroke-width="0.3"/>
<rect x="433.80" y="214.09" width="3.60" height="5.5" fill="#fff"/>
<rect x="434.00" y="214.59" width="3.20" height="3.6" rx="1.0" fill="url(#h14)" stroke="#ffa2bb" stroke-opacity="0.18" stroke-width="0.3"/>
<rect x="433.95" y="213.24" width="3.30" height="3.4" rx="1.1" fill="url(#g14)" stroke="#ffa2bb" stroke-opacity="0.3" stroke-width="0.3"/>
<rect x="438.90" y="214.09" width="26.60" height="5.5" fill="#fff"/>
<rect x="439.10" y="214.59" width="26.20" height="3.6" rx="1.0" fill="url(#h2)" stroke="#ffd20f" stroke-opacity="0.18" stroke-width="0.3"/>
<rect x="439.05" y="213.24" width="26.30" height="3.4" rx="1.1" fill="url(#g2)" stroke="#ffd20f" stroke-opacity="0.3" stroke-width="0.3"/>
<rect x="467.80" y="214.09" width="3.60" height="5.5" fill="#fff"/>
<rect x="468.00" y="214.59" width="3.20" height="3.6" rx="1.0" fill="url(#h10)" stroke="#ffbf9c" stroke-opacity="0.18" stroke-width="0.3"/>
<rect x="467.95" y="213.24" width="3.30" height="3.4" rx="1.1" fill="url(#g10)" stroke="#ffbf9c" stroke-opacity="0.3" stroke-width="0.3"/>
<text class="ml" transform="translate(231.25 219.69) scale(0.85 1)">3</text>
<text class="ml" transform="translate(248.05 219.69) scale(0.85 1)">12</text>
<text class="ml" transform="translate(264.90 219.69) scale(0.85 1)">5</text>
<text class="ml" transform="translate(289.40 219.69) scale(0.85 1)">8</text>
<text class="ml" transform="translate(304.50 219.69) scale(0.85 1)">9</text>
<text class="ml" transform="translate(323.20 219.69) scale(0.85 1)">7</text>
<text class="ml" transform="translate(336.80 219.69) scale(0.85 1)">13</text>
<text class="ml" transform="translate(354.45 219.69) scale(0.85 1)">4</text>
<text class="ml" transform="translate(383.25 219.69) scale(0.85 1)">6</text>
<text class="ml" transform="translate(401.25 219.69) scale(0.85 1)">11</text>
<text class="ml" transform="translate(419.15 219.69) scale(0.85 1)">1</text>
<text class="ml" transform="translate(435.90 219.69) scale(0.85 1)">14</text>
<text class="ml" transform="translate(452.20 219.69) scale(0.85 1)">2</text>
<text class="ml" transform="translate(470.80 219.69) scale(0.85 1)">10</text>
<line x1="216.8" y1="229.51" x2="496.3" y2="229.51" stroke="#777" stroke-width="1.1"/>
<rect x="242.20" y="226.21" width="27.30" height="5.5" fill="#fff"/>
<rect x="242.40" y="226.71" width="26.90" height="3.6" rx="1.0" fill="url(#h3)" stroke="#ff6f8e" stroke-opacity="0.18" stroke-width="0.3"/>
<rect x="242.35" y="225.36" width="27.00" height="3.4" rx="1.1" fill="url(#g3)" stroke="#ff6f8e" stroke-opacity="0.3" stroke-width="0.3"/>
<rect x="270.50" y="226.21" width="4.00" height="5.5" fill="#fff"/>
<rect x="270.70" y="226.71" width="3.60" height="3.6" rx="1.0" fill="url(#h12)" stroke="#ff6a40" stroke-opacity="0.18" stroke-width="0.3"/>
<rect x="270.65" y="225.36" width="3.70" height="3.4" rx="1.1" fill="url(#g12)" stroke="#ff6a40" stroke-opacity="0.3" stroke-width="0.3"/>
<rect x="276.00" y="226.21" width="26.70" height="5.5" fill="#fff"/>
<rect x="276.20" y="226.71" width="26.30" height="3.6" rx="1.0" fill="url(#h5)" stroke="#ff2845" stroke-opacity="0.18" stroke-width="0.3"/>
<rect x="276.15" y="225.36" width="26.40" height="3.4" rx="1.1" fill="url(#g5)" stroke="#ff2845" stroke-opacity="0.3" stroke-width="0.3"/>
<rect x="306.00" y="226.21" width="15.30" height="5.5" fill="#fff"/>
<rect x="306.20" y="226.71" width="14.90" height="3.6" rx="1.0" fill="url(#h8)" stroke="#ffad2e" stroke-opacity="0.18" stroke-width="0.3"/>
<rect x="306.15" y="225.36" width="15.00" height="3.4" rx="1.1" fill="url(#g8)" stroke="#ffad2e" stroke-opacity="0.3" stroke-width="0.3"/>
<rect x="324.00" y="226.21" width="10.00" height="5.5" fill="#fff"/>
<rect x="324.20" y="226.71" width="9.60" height="3.6" rx="1.0" fill="url(#h9)" stroke="#8a66b8" stroke-opacity="0.18" stroke-width="0.3"/>
<rect x="324.15" y="225.36" width="9.70" height="3.4" rx="1.1" fill="url(#g9)" stroke="#8a66b8" stroke-opacity="0.3" stroke-width="0.3"/>
<rect x="336.80" y="226.21" width="21.70" height="5.5" fill="#fff"/>
<rect x="337.00" y="226.71" width="21.30" height="3.6" rx="1.0" fill="url(#h7)" stroke="#a8e495" stroke-opacity="0.18" stroke-width="0.3"/>
<rect x="336.95" y="225.36" width="21.40" height="3.4" rx="1.1" fill="url(#g7)" stroke="#a8e495" stroke-opacity="0.3" stroke-width="0.3"/>
<rect x="360.50" y="226.21" width="3.50" height="5.5" fill="#fff"/>
<rect x="360.70" y="226.71" width="3.10" height="3.6" rx="1.0" fill="url(#h13)" stroke="#2fcc99" stroke-opacity="0.18" stroke-width="0.3"/>
<rect x="360.65" y="225.36" width="3.20" height="3.4" rx="1.1" fill="url(#g13)" stroke="#2fcc99" stroke-opacity="0.3" stroke-width="0.3"/>
<rect x="365.40" y="226.21" width="27.20" height="5.5" fill="#fff"/>
<rect x="365.60" y="226.71" width="26.80" height="3.6" rx="1.0" fill="url(#h4)" stroke="#14a8a0" stroke-opacity="0.18" stroke-width="0.3"/>
<rect x="365.55" y="225.36" width="26.90" height="3.4" rx="1.1" fill="url(#g4)" stroke="#14a8a0" stroke-opacity="0.3" stroke-width="0.3"/>
<rect x="394.50" y="226.21" width="27.30" height="5.5" fill="#fff"/>
<rect x="394.70" y="226.71" width="26.90" height="3.6" rx="1.0" fill="url(#h6)" stroke="#b4aed8" stroke-opacity="0.18" stroke-width="0.3"/>
<rect x="394.65" y="225.36" width="27.00" height="3.4" rx="1.1" fill="url(#g6)" stroke="#b4aed8" stroke-opacity="0.3" stroke-width="0.3"/>
<rect x="423.20" y="226.21" width="3.80" height="5.5" fill="#fff"/>
<rect x="423.40" y="226.71" width="3.40" height="3.6" rx="1.0" fill="url(#h11)" stroke="#a3aa90" stroke-opacity="0.18" stroke-width="0.3"/>
<rect x="423.35" y="225.36" width="3.50" height="3.4" rx="1.1" fill="url(#g11)" stroke="#a3aa90" stroke-opacity="0.3" stroke-width="0.3"/>
<rect x="430.00" y="226.21" width="27.30" height="5.5" fill="#fff"/>
<rect x="430.20" y="226.71" width="26.90" height="3.6" rx="1.0" fill="url(#h1)" stroke="#55c040" stroke-opacity="0.18" stroke-width="0.3"/>
<rect x="430.15" y="225.36" width="27.00" height="3.4" rx="1.1" fill="url(#g1)" stroke="#55c040" stroke-opacity="0.3" stroke-width="0.3"/>
<rect x="458.60" y="226.21" width="3.40" height="5.5" fill="#fff"/>
<rect x="458.80" y="226.71" width="3.00" height="3.6" rx="1.0" fill="url(#h14)" stroke="#ffa2bb" stroke-opacity="0.18" stroke-width="0.3"/>
<rect x="458.75" y="225.36" width="3.10" height="3.4" rx="1.1" fill="url(#g14)" stroke="#ffa2bb" stroke-opacity="0.3" stroke-width="0.3"/>
<rect x="463.50" y="226.21" width="26.50" height="5.5" fill="#fff"/>
<rect x="463.70" y="226.71" width="26.10" height="3.6" rx="1.0" fill="url(#h2)" stroke="#ffd20f" stroke-opacity="0.18" stroke-width="0.3"/>
<rect x="463.65" y="225.36" width="26.20" height="3.4" rx="1.1" fill="url(#g2)" stroke="#ffd20f" stroke-opacity="0.3" stroke-width="0.3"/>
<rect x="492.70" y="226.21" width="3.60" height="5.5" fill="#fff"/>
<rect x="492.90" y="226.71" width="3.20" height="3.6" rx="1.0" fill="url(#h10)" stroke="#ffbf9c" stroke-opacity="0.18" stroke-width="0.3"/>
<rect x="492.85" y="225.36" width="3.30" height="3.4" rx="1.1" fill="url(#g10)" stroke="#ffbf9c" stroke-opacity="0.3" stroke-width="0.3"/>
<text class="ml" transform="translate(255.85 231.81) scale(0.85 1)">3</text>
<text class="ml" transform="translate(272.50 231.81) scale(0.85 1)">12</text>
<text class="ml" transform="translate(289.35 231.81) scale(0.85 1)">5</text>
<text class="ml" transform="translate(313.65 231.81) scale(0.85 1)">8</text>
<text class="ml" transform="translate(329.00 231.81) scale(0.85 1)">9</text>
<text class="ml" transform="translate(347.65 231.81) scale(0.85 1)">7</text>
<text class="ml" transform="translate(361.35 231.81) scale(0.85 1)">13</text>
<text class="ml" transform="translate(379.00 231.81) scale(0.85 1)">4</text>
<text class="ml" transform="translate(408.15 231.81) scale(0.85 1)">6</text>
<text class="ml" transform="translate(426.00 231.81) scale(0.85 1)">11</text>
<text class="ml" transform="translate(443.65 231.81) scale(0.85 1)">1</text>
<text class="ml" transform="translate(460.60 231.81) scale(0.85 1)">14</text>
<text class="ml" transform="translate(476.75 231.81) scale(0.85 1)">2</text>
<text class="ml" transform="translate(495.70 231.81) scale(0.85 1)">10</text>
<line x1="216.8" y1="241.63" x2="489.0" y2="241.63" stroke="#777" stroke-width="1.1"/>
<rect x="217.70" y="238.33" width="27.10" height="5.5" fill="#fff"/>
<rect x="217.90" y="238.83" width="26.70" height="3.6" rx="1.0" fill="url(#h3)" stroke="#ff6f8e" stroke-opacity="0.18" stroke-width="0.3"/>
<rect x="217.85" y="237.48" width="26.80" height="3.4" rx="1.1" fill="url(#g3)" stroke="#ff6f8e" stroke-opacity="0.3" stroke-width="0.3"/>
<rect x="246.10" y="238.33" width="3.90" height="5.5" fill="#fff"/>
<rect x="246.30" y="238.83" width="3.50" height="3.6" rx="1.0" fill="url(#h12)" stroke="#ff6a40" stroke-opacity="0.18" stroke-width="0.3"/>
<rect x="246.25" y="237.48" width="3.60" height="3.4" rx="1.1" fill="url(#g12)" stroke="#ff6a40" stroke-opacity="0.3" stroke-width="0.3"/>
<rect x="251.30" y="238.33" width="27.20" height="5.5" fill="#fff"/>
<rect x="251.50" y="238.83" width="26.80" height="3.6" rx="1.0" fill="url(#h5)" stroke="#ff2845" stroke-opacity="0.18" stroke-width="0.3"/>
<rect x="251.45" y="237.48" width="26.90" height="3.4" rx="1.1" fill="url(#g5)" stroke="#ff2845" stroke-opacity="0.3" stroke-width="0.3"/>
<rect x="299.40" y="238.33" width="15.60" height="5.5" fill="#fff"/>
<rect x="299.60" y="238.83" width="15.20" height="3.6" rx="1.0" fill="url(#h8)" stroke="#ffad2e" stroke-opacity="0.18" stroke-width="0.3"/>
<rect x="299.55" y="237.48" width="15.30" height="3.4" rx="1.1" fill="url(#g8)" stroke="#ffad2e" stroke-opacity="0.3" stroke-width="0.3"/>
<rect x="316.90" y="238.33" width="10.40" height="5.5" fill="#fff"/>
<rect x="317.10" y="238.83" width="10.00" height="3.6" rx="1.0" fill="url(#h9)" stroke="#8a66b8" stroke-opacity="0.18" stroke-width="0.3"/>
<rect x="317.05" y="237.48" width="10.10" height="3.4" rx="1.1" fill="url(#g9)" stroke="#8a66b8" stroke-opacity="0.3" stroke-width="0.3"/>
<rect x="330.00" y="238.33" width="21.80" height="5.5" fill="#fff"/>
<rect x="330.20" y="238.83" width="21.40" height="3.6" rx="1.0" fill="url(#h7)" stroke="#a8e495" stroke-opacity="0.18" stroke-width="0.3"/>
<rect x="330.15" y="237.48" width="21.50" height="3.4" rx="1.1" fill="url(#g7)" stroke="#a8e495" stroke-opacity="0.3" stroke-width="0.3"/>
<rect x="353.20" y="238.33" width="3.80" height="5.5" fill="#fff"/>
<rect x="353.40" y="238.83" width="3.40" height="3.6" rx="1.0" fill="url(#h13)" stroke="#2fcc99" stroke-opacity="0.18" stroke-width="0.3"/>
<rect x="353.35" y="237.48" width="3.50" height="3.4" rx="1.1" fill="url(#g13)" stroke="#2fcc99" stroke-opacity="0.3" stroke-width="0.3"/>
<rect x="359.00" y="238.33" width="26.50" height="5.5" fill="#fff"/>
<rect x="359.20" y="238.83" width="26.10" height="3.6" rx="1.0" fill="url(#h4)" stroke="#14a8a0" stroke-opacity="0.18" stroke-width="0.3"/>
<rect x="359.15" y="237.48" width="26.20" height="3.4" rx="1.1" fill="url(#g4)" stroke="#14a8a0" stroke-opacity="0.3" stroke-width="0.3"/>
<rect x="387.70" y="238.33" width="26.80" height="5.5" fill="#fff"/>
<rect x="387.90" y="238.83" width="26.40" height="3.6" rx="1.0" fill="url(#h6)" stroke="#b4aed8" stroke-opacity="0.18" stroke-width="0.3"/>
<rect x="387.85" y="237.48" width="26.50" height="3.4" rx="1.1" fill="url(#g6)" stroke="#b4aed8" stroke-opacity="0.3" stroke-width="0.3"/>
<rect x="416.40" y="238.33" width="3.60" height="5.5" fill="#fff"/>
<rect x="416.60" y="238.83" width="3.20" height="3.6" rx="1.0" fill="url(#h11)" stroke="#a3aa90" stroke-opacity="0.18" stroke-width="0.3"/>
<rect x="416.55" y="237.48" width="3.30" height="3.4" rx="1.1" fill="url(#g11)" stroke="#a3aa90" stroke-opacity="0.3" stroke-width="0.3"/>
<rect x="423.20" y="238.33" width="26.80" height="5.5" fill="#fff"/>
<rect x="423.40" y="238.83" width="26.40" height="3.6" rx="1.0" fill="url(#h1)" stroke="#55c040" stroke-opacity="0.18" stroke-width="0.3"/>
<rect x="423.35" y="237.48" width="26.50" height="3.4" rx="1.1" fill="url(#g1)" stroke="#55c040" stroke-opacity="0.3" stroke-width="0.3"/>
<rect x="451.00" y="238.33" width="3.60" height="5.5" fill="#fff"/>
<rect x="451.20" y="238.83" width="3.20" height="3.6" rx="1.0" fill="url(#h14)" stroke="#ffa2bb" stroke-opacity="0.18" stroke-width="0.3"/>
<rect x="451.15" y="237.48" width="3.30" height="3.4" rx="1.1" fill="url(#g14)" stroke="#ffa2bb" stroke-opacity="0.3" stroke-width="0.3"/>
<rect x="456.40" y="238.33" width="26.20" height="5.5" fill="#fff"/>
<rect x="456.60" y="238.83" width="25.80" height="3.6" rx="1.0" fill="url(#h2)" stroke="#ffd20f" stroke-opacity="0.18" stroke-width="0.3"/>
<rect x="456.55" y="237.48" width="25.90" height="3.4" rx="1.1" fill="url(#g2)" stroke="#ffd20f" stroke-opacity="0.3" stroke-width="0.3"/>
<rect x="485.40" y="238.33" width="3.60" height="5.5" fill="#fff"/>
<rect x="485.60" y="238.83" width="3.20" height="3.6" rx="1.0" fill="url(#h10)" stroke="#ffbf9c" stroke-opacity="0.18" stroke-width="0.3"/>
<rect x="485.55" y="237.48" width="3.30" height="3.4" rx="1.1" fill="url(#g10)" stroke="#ffbf9c" stroke-opacity="0.3" stroke-width="0.3"/>
<text class="ml" transform="translate(231.25 243.93) scale(0.85 1)">3</text>
<text class="ml" transform="translate(248.05 243.93) scale(0.85 1)">12</text>
<text class="ml" transform="translate(264.90 243.93) scale(0.85 1)">5</text>
<text class="ml" transform="translate(307.20 243.93) scale(0.85 1)">8</text>
<text class="ml" transform="translate(322.10 243.93) scale(0.85 1)">9</text>
<text class="ml" transform="translate(340.90 243.93) scale(0.85 1)">7</text>
<text class="ml" transform="translate(354.20 243.93) scale(0.85 1)">13</text>
<text class="ml" transform="translate(372.25 243.93) scale(0.85 1)">4</text>
<text class="ml" transform="translate(401.10 243.93) scale(0.85 1)">6</text>
<text class="ml" transform="translate(419.10 243.93) scale(0.85 1)">11</text>
<text class="ml" transform="translate(436.60 243.93) scale(0.85 1)">1</text>
<text class="ml" transform="translate(453.10 243.93) scale(0.85 1)">14</text>
<text class="ml" transform="translate(469.50 243.93) scale(0.85 1)">2</text>
<text class="ml" transform="translate(488.40 243.93) scale(0.85 1)">10</text>
<line x1="216.8" y1="253.75" x2="471.4" y2="253.75" stroke="#777" stroke-width="1.1"/>
<rect x="217.70" y="250.45" width="27.10" height="5.5" fill="#fff"/>
<rect x="217.90" y="250.95" width="26.70" height="3.6" rx="1.0" fill="url(#h3)" stroke="#ff6f8e" stroke-opacity="0.18" stroke-width="0.3"/>
<rect x="217.85" y="249.60" width="26.80" height="3.4" rx="1.1" fill="url(#g3)" stroke="#ff6f8e" stroke-opacity="0.3" stroke-width="0.3"/>
<rect x="246.10" y="250.45" width="3.90" height="5.5" fill="#fff"/>
<rect x="246.30" y="250.95" width="3.50" height="3.6" rx="1.0" fill="url(#h12)" stroke="#ff6a40" stroke-opacity="0.18" stroke-width="0.3"/>
<rect x="246.25" y="249.60" width="3.60" height="3.4" rx="1.1" fill="url(#g12)" stroke="#ff6a40" stroke-opacity="0.3" stroke-width="0.3"/>
<rect x="251.30" y="250.45" width="27.20" height="5.5" fill="#fff"/>
<rect x="251.50" y="250.95" width="26.80" height="3.6" rx="1.0" fill="url(#h5)" stroke="#ff2845" stroke-opacity="0.18" stroke-width="0.3"/>
<rect x="251.45" y="249.60" width="26.90" height="3.4" rx="1.1" fill="url(#g5)" stroke="#ff2845" stroke-opacity="0.3" stroke-width="0.3"/>
<rect x="281.60" y="250.45" width="15.60" height="5.5" fill="#fff"/>
<rect x="281.80" y="250.95" width="15.20" height="3.6" rx="1.0" fill="url(#h8)" stroke="#ffad2e" stroke-opacity="0.18" stroke-width="0.3"/>
<rect x="281.75" y="249.60" width="15.30" height="3.4" rx="1.1" fill="url(#g8)" stroke="#ffad2e" stroke-opacity="0.3" stroke-width="0.3"/>
<rect x="299.40" y="250.45" width="10.20" height="5.5" fill="#fff"/>
<rect x="299.60" y="250.95" width="9.80" height="3.6" rx="1.0" fill="url(#h9)" stroke="#8a66b8" stroke-opacity="0.18" stroke-width="0.3"/>
<rect x="299.55" y="249.60" width="9.90" height="3.4" rx="1.1" fill="url(#g9)" stroke="#8a66b8" stroke-opacity="0.3" stroke-width="0.3"/>
<rect x="312.20" y="250.45" width="22.00" height="5.5" fill="#fff"/>
<rect x="312.40" y="250.95" width="21.60" height="3.6" rx="1.0" fill="url(#h7)" stroke="#a8e495" stroke-opacity="0.18" stroke-width="0.3"/>
<rect x="312.35" y="249.60" width="21.70" height="3.4" rx="1.1" fill="url(#g7)" stroke="#a8e495" stroke-opacity="0.3" stroke-width="0.3"/>
<rect x="336.10" y="250.45" width="3.20" height="5.5" fill="#fff"/>
<rect x="336.30" y="250.95" width="2.80" height="3.6" rx="1.0" fill="url(#h13)" stroke="#2fcc99" stroke-opacity="0.18" stroke-width="0.3"/>
<rect x="336.25" y="249.60" width="2.90" height="3.4" rx="1.1" fill="url(#g13)" stroke="#2fcc99" stroke-opacity="0.3" stroke-width="0.3"/>
<rect x="340.80" y="250.45" width="27.30" height="5.5" fill="#fff"/>
<rect x="341.00" y="250.95" width="26.90" height="3.6" rx="1.0" fill="url(#h4)" stroke="#14a8a0" stroke-opacity="0.18" stroke-width="0.3"/>
<rect x="340.95" y="249.60" width="27.00" height="3.4" rx="1.1" fill="url(#g4)" stroke="#14a8a0" stroke-opacity="0.3" stroke-width="0.3"/>
<rect x="369.90" y="250.45" width="26.70" height="5.5" fill="#fff"/>
<rect x="370.10" y="250.95" width="26.30" height="3.6" rx="1.0" fill="url(#h6)" stroke="#b4aed8" stroke-opacity="0.18" stroke-width="0.3"/>
<rect x="370.05" y="249.60" width="26.40" height="3.4" rx="1.1" fill="url(#g6)" stroke="#b4aed8" stroke-opacity="0.3" stroke-width="0.3"/>
<rect x="398.50" y="250.45" width="3.70" height="5.5" fill="#fff"/>
<rect x="398.70" y="250.95" width="3.30" height="3.6" rx="1.0" fill="url(#h11)" stroke="#a3aa90" stroke-opacity="0.18" stroke-width="0.3"/>
<rect x="398.65" y="249.60" width="3.40" height="3.4" rx="1.1" fill="url(#g11)" stroke="#a3aa90" stroke-opacity="0.3" stroke-width="0.3"/>
<rect x="405.60" y="250.45" width="27.10" height="5.5" fill="#fff"/>
<rect x="405.80" y="250.95" width="26.70" height="3.6" rx="1.0" fill="url(#h1)" stroke="#55c040" stroke-opacity="0.18" stroke-width="0.3"/>
<rect x="405.75" y="249.60" width="26.80" height="3.4" rx="1.1" fill="url(#g1)" stroke="#55c040" stroke-opacity="0.3" stroke-width="0.3"/>
<rect x="433.80" y="250.45" width="3.60" height="5.5" fill="#fff"/>
<rect x="434.00" y="250.95" width="3.20" height="3.6" rx="1.0" fill="url(#h14)" stroke="#ffa2bb" stroke-opacity="0.18" stroke-width="0.3"/>
<rect x="433.95" y="249.60" width="3.30" height="3.4" rx="1.1" fill="url(#g14)" stroke="#ffa2bb" stroke-opacity="0.3" stroke-width="0.3"/>
<rect x="438.90" y="250.45" width="26.60" height="5.5" fill="#fff"/>
<rect x="439.10" y="250.95" width="26.20" height="3.6" rx="1.0" fill="url(#h2)" stroke="#ffd20f" stroke-opacity="0.18" stroke-width="0.3"/>
<rect x="439.05" y="249.60" width="26.30" height="3.4" rx="1.1" fill="url(#g2)" stroke="#ffd20f" stroke-opacity="0.3" stroke-width="0.3"/>
<rect x="467.80" y="250.45" width="3.60" height="5.5" fill="#fff"/>
<rect x="468.00" y="250.95" width="3.20" height="3.6" rx="1.0" fill="url(#h10)" stroke="#ffbf9c" stroke-opacity="0.18" stroke-width="0.3"/>
<rect x="467.95" y="249.60" width="3.30" height="3.4" rx="1.1" fill="url(#g10)" stroke="#ffbf9c" stroke-opacity="0.3" stroke-width="0.3"/>
<text class="ml" transform="translate(231.25 256.05) scale(0.85 1)">3</text>
<text class="ml" transform="translate(248.05 256.05) scale(0.85 1)">12</text>
<text class="ml" transform="translate(264.90 256.05) scale(0.85 1)">5</text>
<text class="ml" transform="translate(289.40 256.05) scale(0.85 1)">8</text>
<text class="ml" transform="translate(304.50 256.05) scale(0.85 1)">9</text>
<text class="ml" transform="translate(323.20 256.05) scale(0.85 1)">7</text>
<text class="ml" transform="translate(336.80 256.05) scale(0.85 1)">13</text>
<text class="ml" transform="translate(354.45 256.05) scale(0.85 1)">4</text>
<text class="ml" transform="translate(383.25 256.05) scale(0.85 1)">6</text>
<text class="ml" transform="translate(401.25 256.05) scale(0.85 1)">11</text>
<text class="ml" transform="translate(419.15 256.05) scale(0.85 1)">1</text>
<text class="ml" transform="translate(435.90 256.05) scale(0.85 1)">14</text>
<text class="ml" transform="translate(452.20 256.05) scale(0.85 1)">2</text>
<text class="ml" transform="translate(470.80 256.05) scale(0.85 1)">10</text>
<line x1="216.8" y1="265.87" x2="471.4" y2="265.87" stroke="#777" stroke-width="1.1"/>
<rect x="217.70" y="262.57" width="27.10" height="5.5" fill="#fff"/>
<rect x="217.90" y="263.07" width="26.70" height="3.6" rx="1.0" fill="url(#h3)" stroke="#ff6f8e" stroke-opacity="0.18" stroke-width="0.3"/>
<rect x="217.85" y="261.72" width="26.80" height="3.4" rx="1.1" fill="url(#g3)" stroke="#ff6f8e" stroke-opacity="0.3" stroke-width="0.3"/>
<rect x="246.10" y="262.57" width="3.90" height="5.5" fill="#fff"/>
<rect x="246.30" y="263.07" width="3.50" height="3.6" rx="1.0" fill="url(#h12)" stroke="#ff6a40" stroke-opacity="0.18" stroke-width="0.3"/>
<rect x="246.25" y="261.72" width="3.60" height="3.4" rx="1.1" fill="url(#g12)" stroke="#ff6a40" stroke-opacity="0.3" stroke-width="0.3"/>
<rect x="251.30" y="262.57" width="27.20" height="5.5" fill="#fff"/>
<rect x="251.50" y="263.07" width="26.80" height="3.6" rx="1.0" fill="url(#h5)" stroke="#ff2845" stroke-opacity="0.18" stroke-width="0.3"/>
<rect x="251.45" y="261.72" width="26.90" height="3.4" rx="1.1" fill="url(#g5)" stroke="#ff2845" stroke-opacity="0.3" stroke-width="0.3"/>
<rect x="281.60" y="262.57" width="15.60" height="5.5" fill="#fff"/>
<rect x="281.80" y="263.07" width="15.20" height="3.6" rx="1.0" fill="url(#h8)" stroke="#ffad2e" stroke-opacity="0.18" stroke-width="0.3"/>
<rect x="281.75" y="261.72" width="15.30" height="3.4" rx="1.1" fill="url(#g8)" stroke="#ffad2e" stroke-opacity="0.3" stroke-width="0.3"/>
<rect x="299.40" y="262.57" width="10.20" height="5.5" fill="#fff"/>
<rect x="299.60" y="263.07" width="9.80" height="3.6" rx="1.0" fill="url(#h9)" stroke="#8a66b8" stroke-opacity="0.18" stroke-width="0.3"/>
<rect x="299.55" y="261.72" width="9.90" height="3.4" rx="1.1" fill="url(#g9)" stroke="#8a66b8" stroke-opacity="0.3" stroke-width="0.3"/>
<rect x="312.20" y="262.57" width="22.00" height="5.5" fill="#fff"/>
<rect x="312.40" y="263.07" width="21.60" height="3.6" rx="1.0" fill="url(#h7)" stroke="#a8e495" stroke-opacity="0.18" stroke-width="0.3"/>
<rect x="312.35" y="261.72" width="21.70" height="3.4" rx="1.1" fill="url(#g7)" stroke="#a8e495" stroke-opacity="0.3" stroke-width="0.3"/>
<rect x="336.10" y="262.57" width="3.20" height="5.5" fill="#fff"/>
<rect x="336.30" y="263.07" width="2.80" height="3.6" rx="1.0" fill="url(#h13)" stroke="#2fcc99" stroke-opacity="0.18" stroke-width="0.3"/>
<rect x="336.25" y="261.72" width="2.90" height="3.4" rx="1.1" fill="url(#g13)" stroke="#2fcc99" stroke-opacity="0.3" stroke-width="0.3"/>
<rect x="340.80" y="262.57" width="27.30" height="5.5" fill="#fff"/>
<rect x="341.00" y="263.07" width="26.90" height="3.6" rx="1.0" fill="url(#h4)" stroke="#14a8a0" stroke-opacity="0.18" stroke-width="0.3"/>
<rect x="340.95" y="261.72" width="27.00" height="3.4" rx="1.1" fill="url(#g4)" stroke="#14a8a0" stroke-opacity="0.3" stroke-width="0.3"/>
<rect x="369.90" y="262.57" width="26.70" height="5.5" fill="#fff"/>
<rect x="370.10" y="263.07" width="26.30" height="3.6" rx="1.0" fill="url(#h6)" stroke="#b4aed8" stroke-opacity="0.18" stroke-width="0.3"/>
<rect x="370.05" y="261.72" width="26.40" height="3.4" rx="1.1" fill="url(#g6)" stroke="#b4aed8" stroke-opacity="0.3" stroke-width="0.3"/>
<rect x="398.50" y="262.57" width="3.70" height="5.5" fill="#fff"/>
<rect x="398.70" y="263.07" width="3.30" height="3.6" rx="1.0" fill="url(#h11)" stroke="#a3aa90" stroke-opacity="0.18" stroke-width="0.3"/>
<rect x="398.65" y="261.72" width="3.40" height="3.4" rx="1.1" fill="url(#g11)" stroke="#a3aa90" stroke-opacity="0.3" stroke-width="0.3"/>
<rect x="405.60" y="262.57" width="27.10" height="5.5" fill="#fff"/>
<rect x="405.80" y="263.07" width="26.70" height="3.6" rx="1.0" fill="url(#h1)" stroke="#55c040" stroke-opacity="0.18" stroke-width="0.3"/>
<rect x="405.75" y="261.72" width="26.80" height="3.4" rx="1.1" fill="url(#g1)" stroke="#55c040" stroke-opacity="0.3" stroke-width="0.3"/>
<rect x="433.80" y="262.57" width="3.60" height="5.5" fill="#fff"/>
<rect x="434.00" y="263.07" width="3.20" height="3.6" rx="1.0" fill="url(#h14)" stroke="#ffa2bb" stroke-opacity="0.18" stroke-width="0.3"/>
<rect x="433.95" y="261.72" width="3.30" height="3.4" rx="1.1" fill="url(#g14)" stroke="#ffa2bb" stroke-opacity="0.3" stroke-width="0.3"/>
<rect x="438.90" y="262.57" width="26.60" height="5.5" fill="#fff"/>
<rect x="439.10" y="263.07" width="26.20" height="3.6" rx="1.0" fill="url(#h2)" stroke="#ffd20f" stroke-opacity="0.18" stroke-width="0.3"/>
<rect x="439.05" y="261.72" width="26.30" height="3.4" rx="1.1" fill="url(#g2)" stroke="#ffd20f" stroke-opacity="0.3" stroke-width="0.3"/>
<rect x="467.80" y="262.57" width="3.60" height="5.5" fill="#fff"/>
<rect x="468.00" y="263.07" width="3.20" height="3.6" rx="1.0" fill="url(#h10)" stroke="#ffbf9c" stroke-opacity="0.18" stroke-width="0.3"/>
<rect x="467.95" y="261.72" width="3.30" height="3.4" rx="1.1" fill="url(#g10)" stroke="#ffbf9c" stroke-opacity="0.3" stroke-width="0.3"/>
<text class="ml" transform="translate(231.25 268.17) scale(0.85 1)">3</text>
<text class="ml" transform="translate(248.05 268.17) scale(0.85 1)">12</text>
<text class="ml" transform="translate(264.90 268.17) scale(0.85 1)">5</text>
<text class="ml" transform="translate(289.40 268.17) scale(0.85 1)">8</text>
<text class="ml" transform="translate(304.50 268.17) scale(0.85 1)">9</text>
<text class="ml" transform="translate(323.20 268.17) scale(0.85 1)">7</text>
<text class="ml" transform="translate(336.80 268.17) scale(0.85 1)">13</text>
<text class="ml" transform="translate(354.45 268.17) scale(0.85 1)">4</text>
<text class="ml" transform="translate(383.25 268.17) scale(0.85 1)">6</text>
<text class="ml" transform="translate(401.25 268.17) scale(0.85 1)">11</text>
<text class="ml" transform="translate(419.15 268.17) scale(0.85 1)">1</text>
<text class="ml" transform="translate(435.90 268.17) scale(0.85 1)">14</text>
<text class="ml" transform="translate(452.20 268.17) scale(0.85 1)">2</text>
<text class="ml" transform="translate(470.80 268.17) scale(0.85 1)">10</text>
<line x1="216.8" y1="277.99" x2="475.3" y2="277.99" stroke="#777" stroke-width="1.1"/>
<rect x="217.70" y="274.69" width="27.10" height="5.5" fill="#fff"/>
<rect x="217.90" y="275.19" width="26.70" height="3.6" rx="1.0" fill="url(#h3)" stroke="#ff6f8e" stroke-opacity="0.18" stroke-width="0.3"/>
<rect x="217.85" y="273.84" width="26.80" height="3.4" rx="1.1" fill="url(#g3)" stroke="#ff6f8e" stroke-opacity="0.3" stroke-width="0.3"/>
<rect x="246.10" y="274.69" width="3.90" height="5.5" fill="#fff"/>
<rect x="246.30" y="275.19" width="3.50" height="3.6" rx="1.0" fill="url(#h12)" stroke="#ff6a40" stroke-opacity="0.18" stroke-width="0.3"/>
<rect x="246.25" y="273.84" width="3.60" height="3.4" rx="1.1" fill="url(#g12)" stroke="#ff6a40" stroke-opacity="0.3" stroke-width="0.3"/>
<rect x="251.30" y="274.69" width="27.20" height="5.5" fill="#fff"/>
<rect x="251.50" y="275.19" width="26.80" height="3.6" rx="1.0" fill="url(#h5)" stroke="#ff2845" stroke-opacity="0.18" stroke-width="0.3"/>
<rect x="251.45" y="273.84" width="26.90" height="3.4" rx="1.1" fill="url(#g5)" stroke="#ff2845" stroke-opacity="0.3" stroke-width="0.3"/>
<rect x="285.00" y="274.69" width="15.50" height="5.5" fill="#fff"/>
<rect x="285.20" y="275.19" width="15.10" height="3.6" rx="1.0" fill="url(#h8)" stroke="#ffad2e" stroke-opacity="0.18" stroke-width="0.3"/>
<rect x="285.15" y="273.84" width="15.20" height="3.4" rx="1.1" fill="url(#g8)" stroke="#ffad2e" stroke-opacity="0.3" stroke-width="0.3"/>
<rect x="302.70" y="274.69" width="10.40" height="5.5" fill="#fff"/>
<rect x="302.90" y="275.19" width="10.00" height="3.6" rx="1.0" fill="url(#h9)" stroke="#8a66b8" stroke-opacity="0.18" stroke-width="0.3"/>
<rect x="302.85" y="273.84" width="10.10" height="3.4" rx="1.1" fill="url(#g9)" stroke="#8a66b8" stroke-opacity="0.3" stroke-width="0.3"/>
<rect x="316.40" y="274.69" width="21.20" height="5.5" fill="#fff"/>
<rect x="316.60" y="275.19" width="20.80" height="3.6" rx="1.0" fill="url(#h7)" stroke="#a8e495" stroke-opacity="0.18" stroke-width="0.3"/>
<rect x="316.55" y="273.84" width="20.90" height="3.4" rx="1.1" fill="url(#g7)" stroke="#a8e495" stroke-opacity="0.3" stroke-width="0.3"/>
<rect x="339.50" y="274.69" width="3.50" height="5.5" fill="#fff"/>
<rect x="339.70" y="275.19" width="3.10" height="3.6" rx="1.0" fill="url(#h13)" stroke="#2fcc99" stroke-opacity="0.18" stroke-width="0.3"/>
<rect x="339.65" y="273.84" width="3.20" height="3.4" rx="1.1" fill="url(#g13)" stroke="#2fcc99" stroke-opacity="0.3" stroke-width="0.3"/>
<rect x="343.60" y="274.69" width="27.80" height="5.5" fill="#fff"/>
<rect x="343.80" y="275.19" width="27.40" height="3.6" rx="1.0" fill="url(#h4)" stroke="#14a8a0" stroke-opacity="0.18" stroke-width="0.3"/>
<rect x="343.75" y="273.84" width="27.50" height="3.4" rx="1.1" fill="url(#g4)" stroke="#14a8a0" stroke-opacity="0.3" stroke-width="0.3"/>
<rect x="372.70" y="274.69" width="26.50" height="5.5" fill="#fff"/>
<rect x="372.90" y="275.19" width="26.10" height="3.6" rx="1.0" fill="url(#h6)" stroke="#b4aed8" stroke-opacity="0.18" stroke-width="0.3"/>
<rect x="372.85" y="273.84" width="26.20" height="3.4" rx="1.1" fill="url(#g6)" stroke="#b4aed8" stroke-opacity="0.3" stroke-width="0.3"/>
<rect x="401.40" y="274.69" width="3.60" height="5.5" fill="#fff"/>
<rect x="401.60" y="275.19" width="3.20" height="3.6" rx="1.0" fill="url(#h11)" stroke="#a3aa90" stroke-opacity="0.18" stroke-width="0.3"/>
<rect x="401.55" y="273.84" width="3.30" height="3.4" rx="1.1" fill="url(#g11)" stroke="#a3aa90" stroke-opacity="0.3" stroke-width="0.3"/>
<rect x="409.00" y="274.69" width="27.30" height="5.5" fill="#fff"/>
<rect x="409.20" y="275.19" width="26.90" height="3.6" rx="1.0" fill="url(#h1)" stroke="#55c040" stroke-opacity="0.18" stroke-width="0.3"/>
<rect x="409.15" y="273.84" width="27.00" height="3.4" rx="1.1" fill="url(#g1)" stroke="#55c040" stroke-opacity="0.3" stroke-width="0.3"/>
<rect x="437.50" y="274.69" width="3.50" height="5.5" fill="#fff"/>
<rect x="437.70" y="275.19" width="3.10" height="3.6" rx="1.0" fill="url(#h14)" stroke="#ffa2bb" stroke-opacity="0.18" stroke-width="0.3"/>
<rect x="437.65" y="273.84" width="3.20" height="3.4" rx="1.1" fill="url(#g14)" stroke="#ffa2bb" stroke-opacity="0.3" stroke-width="0.3"/>
<rect x="442.30" y="274.69" width="26.70" height="5.5" fill="#fff"/>
<rect x="442.50" y="275.19" width="26.30" height="3.6" rx="1.0" fill="url(#h2)" stroke="#ffd20f" stroke-opacity="0.18" stroke-width="0.3"/>
<rect x="442.45" y="273.84" width="26.40" height="3.4" rx="1.1" fill="url(#g2)" stroke="#ffd20f" stroke-opacity="0.3" stroke-width="0.3"/>
<rect x="471.70" y="274.69" width="3.60" height="5.5" fill="#fff"/>
<rect x="471.90" y="275.19" width="3.20" height="3.6" rx="1.0" fill="url(#h10)" stroke="#ffbf9c" stroke-opacity="0.18" stroke-width="0.3"/>
<rect x="471.85" y="273.84" width="3.30" height="3.4" rx="1.1" fill="url(#g10)" stroke="#ffbf9c" stroke-opacity="0.3" stroke-width="0.3"/>
<text class="ml" transform="translate(231.25 280.29) scale(0.85 1)">3</text>
<text class="ml" transform="translate(248.05 280.29) scale(0.85 1)">12</text>
<text class="ml" transform="translate(264.90 280.29) scale(0.85 1)">5</text>
<text class="ml" transform="translate(292.75 280.29) scale(0.85 1)">8</text>
<text class="ml" transform="translate(307.90 280.29) scale(0.85 1)">9</text>
<text class="ml" transform="translate(327.00 280.29) scale(0.85 1)">7</text>
<text class="ml" transform="translate(340.35 280.29) scale(0.85 1)">13</text>
<text class="ml" transform="translate(357.50 280.29) scale(0.85 1)">4</text>
<text class="ml" transform="translate(385.95 280.29) scale(0.85 1)">6</text>
<text class="ml" transform="translate(404.10 280.29) scale(0.85 1)">11</text>
<text class="ml" transform="translate(422.65 280.29) scale(0.85 1)">1</text>
<text class="ml" transform="translate(439.55 280.29) scale(0.85 1)">14</text>
<text class="ml" transform="translate(455.65 280.29) scale(0.85 1)">2</text>
<text class="ml" transform="translate(474.70 280.29) scale(0.85 1)">10</text>
<line x1="216.8" y1="289.91" x2="488.0" y2="289.91" stroke="#bdbdbd" stroke-width="2"/>
<rect x="223.60" y="286.81" width="27.00" height="5.5" fill="#fff"/>
<rect x="223.80" y="287.31" width="26.60" height="3.6" rx="1.0" fill="url(#h5)" stroke="#ff2845" stroke-opacity="0.18" stroke-width="0.3"/>
<rect x="223.75" y="285.96" width="26.70" height="3.4" rx="1.1" fill="url(#g5)" stroke="#ff2845" stroke-opacity="0.3" stroke-width="0.3"/>
<rect x="259.00" y="286.81" width="4.10" height="5.5" fill="#fff"/>
<rect x="259.20" y="287.31" width="3.70" height="3.6" rx="1.0" fill="url(#h13)" stroke="#2fcc99" stroke-opacity="0.18" stroke-width="0.3"/>
<rect x="259.15" y="285.96" width="3.80" height="3.4" rx="1.1" fill="url(#g13)" stroke="#2fcc99" stroke-opacity="0.3" stroke-width="0.3"/>
<rect x="349.00" y="286.81" width="27.30" height="5.5" fill="#fff"/>
<rect x="349.20" y="287.31" width="26.90" height="3.6" rx="1.0" fill="url(#h4)" stroke="#14a8a0" stroke-opacity="0.18" stroke-width="0.3"/>
<rect x="349.15" y="285.96" width="27.00" height="3.4" rx="1.1" fill="url(#g4)" stroke="#14a8a0" stroke-opacity="0.3" stroke-width="0.3"/>
<rect x="426.40" y="286.81" width="5.50" height="5.5" fill="#fff"/>
<rect x="426.60" y="287.31" width="5.10" height="3.6" rx="1.0" fill="url(#h15)" stroke="#2a88dd" stroke-opacity="0.18" stroke-width="0.3"/>
<rect x="426.55" y="285.96" width="5.20" height="3.4" rx="1.1" fill="url(#g15)" stroke="#2a88dd" stroke-opacity="0.3" stroke-width="0.3"/>
<rect x="456.40" y="286.81" width="27.30" height="5.5" fill="#fff"/>
<rect x="456.60" y="287.31" width="26.90" height="3.6" rx="1.0" fill="url(#h2)" stroke="#ffd20f" stroke-opacity="0.18" stroke-width="0.3"/>
<rect x="456.55" y="285.96" width="27.00" height="3.4" rx="1.1" fill="url(#g2)" stroke="#ffd20f" stroke-opacity="0.3" stroke-width="0.3"/>
<text class="ml" transform="translate(237.10 292.41) scale(0.85 1)">5</text>
<text class="ml" transform="translate(260.15 292.41) scale(0.85 1)">13</text>
<text class="ml" transform="translate(362.65 292.41) scale(0.85 1)">4</text>
<text class="ml" transform="translate(429.15 292.41) scale(0.85 1)">15</text>
<text class="ml" transform="translate(470.05 292.41) scale(0.85 1)">2</text>
<line x1="217" y1="302.2" x2="501" y2="302.2" stroke="#777" stroke-width="1.1"/>
<text class="ax" x="217.4" y="308.3">0</text>
<text class="ax" x="274.1" y="308.3">100</text>
<text class="ax" x="330.9" y="308.3">200</text>
<text class="ax" x="387.6" y="308.3">300</text>
<text class="ax" x="444.4" y="308.3">400</text>
<text class="ax" x="501.1" y="308.3">500</text>
<text class="ax" x="215.6" y="302.0">5'</text>
<text class="ax" x="502.0" y="301.2">3'</text>
<line x1="43.3" y1="297.7" x2="56.4" y2="297.7" stroke="#777" stroke-width="1"/>
<text x="60" y="299.6" style="font-family:'Liberation Sans',sans-serif;font-size:5.6px;fill:#444">0.05 changes</text>
<rect x="509" y="5.40" width="17.6" height="3.1" rx="1.4" fill="url(#L3)"/>
<text class="lg" transform="translate(530.2 12.10) scale(0.9 1)">Motif 3</text>
<rect x="509" y="16.90" width="17.6" height="3.1" rx="1.4" fill="url(#L12)"/>
<text class="lg" transform="translate(530.2 23.60) scale(0.9 1)">Motif 12</text>
<rect x="509" y="28.80" width="17.6" height="3.1" rx="1.4" fill="url(#L5)"/>
<text class="lg" transform="translate(530.2 35.50) scale(0.9 1)">Motif 5</text>
<rect x="509" y="40.40" width="17.6" height="3.1" rx="1.4" fill="url(#L8)"/>
<text class="lg" transform="translate(530.2 47.10) scale(0.9 1)">Motif 8</text>
<rect x="509" y="51.90" width="17.6" height="3.1" rx="1.4" fill="url(#L9)"/>
<text class="lg" transform="translate(530.2 58.60) scale(0.9 1)">Motif 9</text>
<rect x="509" y="63.10" width="17.6" height="3.1" rx="1.4" fill="url(#L7)"/>
<text class="lg" transform="translate(530.2 69.80) scale(0.9 1)">Motif 7</text>
<rect x="509" y="73.80" width="17.6" height="3.1" rx="1.4" fill="url(#L13)"/>
<text class="lg" transform="translate(530.2 80.50) scale(0.9 1)">Motif 13</text>
<rect x="509" y="84.80" width="17.6" height="3.1" rx="1.4" fill="url(#L4)"/>
<text class="lg" transform="translate(530.2 91.50) scale(0.9 1)">Motif 4</text>
<rect x="509" y="95.80" width="17.6" height="3.1" rx="1.4" fill="url(#L6)"/>
<text class="lg" transform="translate(530.2 102.50) scale(0.9 1)">Motif 6</text>
<rect x="509" y="106.90" width="17.6" height="3.1" rx="1.4" fill="url(#L11)"/>
<text class="lg" transform="translate(530.2 113.60) scale(0.9 1)">Motif 11</text>
<rect x="509" y="118.70" width="17.6" height="3.1" rx="1.4" fill="url(#L1)"/>
<text class="lg" transform="translate(530.2 125.40) scale(0.9 1)">Motif 1</text>
<rect x="509" y="131.50" width="17.6" height="3.1" rx="1.4" fill="url(#L14)"/>
<text class="lg" transform="translate(530.2 138.20) scale(0.9 1)">Motif 14</text>
<rect x="509" y="142.70" width="17.6" height="3.1" rx="1.4" fill="url(#L2)"/>
<text class="lg" transform="translate(530.2 149.40) scale(0.9 1)">Motif 2</text>
<rect x="509" y="154.60" width="17.6" height="3.1" rx="1.4" fill="url(#L10)"/>
<text class="lg" transform="translate(530.2 161.30) scale(0.9 1)">Motif 10</text>
<rect x="509" y="166.70" width="17.6" height="3.1" rx="1.4" fill="url(#L15)"/>
<text class="lg" transform="translate(530.2 173.40) scale(0.9 1)">Motif 15</text>
</svg></body></html>
